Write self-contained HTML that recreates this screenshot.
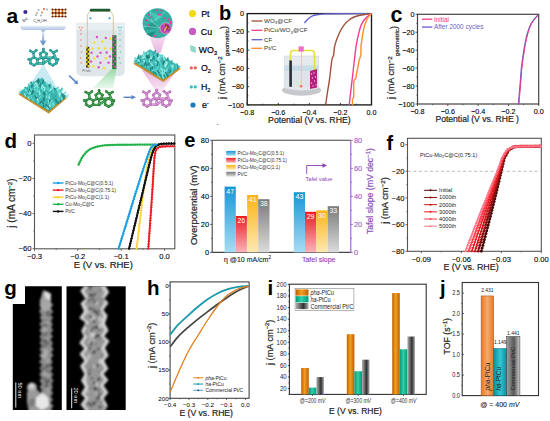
<!DOCTYPE html>
<html><head><meta charset="utf-8"><style>
html,body{margin:0;padding:0;background:#fff;}
body{width:550px;height:421px;overflow:hidden;}
svg{display:block;font-family:"Liberation Sans",sans-serif;}
</style></head><body>
<svg width="550" height="421" viewBox="0 0 550 421">
<defs>
<linearGradient id="gBlue" x1="0" y1="0" x2="0" y2="1"><stop offset="0" stop-color="#1896d6"/><stop offset="1" stop-color="#a8dcf4"/></linearGradient>
<linearGradient id="gRed" x1="0" y1="0" x2="0" y2="1"><stop offset="0" stop-color="#ec1c24"/><stop offset="1" stop-color="#f9b4bb"/></linearGradient>
<linearGradient id="gYel" x1="0" y1="0" x2="0" y2="1"><stop offset="0" stop-color="#fbb414"/><stop offset="1" stop-color="#fde9b4"/></linearGradient>
<linearGradient id="gGray" x1="0" y1="0" x2="0" y2="1"><stop offset="0" stop-color="#7a7a7a"/><stop offset="1" stop-color="#dcdcdc"/></linearGradient>
<linearGradient id="cOr" x1="0" y1="0" x2="1" y2="0"><stop offset="0" stop-color="#c06000"/><stop offset="0.45" stop-color="#f0a020"/><stop offset="1" stop-color="#c06000"/></linearGradient>
<linearGradient id="cTe" x1="0" y1="0" x2="1" y2="0"><stop offset="0" stop-color="#009a7a"/><stop offset="0.45" stop-color="#30d0a8"/><stop offset="1" stop-color="#009a7a"/></linearGradient>
<linearGradient id="cGr" x1="0" y1="0" x2="1" y2="0"><stop offset="0" stop-color="#b0b0b0"/><stop offset="0.6" stop-color="#303030"/><stop offset="1" stop-color="#b4b4b4"/></linearGradient>
<linearGradient id="jOr" x1="0" y1="0" x2="1" y2="0"><stop offset="0" stop-color="#e87828"/><stop offset="0.5" stop-color="#f8a868"/><stop offset="1" stop-color="#e87828"/></linearGradient>
<linearGradient id="jTe" x1="0" y1="0" x2="1" y2="0"><stop offset="0" stop-color="#108c98"/><stop offset="0.5" stop-color="#30c8d4"/><stop offset="1" stop-color="#108c98"/></linearGradient>
<linearGradient id="jGr" x1="0" y1="0" x2="1" y2="0"><stop offset="0" stop-color="#a0a0a0"/><stop offset="0.55" stop-color="#585858"/><stop offset="1" stop-color="#d0d0d0"/></linearGradient>
<filter id="blur1" x="-20%" y="-20%" width="140%" height="140%"><feGaussianBlur stdDeviation="0.6"/></filter>
<filter id="blurT" x="-20%" y="-5%" width="140%" height="110%"><feGaussianBlur stdDeviation="0.85"/></filter>
<filter id="blur2" x="-20%" y="-20%" width="140%" height="140%"><feGaussianBlur stdDeviation="1.0"/></filter>
<clipPath id="clipG1"><path d="M25,286.3 L61.8,286.3 L61.8,410 L12.8,410 L12.8,304.1 L25,304.1 Z"/></clipPath>
<clipPath id="clipG2"><rect x="66.5" y="286.3" width="59.2" height="123.7"/></clipPath>
<linearGradient id="wireL" x1="0" y1="0" x2="1" y2="0"><stop offset="0" stop-color="#707070"/><stop offset="0.5" stop-color="#9a9a9a"/><stop offset="1" stop-color="#6a6a6a"/></linearGradient>
<linearGradient id="wireR" x1="0" y1="0" x2="1" y2="0"><stop offset="0" stop-color="#a8a8a8"/><stop offset="0.5" stop-color="#c8c8c8"/><stop offset="1" stop-color="#a0a0a0"/></linearGradient>
</defs>
<text x="219.00" y="20.00" font-size="20" font-weight="bold" fill="#000">b</text>
<g>
<ellipse cx="301.6" cy="90.2" rx="19.6" ry="5.5" fill="#c6c8cb"/>
<path d="M284.3,56 L318.5,56 L318.5,88 Q301.4,93 284.3,88 Z" fill="#e6eaee" stroke="#cfd4d8" stroke-width="0.6"/>
<rect x="284.30" y="65.50" width="34.20" height="5.80" fill="#c8dce8"/>
<rect x="284.30" y="71.30" width="34.20" height="16.00" fill="#dde5ec"/>
<path d="M290.5,62 L290.5,54 Q290.5,50.5 294,50.5 L311,50.5 Q314.5,50.5 314.5,54 L314.5,71" fill="none" stroke="#e3df3c" stroke-width="1.6"/>
<rect x="289.30" y="60.50" width="2.60" height="26.30" fill="#2a2e34"/>
<line x1="301.50" y1="51.00" x2="301.20" y2="86.00" stroke="#e8d070" stroke-width="0.9"/>
<circle cx="301.1" cy="86.3" r="1.4" fill="#f08060"/>
<rect x="298.60" y="46.40" width="5.20" height="5.20" fill="#f070c0"/>
<path d="M310,71 L317,69 L317,87.5 L310,89 Z" fill="#b0207e"/>
<circle cx="311.5" cy="74" r="0.7" fill="#f0c0e0"/>
<circle cx="314" cy="73" r="0.7" fill="#f0c0e0"/>
<circle cx="312.5" cy="78" r="0.7" fill="#f0c0e0"/>
<circle cx="315.5" cy="77" r="0.7" fill="#f0c0e0"/>
<circle cx="311.5" cy="83" r="0.7" fill="#f0c0e0"/>
<circle cx="314.5" cy="81" r="0.7" fill="#f0c0e0"/>
<circle cx="313" cy="86" r="0.7" fill="#f0c0e0"/>
<circle cx="316" cy="85" r="0.7" fill="#f0c0e0"/>
</g>
<rect x="247.20" y="13.60" width="124.30" height="91.30" fill="none" stroke="#1a1a1a" stroke-width="1.35"/>
<line x1="247.20" y1="13.60" x2="249.20" y2="13.60" stroke="#222" stroke-width="0.9"/>
<text x="244.00" y="16.20" font-size="7.2" text-anchor="end" fill="#000" stroke="#000" stroke-width="0.1">0</text>
<line x1="247.20" y1="22.73" x2="248.40" y2="22.73" stroke="#222" stroke-width="0.8"/>
<line x1="247.20" y1="31.86" x2="249.20" y2="31.86" stroke="#222" stroke-width="0.9"/>
<text x="244.00" y="34.46" font-size="7.2" text-anchor="end" fill="#000" stroke="#000" stroke-width="0.1">&#8722;20</text>
<line x1="247.20" y1="40.99" x2="248.40" y2="40.99" stroke="#222" stroke-width="0.8"/>
<line x1="247.20" y1="50.12" x2="249.20" y2="50.12" stroke="#222" stroke-width="0.9"/>
<text x="244.00" y="52.72" font-size="7.2" text-anchor="end" fill="#000" stroke="#000" stroke-width="0.1">&#8722;40</text>
<line x1="247.20" y1="59.25" x2="248.40" y2="59.25" stroke="#222" stroke-width="0.8"/>
<line x1="247.20" y1="68.38" x2="249.20" y2="68.38" stroke="#222" stroke-width="0.9"/>
<text x="244.00" y="70.98" font-size="7.2" text-anchor="end" fill="#000" stroke="#000" stroke-width="0.1">&#8722;60</text>
<line x1="247.20" y1="77.51" x2="248.40" y2="77.51" stroke="#222" stroke-width="0.8"/>
<line x1="247.20" y1="86.64" x2="249.20" y2="86.64" stroke="#222" stroke-width="0.9"/>
<text x="244.00" y="89.24" font-size="7.2" text-anchor="end" fill="#000" stroke="#000" stroke-width="0.1">&#8722;80</text>
<line x1="247.20" y1="95.77" x2="248.40" y2="95.77" stroke="#222" stroke-width="0.8"/>
<line x1="247.20" y1="104.90" x2="249.20" y2="104.90" stroke="#222" stroke-width="0.9"/>
<text x="244.00" y="107.50" font-size="7.2" text-anchor="end" fill="#000" stroke="#000" stroke-width="0.1">&#8722;100</text>
<line x1="247.20" y1="104.90" x2="247.20" y2="102.90" stroke="#222" stroke-width="0.9"/>
<text x="247.20" y="114.50" font-size="7.2" text-anchor="middle" fill="#000" stroke="#000" stroke-width="0.1">&#8722;0.8</text>
<line x1="262.74" y1="104.90" x2="262.74" y2="103.70" stroke="#222" stroke-width="0.8"/>
<line x1="278.27" y1="104.90" x2="278.27" y2="102.90" stroke="#222" stroke-width="0.9"/>
<text x="278.27" y="114.50" font-size="7.2" text-anchor="middle" fill="#000" stroke="#000" stroke-width="0.1">&#8722;0.6</text>
<line x1="293.81" y1="104.90" x2="293.81" y2="103.70" stroke="#222" stroke-width="0.8"/>
<line x1="309.35" y1="104.90" x2="309.35" y2="102.90" stroke="#222" stroke-width="0.9"/>
<text x="309.35" y="114.50" font-size="7.2" text-anchor="middle" fill="#000" stroke="#000" stroke-width="0.1">&#8722;0.4</text>
<line x1="324.89" y1="104.90" x2="324.89" y2="103.70" stroke="#222" stroke-width="0.8"/>
<line x1="340.43" y1="104.90" x2="340.43" y2="102.90" stroke="#222" stroke-width="0.9"/>
<text x="340.43" y="114.50" font-size="7.2" text-anchor="middle" fill="#000" stroke="#000" stroke-width="0.1">&#8722;0.2</text>
<line x1="355.96" y1="104.90" x2="355.96" y2="103.70" stroke="#222" stroke-width="0.8"/>
<line x1="371.50" y1="104.90" x2="371.50" y2="102.90" stroke="#222" stroke-width="0.9"/>
<text x="371.50" y="114.50" font-size="7.2" text-anchor="middle" fill="#000" stroke="#000" stroke-width="0.1">0.0</text>
<text x="309.40" y="123.30" font-size="8.75" text-anchor="middle" fill="#222" stroke="#222" stroke-width="0.2">Potential (V vs. RHE)</text>
<text transform="translate(224.6,62.5) rotate(-90)" font-size="9.2" text-anchor="middle" fill="#222" stroke="#222" stroke-width="0.2">j (mA cm<tspan font-size="6.2" dy="-2.4">&#8722;2</tspan><tspan font-size="6.2" dy="7.0">geometric</tspan><tspan dy="-2.2">)</tspan></text>
<path d="M304.80,22.50 C305.43,21.83 307.20,19.63 308.60,18.50 C310.00,17.37 311.53,16.37 313.20,15.70 C314.87,15.03 316.33,14.80 318.60,14.50 C320.87,14.20 323.23,14.03 326.80,13.90 C330.37,13.77 332.63,13.75 340.00,13.70 C347.37,13.65 365.83,13.62 371.00,13.60" stroke="#6060c8" stroke-width="1.4" fill="none" stroke-linejoin="round" stroke-linecap="round"/>
<path d="M325.70,105.00 C326.00,102.83 326.88,96.13 327.50,92.00 C328.12,87.87 328.67,85.53 329.40,80.20 C330.13,74.87 331.20,64.20 331.90,60.00 C332.60,55.80 333.12,57.40 333.60,55.00 C334.08,52.60 333.90,49.13 334.80,45.60 C335.70,42.07 337.50,37.17 339.00,33.80 C340.50,30.43 342.02,27.78 343.80,25.40 C345.58,23.02 347.73,20.98 349.70,19.50 C351.67,18.02 353.05,17.33 355.60,16.50 C358.15,15.67 362.38,14.95 365.00,14.50 C367.62,14.05 370.25,13.92 371.30,13.80" stroke="#a0503a" stroke-width="1.4" fill="none" stroke-linejoin="round" stroke-linecap="round"/>
<path d="M349.20,105.00 C349.45,102.83 350.22,96.13 350.70,92.00 C351.18,87.87 351.48,85.53 352.10,80.20 C352.72,74.87 353.92,64.20 354.40,60.00 C354.88,55.80 354.70,57.40 355.00,55.00 C355.30,52.60 355.60,49.13 356.20,45.60 C356.80,42.07 357.80,37.17 358.60,33.80 C359.40,30.43 360.02,27.78 361.00,25.40 C361.98,23.02 363.42,20.98 364.50,19.50 C365.58,18.02 366.37,17.45 367.50,16.50 C368.63,15.55 370.67,14.25 371.30,13.80" stroke="#f03c96" stroke-width="1.4" fill="none" stroke-linejoin="round" stroke-linecap="round"/>
<path d="M352.50,104.50 L352.50,99.00 L353.70,97.00 L353.70,82.00 L354.20,80.20 L355.90,78.30 L356.50,73.90 L357.80,67.60 L359.20,60.00 L360.90,55.00 L361.00,45.60 L362.80,33.80 L364.50,25.40 L366.90,19.50 L369.00,16.00 L371.30,13.80" stroke="#ff8c28" stroke-width="1.4" fill="none" stroke-linejoin="round" stroke-linecap="round"/>
<line x1="251.50" y1="21.00" x2="262.40" y2="21.00" stroke="#a0503a" stroke-width="1.3"/>
<text x="264.10" y="22.90" font-size="6.25" fill="#333">WO<tspan font-size="4.4" dy="1.5">3</tspan><tspan dy="-1.5">@CF</tspan></text>
<line x1="251.50" y1="30.30" x2="262.40" y2="30.30" stroke="#f03c96" stroke-width="1.3"/>
<text x="264.10" y="32.20" font-size="6.25" fill="#333">PtCu/WO<tspan font-size="4.4" dy="1.5">3</tspan><tspan dy="-1.5">@CF</tspan></text>
<line x1="251.50" y1="39.70" x2="262.40" y2="39.70" stroke="#6060c8" stroke-width="1.3"/>
<text x="264.10" y="41.60" font-size="6.25" fill="#333">CF</text>
<line x1="251.50" y1="48.30" x2="262.40" y2="48.30" stroke="#ff8c28" stroke-width="1.3"/>
<text x="264.10" y="50.20" font-size="6.25" fill="#333">Pt/C</text>
<text x="390.60" y="21.60" font-size="21.5" font-weight="bold" fill="#000">c</text>
<rect x="417.50" y="14.30" width="121.20" height="89.70" fill="none" stroke="#444" stroke-width="1.2"/>
<line x1="417.50" y1="14.30" x2="415.50" y2="14.30" stroke="#444" stroke-width="0.9"/>
<text x="414.50" y="16.89" font-size="7.2" text-anchor="end" fill="#000" stroke="#000" stroke-width="0.1">0</text>
<line x1="417.50" y1="23.27" x2="416.30" y2="23.27" stroke="#444" stroke-width="0.8"/>
<line x1="417.50" y1="32.24" x2="415.50" y2="32.24" stroke="#444" stroke-width="0.9"/>
<text x="414.50" y="34.83" font-size="7.2" text-anchor="end" fill="#000" stroke="#000" stroke-width="0.1">&#8722;20</text>
<line x1="417.50" y1="41.21" x2="416.30" y2="41.21" stroke="#444" stroke-width="0.8"/>
<line x1="417.50" y1="50.18" x2="415.50" y2="50.18" stroke="#444" stroke-width="0.9"/>
<text x="414.50" y="52.77" font-size="7.2" text-anchor="end" fill="#000" stroke="#000" stroke-width="0.1">&#8722;40</text>
<line x1="417.50" y1="59.15" x2="416.30" y2="59.15" stroke="#444" stroke-width="0.8"/>
<line x1="417.50" y1="68.12" x2="415.50" y2="68.12" stroke="#444" stroke-width="0.9"/>
<text x="414.50" y="70.71" font-size="7.2" text-anchor="end" fill="#000" stroke="#000" stroke-width="0.1">&#8722;60</text>
<line x1="417.50" y1="77.09" x2="416.30" y2="77.09" stroke="#444" stroke-width="0.8"/>
<line x1="417.50" y1="86.06" x2="415.50" y2="86.06" stroke="#444" stroke-width="0.9"/>
<text x="414.50" y="88.65" font-size="7.2" text-anchor="end" fill="#000" stroke="#000" stroke-width="0.1">&#8722;80</text>
<line x1="417.50" y1="95.03" x2="416.30" y2="95.03" stroke="#444" stroke-width="0.8"/>
<line x1="417.50" y1="104.00" x2="415.50" y2="104.00" stroke="#444" stroke-width="0.9"/>
<text x="414.50" y="106.59" font-size="7.2" text-anchor="end" fill="#000" stroke="#000" stroke-width="0.1">&#8722;100</text>
<line x1="417.50" y1="104.00" x2="417.50" y2="106.00" stroke="#444" stroke-width="0.9"/>
<text x="417.50" y="113.60" font-size="7.2" text-anchor="middle" fill="#000" stroke="#000" stroke-width="0.1">&#8722;0.8</text>
<line x1="432.65" y1="104.00" x2="432.65" y2="105.20" stroke="#444" stroke-width="0.8"/>
<line x1="447.80" y1="104.00" x2="447.80" y2="106.00" stroke="#444" stroke-width="0.9"/>
<text x="447.80" y="113.60" font-size="7.2" text-anchor="middle" fill="#000" stroke="#000" stroke-width="0.1">&#8722;0.6</text>
<line x1="462.95" y1="104.00" x2="462.95" y2="105.20" stroke="#444" stroke-width="0.8"/>
<line x1="478.10" y1="104.00" x2="478.10" y2="106.00" stroke="#444" stroke-width="0.9"/>
<text x="478.10" y="113.60" font-size="7.2" text-anchor="middle" fill="#000" stroke="#000" stroke-width="0.1">&#8722;0.4</text>
<line x1="493.25" y1="104.00" x2="493.25" y2="105.20" stroke="#444" stroke-width="0.8"/>
<line x1="508.40" y1="104.00" x2="508.40" y2="106.00" stroke="#444" stroke-width="0.9"/>
<text x="508.40" y="113.60" font-size="7.2" text-anchor="middle" fill="#000" stroke="#000" stroke-width="0.1">&#8722;0.2</text>
<line x1="523.55" y1="104.00" x2="523.55" y2="105.20" stroke="#444" stroke-width="0.8"/>
<line x1="538.70" y1="104.00" x2="538.70" y2="106.00" stroke="#444" stroke-width="0.9"/>
<text x="538.70" y="113.60" font-size="7.2" text-anchor="middle" fill="#000" stroke="#000" stroke-width="0.1">0.0</text>
<text x="477.20" y="122.40" font-size="8.6" text-anchor="middle" fill="#222" stroke="#222" stroke-width="0.2">Potential (V vs. RHE )</text>
<text transform="translate(394.4,62.5) rotate(-90)" font-size="9.2" text-anchor="middle" fill="#222" stroke="#222" stroke-width="0.2">j (mA cm<tspan font-size="6.2" dy="-2.4">&#8722;2</tspan><tspan font-size="6.2" dy="7.0">geometric</tspan><tspan dy="-2.2">)</tspan></text>
<path d="M518.50,104.00 C518.65,102.18 519.08,96.88 519.40,93.10 C519.72,89.32 520.08,85.25 520.40,81.30 C520.72,77.35 520.90,73.37 521.30,69.40 C521.70,65.43 522.23,61.47 522.80,57.50 C523.37,53.53 523.95,49.55 524.70,45.60 C525.45,41.65 526.28,37.35 527.30,33.80 C528.32,30.25 529.62,26.77 530.80,24.30 C531.98,21.83 533.28,20.47 534.40,19.00 C535.52,17.53 536.98,16.08 537.50,15.50" stroke="#6a5ad0" stroke-width="1.3" fill="none" stroke-linejoin="round" stroke-linecap="round"/>
<path d="M518.95,104.00 C519.10,102.18 519.53,96.88 519.85,93.10 C520.17,89.32 520.53,85.25 520.85,81.30 C521.17,77.35 521.35,73.37 521.75,69.40 C522.15,65.43 522.68,61.47 523.25,57.50 C523.82,53.53 524.40,49.55 525.15,45.60 C525.90,41.65 526.73,37.35 527.75,33.80 C528.77,30.25 530.07,26.77 531.25,24.30 C532.43,21.83 533.73,20.47 534.85,19.00 C535.97,17.53 537.43,16.08 537.95,15.50" stroke="#f03c8c" stroke-width="1.0" fill="none" stroke-linejoin="round" stroke-linecap="round"/>
<line x1="422.00" y1="19.20" x2="432.40" y2="19.20" stroke="#f03c8c" stroke-width="1.3"/>
<text x="434.00" y="21.50" font-size="6.45" fill="#f8307c">Initial</text>
<line x1="422.00" y1="27.10" x2="432.40" y2="27.10" stroke="#6a5ad0" stroke-width="1.3"/>
<text x="434.00" y="29.40" font-size="6.45" fill="#6a60c4">After 2000 cycles</text>
<text x="4.60" y="147.50" font-size="20.5" font-weight="bold" fill="#000">d</text>
<rect x="34.50" y="135.00" width="140.30" height="113.80" fill="none" stroke="#555" stroke-width="1.1"/>
<line x1="34.50" y1="143.30" x2="32.50" y2="143.30" stroke="#555" stroke-width="0.9"/>
<text x="31.50" y="146.04" font-size="7.6" text-anchor="end" fill="#000" stroke="#000" stroke-width="0.1">0</text>
<line x1="34.50" y1="178.43" x2="32.50" y2="178.43" stroke="#555" stroke-width="0.9"/>
<text x="31.50" y="181.17" font-size="7.6" text-anchor="end" fill="#000" stroke="#000" stroke-width="0.1">&#8722;20</text>
<line x1="34.50" y1="213.56" x2="32.50" y2="213.56" stroke="#555" stroke-width="0.9"/>
<text x="31.50" y="216.30" font-size="7.6" text-anchor="end" fill="#000" stroke="#000" stroke-width="0.1">&#8722;40</text>
<line x1="34.50" y1="248.69" x2="32.50" y2="248.69" stroke="#555" stroke-width="0.9"/>
<text x="31.50" y="251.43" font-size="7.6" text-anchor="end" fill="#000" stroke="#000" stroke-width="0.1">&#8722;60</text>
<line x1="34.50" y1="160.87" x2="33.30" y2="160.87" stroke="#555" stroke-width="0.8"/>
<line x1="34.50" y1="196.00" x2="33.30" y2="196.00" stroke="#555" stroke-width="0.8"/>
<line x1="34.50" y1="231.12" x2="33.30" y2="231.12" stroke="#555" stroke-width="0.8"/>
<line x1="34.50" y1="248.80" x2="34.50" y2="250.80" stroke="#555" stroke-width="0.9"/>
<text x="34.50" y="259.00" font-size="7.6" text-anchor="middle" fill="#000" stroke="#000" stroke-width="0.1">&#8722;0.3</text>
<line x1="56.17" y1="248.80" x2="56.17" y2="250.00" stroke="#555" stroke-width="0.8"/>
<line x1="77.85" y1="248.80" x2="77.85" y2="250.80" stroke="#555" stroke-width="0.9"/>
<text x="77.85" y="259.00" font-size="7.6" text-anchor="middle" fill="#000" stroke="#000" stroke-width="0.1">&#8722;0.2</text>
<line x1="99.53" y1="248.80" x2="99.53" y2="250.00" stroke="#555" stroke-width="0.8"/>
<line x1="121.20" y1="248.80" x2="121.20" y2="250.80" stroke="#555" stroke-width="0.9"/>
<text x="121.20" y="259.00" font-size="7.6" text-anchor="middle" fill="#000" stroke="#000" stroke-width="0.1">&#8722;0.1</text>
<line x1="142.88" y1="248.80" x2="142.88" y2="250.00" stroke="#555" stroke-width="0.8"/>
<line x1="164.55" y1="248.80" x2="164.55" y2="250.80" stroke="#555" stroke-width="0.9"/>
<text x="164.55" y="259.00" font-size="7.6" text-anchor="middle" fill="#000" stroke="#000" stroke-width="0.1">0.0</text>
<text x="103.30" y="268.00" font-size="9.5" text-anchor="middle" fill="#222" stroke="#222" stroke-width="0.2">E (V vs. RHE)</text>
<text transform="translate(15.2,203) rotate(-90)" font-size="10.0" text-anchor="middle" fill="#222" stroke="#222" stroke-width="0.2">j (mA cm<tspan font-size="6.2" dy="-3.6">&#8722;2</tspan><tspan dy="3.6">)</tspan></text>
<path d="M78.60,164.60 C79.17,163.42 80.65,159.67 82.00,157.50 C83.35,155.33 85.20,153.08 86.70,151.60 C88.20,150.12 89.33,149.42 91.00,148.60 C92.67,147.78 94.70,147.22 96.70,146.70 C98.70,146.18 100.78,145.78 103.00,145.50 C105.22,145.22 107.17,145.13 110.00,145.00 C112.83,144.87 115.00,144.77 120.00,144.70 C125.00,144.63 134.17,144.62 140.00,144.60 C145.83,144.58 152.50,144.60 155.00,144.60" stroke="#22b24c" stroke-width="1.5" fill="none" stroke-linejoin="round" stroke-linecap="round"/>
<circle cx="78.60" cy="164.60" r="1.2" fill="#22b24c"/>
<circle cx="79.68" cy="162.35" r="1.2" fill="#22b24c"/>
<circle cx="80.76" cy="160.09" r="1.2" fill="#22b24c"/>
<circle cx="81.84" cy="157.84" r="1.2" fill="#22b24c"/>
<circle cx="83.33" cy="155.84" r="1.2" fill="#22b24c"/>
<circle cx="84.88" cy="153.88" r="1.2" fill="#22b24c"/>
<circle cx="86.44" cy="151.92" r="1.2" fill="#22b24c"/>
<circle cx="88.41" cy="150.41" r="1.2" fill="#22b24c"/>
<circle cx="90.46" cy="148.98" r="1.2" fill="#22b24c"/>
<circle cx="92.75" cy="148.02" r="1.2" fill="#22b24c"/>
<circle cx="95.12" cy="147.23" r="1.2" fill="#22b24c"/>
<circle cx="97.52" cy="146.54" r="1.2" fill="#22b24c"/>
<circle cx="99.97" cy="146.08" r="1.2" fill="#22b24c"/>
<circle cx="102.43" cy="145.61" r="1.2" fill="#22b24c"/>
<circle cx="104.92" cy="145.36" r="1.2" fill="#22b24c"/>
<circle cx="107.41" cy="145.19" r="1.2" fill="#22b24c"/>
<circle cx="109.90" cy="145.01" r="1.2" fill="#22b24c"/>
<circle cx="112.40" cy="144.93" r="1.2" fill="#22b24c"/>
<circle cx="114.90" cy="144.85" r="1.2" fill="#22b24c"/>
<circle cx="117.40" cy="144.78" r="1.2" fill="#22b24c"/>
<circle cx="119.90" cy="144.70" r="1.2" fill="#22b24c"/>
<circle cx="122.40" cy="144.69" r="1.2" fill="#22b24c"/>
<circle cx="124.90" cy="144.68" r="1.2" fill="#22b24c"/>
<circle cx="127.40" cy="144.66" r="1.2" fill="#22b24c"/>
<circle cx="129.90" cy="144.65" r="1.2" fill="#22b24c"/>
<circle cx="132.40" cy="144.64" r="1.2" fill="#22b24c"/>
<circle cx="134.90" cy="144.63" r="1.2" fill="#22b24c"/>
<circle cx="137.40" cy="144.61" r="1.2" fill="#22b24c"/>
<circle cx="139.90" cy="144.60" r="1.2" fill="#22b24c"/>
<circle cx="142.40" cy="144.60" r="1.2" fill="#22b24c"/>
<circle cx="144.90" cy="144.60" r="1.2" fill="#22b24c"/>
<circle cx="147.40" cy="144.60" r="1.2" fill="#22b24c"/>
<circle cx="149.90" cy="144.60" r="1.2" fill="#22b24c"/>
<circle cx="152.40" cy="144.60" r="1.2" fill="#22b24c"/>
<circle cx="154.90" cy="144.60" r="1.2" fill="#22b24c"/>
<path d="M148.30,248.50 C148.62,244.08 149.57,230.92 150.20,222.00 C150.83,213.08 151.53,203.67 152.10,195.00 C152.67,186.33 153.18,176.50 153.60,170.00 C154.02,163.50 154.20,159.33 154.60,156.00 C155.00,152.67 155.35,151.43 156.00,150.00 C156.65,148.57 157.50,148.00 158.50,147.40 C159.50,146.80 160.42,146.60 162.00,146.40 C163.58,146.20 165.92,146.23 168.00,146.20 C170.08,146.17 173.42,146.20 174.50,146.20" stroke="#ee1c25" stroke-width="1.6" fill="none" stroke-linejoin="round" stroke-linecap="round"/>
<path d="M148.30,246.88 L149.79,249.58 L146.81,249.58Z" fill="#ee1c25"/>
<path d="M148.49,244.29 L149.97,246.99 L147.00,246.99Z" fill="#ee1c25"/>
<path d="M148.67,241.69 L150.16,244.39 L147.19,244.39Z" fill="#ee1c25"/>
<path d="M148.86,239.10 L150.34,241.80 L147.37,241.80Z" fill="#ee1c25"/>
<path d="M149.04,236.51 L150.53,239.21 L147.56,239.21Z" fill="#ee1c25"/>
<path d="M149.23,233.91 L150.71,236.61 L147.74,236.61Z" fill="#ee1c25"/>
<path d="M149.42,231.32 L150.90,234.02 L147.93,234.02Z" fill="#ee1c25"/>
<path d="M149.60,228.73 L151.09,231.43 L148.12,231.43Z" fill="#ee1c25"/>
<path d="M149.79,226.13 L151.27,228.83 L148.30,228.83Z" fill="#ee1c25"/>
<path d="M149.97,223.54 L151.46,226.24 L148.49,226.24Z" fill="#ee1c25"/>
<path d="M150.16,220.95 L151.64,223.65 L148.67,223.65Z" fill="#ee1c25"/>
<path d="M150.34,218.35 L151.83,221.05 L148.86,221.05Z" fill="#ee1c25"/>
<path d="M150.53,215.76 L152.01,218.46 L149.04,218.46Z" fill="#ee1c25"/>
<path d="M150.71,213.17 L152.19,215.87 L149.22,215.87Z" fill="#ee1c25"/>
<path d="M150.89,210.57 L152.38,213.27 L149.41,213.27Z" fill="#ee1c25"/>
<path d="M151.07,207.98 L152.56,210.68 L149.59,210.68Z" fill="#ee1c25"/>
<path d="M151.26,205.39 L152.74,208.09 L149.77,208.09Z" fill="#ee1c25"/>
<path d="M151.44,202.79 L152.92,205.49 L149.95,205.49Z" fill="#ee1c25"/>
<path d="M151.62,200.20 L153.11,202.90 L150.14,202.90Z" fill="#ee1c25"/>
<path d="M151.80,197.60 L153.29,200.30 L150.32,200.30Z" fill="#ee1c25"/>
<path d="M151.99,195.01 L153.47,197.71 L150.50,197.71Z" fill="#ee1c25"/>
<path d="M152.16,192.42 L153.64,195.12 L150.67,195.12Z" fill="#ee1c25"/>
<path d="M152.31,189.82 L153.80,192.52 L150.83,192.52Z" fill="#ee1c25"/>
<path d="M152.47,187.23 L153.95,189.93 L150.98,189.93Z" fill="#ee1c25"/>
<path d="M152.62,184.63 L154.11,187.33 L151.14,187.33Z" fill="#ee1c25"/>
<path d="M152.78,182.04 L154.27,184.74 L151.30,184.74Z" fill="#ee1c25"/>
<path d="M152.94,179.44 L154.42,182.14 L151.45,182.14Z" fill="#ee1c25"/>
<path d="M153.09,176.84 L154.58,179.54 L151.61,179.54Z" fill="#ee1c25"/>
<path d="M153.25,174.25 L154.73,176.95 L151.76,176.95Z" fill="#ee1c25"/>
<path d="M153.40,171.65 L154.89,174.35 L151.92,174.35Z" fill="#ee1c25"/>
<path d="M153.56,169.06 L155.04,171.76 L152.07,171.76Z" fill="#ee1c25"/>
<path d="M153.74,166.46 L155.22,169.16 L152.25,169.16Z" fill="#ee1c25"/>
<path d="M153.92,163.87 L155.41,166.57 L152.44,166.57Z" fill="#ee1c25"/>
<path d="M154.11,161.28 L155.59,163.98 L152.62,163.98Z" fill="#ee1c25"/>
<path d="M154.29,158.68 L155.78,161.38 L152.81,161.38Z" fill="#ee1c25"/>
<path d="M154.48,156.09 L155.96,158.79 L152.99,158.79Z" fill="#ee1c25"/>
<path d="M154.80,153.52 L156.29,156.22 L153.32,156.22Z" fill="#ee1c25"/>
<path d="M155.39,150.99 L156.88,153.69 L153.91,153.69Z" fill="#ee1c25"/>
<path d="M155.98,148.45 L157.47,151.15 L154.50,151.15Z" fill="#ee1c25"/>
<path d="M157.75,146.56 L159.23,149.26 L156.26,149.26Z" fill="#ee1c25"/>
<path d="M159.96,145.36 L161.44,148.06 L158.47,148.06Z" fill="#ee1c25"/>
<path d="M162.48,144.76 L163.96,147.46 L160.99,147.46Z" fill="#ee1c25"/>
<path d="M165.07,144.68 L166.56,147.38 L163.59,147.38Z" fill="#ee1c25"/>
<path d="M167.67,144.59 L169.16,147.29 L166.19,147.29Z" fill="#ee1c25"/>
<path d="M170.27,144.58 L171.76,147.28 L168.79,147.28Z" fill="#ee1c25"/>
<path d="M172.87,144.58 L174.36,147.28 L171.39,147.28Z" fill="#ee1c25"/>
<path d="M136.60,248.50 C137.13,244.08 138.73,230.92 139.80,222.00 C140.87,213.08 141.88,203.67 143.00,195.00 C144.12,186.33 145.33,176.67 146.50,170.00 C147.67,163.33 149.00,158.58 150.00,155.00 C151.00,151.42 151.58,150.07 152.50,148.50 C153.42,146.93 154.25,146.25 155.50,145.60 C156.75,144.95 159.25,144.77 160.00,144.60" stroke="#ffd232" stroke-width="1.5" fill="none" stroke-linejoin="round" stroke-linecap="round"/>
<path d="M136.60,247.06 L137.92,249.46 L135.28,249.46Z" fill="#ffd232"/>
<path d="M136.91,244.48 L138.23,246.88 L135.59,246.88Z" fill="#ffd232"/>
<path d="M137.22,241.90 L138.54,244.30 L135.90,244.30Z" fill="#ffd232"/>
<path d="M137.54,239.32 L138.86,241.72 L136.22,241.72Z" fill="#ffd232"/>
<path d="M137.85,236.74 L139.17,239.14 L136.53,239.14Z" fill="#ffd232"/>
<path d="M138.16,234.15 L139.48,236.55 L136.84,236.55Z" fill="#ffd232"/>
<path d="M138.47,231.57 L139.79,233.97 L137.15,233.97Z" fill="#ffd232"/>
<path d="M138.78,228.99 L140.10,231.39 L137.46,231.39Z" fill="#ffd232"/>
<path d="M139.09,226.41 L140.41,228.81 L137.77,228.81Z" fill="#ffd232"/>
<path d="M139.41,223.83 L140.73,226.23 L138.09,226.23Z" fill="#ffd232"/>
<path d="M139.72,221.25 L141.04,223.65 L138.40,223.65Z" fill="#ffd232"/>
<path d="M140.02,218.67 L141.34,221.07 L138.70,221.07Z" fill="#ffd232"/>
<path d="M140.33,216.08 L141.65,218.48 L139.01,218.48Z" fill="#ffd232"/>
<path d="M140.64,213.50 L141.96,215.90 L139.32,215.90Z" fill="#ffd232"/>
<path d="M140.94,210.92 L142.26,213.32 L139.62,213.32Z" fill="#ffd232"/>
<path d="M141.25,208.34 L142.57,210.74 L139.93,210.74Z" fill="#ffd232"/>
<path d="M141.55,205.76 L142.87,208.16 L140.23,208.16Z" fill="#ffd232"/>
<path d="M141.86,203.17 L143.18,205.57 L140.54,205.57Z" fill="#ffd232"/>
<path d="M142.17,200.59 L143.49,202.99 L140.85,202.99Z" fill="#ffd232"/>
<path d="M142.47,198.01 L143.79,200.41 L141.15,200.41Z" fill="#ffd232"/>
<path d="M142.78,195.43 L144.10,197.83 L141.46,197.83Z" fill="#ffd232"/>
<path d="M143.10,192.85 L144.42,195.25 L141.78,195.25Z" fill="#ffd232"/>
<path d="M143.46,190.27 L144.78,192.67 L142.14,192.67Z" fill="#ffd232"/>
<path d="M143.82,187.70 L145.14,190.10 L142.50,190.10Z" fill="#ffd232"/>
<path d="M144.18,185.12 L145.50,187.52 L142.86,187.52Z" fill="#ffd232"/>
<path d="M144.54,182.55 L145.86,184.95 L143.22,184.95Z" fill="#ffd232"/>
<path d="M144.90,179.97 L146.22,182.37 L143.58,182.37Z" fill="#ffd232"/>
<path d="M145.26,177.40 L146.58,179.80 L143.94,179.80Z" fill="#ffd232"/>
<path d="M145.62,174.82 L146.94,177.22 L144.30,177.22Z" fill="#ffd232"/>
<path d="M145.98,172.25 L147.30,174.65 L144.66,174.65Z" fill="#ffd232"/>
<path d="M146.34,169.67 L147.66,172.07 L145.02,172.07Z" fill="#ffd232"/>
<path d="M146.84,167.12 L148.16,169.52 L145.52,169.52Z" fill="#ffd232"/>
<path d="M147.43,164.59 L148.75,166.99 L146.11,166.99Z" fill="#ffd232"/>
<path d="M148.02,162.06 L149.34,164.46 L146.70,164.46Z" fill="#ffd232"/>
<path d="M148.61,159.53 L149.93,161.93 L147.29,161.93Z" fill="#ffd232"/>
<path d="M149.20,157.00 L150.52,159.40 L147.88,159.40Z" fill="#ffd232"/>
<path d="M149.79,154.46 L151.11,156.86 L148.47,156.86Z" fill="#ffd232"/>
<path d="M150.60,152.00 L151.92,154.40 L149.28,154.40Z" fill="#ffd232"/>
<path d="M151.53,149.57 L152.85,151.97 L150.21,151.97Z" fill="#ffd232"/>
<path d="M152.47,147.15 L153.79,149.55 L151.15,149.55Z" fill="#ffd232"/>
<path d="M154.30,145.32 L155.62,147.72 L152.98,147.72Z" fill="#ffd232"/>
<path d="M156.41,143.96 L157.73,146.36 L155.09,146.36Z" fill="#ffd232"/>
<path d="M158.95,143.39 L160.27,145.79 L157.63,145.79Z" fill="#ffd232"/>
<path d="M129.10,248.50 C130.17,244.08 133.35,230.92 135.50,222.00 C137.65,213.08 140.00,203.33 142.00,195.00 C144.00,186.67 145.92,178.50 147.50,172.00 C149.08,165.50 150.42,159.83 151.50,156.00 C152.58,152.17 153.08,150.80 154.00,149.00 C154.92,147.20 155.83,146.05 157.00,145.20 C158.17,144.35 159.17,144.17 161.00,143.90 C162.83,143.63 165.75,143.65 168.00,143.60 C170.25,143.55 173.42,143.60 174.50,143.60" stroke="#111" stroke-width="1.7" fill="none" stroke-linejoin="round" stroke-linecap="round"/>
<path d="M129.10,246.75 L130.45,248.50 L129.10,250.25 L127.75,248.50Z" fill="#111"/>
<path d="M129.71,244.22 L131.06,245.97 L129.71,247.73 L128.36,245.97Z" fill="#111"/>
<path d="M130.32,241.69 L131.67,243.45 L130.32,245.20 L128.97,243.45Z" fill="#111"/>
<path d="M130.93,239.16 L132.28,240.92 L130.93,242.67 L129.58,240.92Z" fill="#111"/>
<path d="M131.54,236.64 L132.89,238.39 L131.54,240.15 L130.19,238.39Z" fill="#111"/>
<path d="M132.15,234.11 L133.50,235.86 L132.15,237.62 L130.80,235.86Z" fill="#111"/>
<path d="M132.76,231.58 L134.11,233.34 L132.76,235.09 L131.41,233.34Z" fill="#111"/>
<path d="M133.37,229.05 L134.72,230.81 L133.37,232.56 L132.02,230.81Z" fill="#111"/>
<path d="M133.98,226.53 L135.33,228.28 L133.98,230.04 L132.63,228.28Z" fill="#111"/>
<path d="M134.59,224.00 L135.94,225.75 L134.59,227.51 L133.24,225.75Z" fill="#111"/>
<path d="M135.20,221.47 L136.55,223.23 L135.20,224.98 L133.85,223.23Z" fill="#111"/>
<path d="M135.81,218.94 L137.16,220.70 L135.81,222.45 L134.46,220.70Z" fill="#111"/>
<path d="M136.42,216.42 L137.77,218.17 L136.42,219.93 L135.07,218.17Z" fill="#111"/>
<path d="M137.03,213.89 L138.38,215.64 L137.03,217.40 L135.68,215.64Z" fill="#111"/>
<path d="M137.64,211.36 L138.99,213.12 L137.64,214.87 L136.29,213.12Z" fill="#111"/>
<path d="M138.25,208.83 L139.60,210.59 L138.25,212.34 L136.90,210.59Z" fill="#111"/>
<path d="M138.86,206.31 L140.21,208.06 L138.86,209.82 L137.51,208.06Z" fill="#111"/>
<path d="M139.46,203.78 L140.81,205.53 L139.46,207.29 L138.11,205.53Z" fill="#111"/>
<path d="M140.07,201.25 L141.42,203.00 L140.07,204.76 L138.72,203.00Z" fill="#111"/>
<path d="M140.68,198.72 L142.03,200.48 L140.68,202.23 L139.33,200.48Z" fill="#111"/>
<path d="M141.29,196.19 L142.64,197.95 L141.29,199.70 L139.94,197.95Z" fill="#111"/>
<path d="M141.90,193.67 L143.25,195.42 L141.90,197.18 L140.55,195.42Z" fill="#111"/>
<path d="M142.50,191.14 L143.85,192.89 L142.50,194.65 L141.15,192.89Z" fill="#111"/>
<path d="M143.11,188.61 L144.46,190.36 L143.11,192.12 L141.76,190.36Z" fill="#111"/>
<path d="M143.71,186.08 L145.06,187.84 L143.71,189.59 L142.36,187.84Z" fill="#111"/>
<path d="M144.32,183.55 L145.67,185.31 L144.32,187.06 L142.97,185.31Z" fill="#111"/>
<path d="M144.92,181.02 L146.27,182.78 L144.92,184.53 L143.57,182.78Z" fill="#111"/>
<path d="M145.53,178.49 L146.88,180.25 L145.53,182.00 L144.18,180.25Z" fill="#111"/>
<path d="M146.13,175.97 L147.48,177.72 L146.13,179.48 L144.78,177.72Z" fill="#111"/>
<path d="M146.74,173.44 L148.09,175.19 L146.74,176.95 L145.39,175.19Z" fill="#111"/>
<path d="M147.34,170.91 L148.69,172.66 L147.34,174.42 L145.99,172.66Z" fill="#111"/>
<path d="M147.97,168.38 L149.32,170.14 L147.97,171.89 L146.62,170.14Z" fill="#111"/>
<path d="M148.60,165.86 L149.95,167.62 L148.60,169.37 L147.25,167.62Z" fill="#111"/>
<path d="M149.23,163.34 L150.58,165.09 L149.23,166.85 L147.88,165.09Z" fill="#111"/>
<path d="M149.86,160.82 L151.21,162.57 L149.86,164.33 L148.51,162.57Z" fill="#111"/>
<path d="M150.49,158.29 L151.84,160.05 L150.49,161.80 L149.14,160.05Z" fill="#111"/>
<path d="M151.12,155.77 L152.47,157.53 L151.12,159.28 L149.77,157.53Z" fill="#111"/>
<path d="M151.85,153.28 L153.20,155.03 L151.85,156.79 L150.50,155.03Z" fill="#111"/>
<path d="M152.72,150.83 L154.07,152.59 L152.72,154.34 L151.37,152.59Z" fill="#111"/>
<path d="M153.59,148.38 L154.94,150.14 L153.59,151.89 L152.24,150.14Z" fill="#111"/>
<path d="M154.86,146.15 L156.21,147.91 L154.86,149.66 L153.51,147.91Z" fill="#111"/>
<path d="M156.47,144.11 L157.82,145.87 L156.47,147.62 L155.12,145.87Z" fill="#111"/>
<path d="M158.67,142.90 L160.02,144.66 L158.67,146.41 L157.32,144.66Z" fill="#111"/>
<path d="M161.15,142.14 L162.50,143.89 L161.15,145.65 L159.80,143.89Z" fill="#111"/>
<path d="M163.74,142.03 L165.09,143.78 L163.74,145.54 L162.39,143.78Z" fill="#111"/>
<path d="M166.34,141.92 L167.69,143.67 L166.34,145.43 L164.99,143.67Z" fill="#111"/>
<path d="M168.94,141.84 L170.29,143.60 L168.94,145.35 L167.59,143.60Z" fill="#111"/>
<path d="M171.54,141.84 L172.89,143.60 L171.54,145.35 L170.19,143.60Z" fill="#111"/>
<path d="M174.14,141.84 L175.49,143.60 L174.14,145.35 L172.79,143.60Z" fill="#111"/>
<path d="M118.60,248.50 C119.97,244.08 124.07,230.92 126.80,222.00 C129.53,213.08 132.42,203.33 135.00,195.00 C137.58,186.67 140.13,178.67 142.30,172.00 C144.47,165.33 146.63,158.95 148.00,155.00 C149.37,151.05 149.58,149.93 150.50,148.30 C151.42,146.67 152.42,145.83 153.50,145.20 C154.58,144.57 156.42,144.62 157.00,144.50" stroke="#1a9ee0" stroke-width="1.5" fill="none" stroke-linejoin="round" stroke-linecap="round"/>
<circle cx="118.60" cy="248.50" r="1.2" fill="#1a9ee0"/>
<circle cx="119.37" cy="246.02" r="1.2" fill="#1a9ee0"/>
<circle cx="120.14" cy="243.53" r="1.2" fill="#1a9ee0"/>
<circle cx="120.91" cy="241.05" r="1.2" fill="#1a9ee0"/>
<circle cx="121.67" cy="238.56" r="1.2" fill="#1a9ee0"/>
<circle cx="122.44" cy="236.08" r="1.2" fill="#1a9ee0"/>
<circle cx="123.21" cy="233.60" r="1.2" fill="#1a9ee0"/>
<circle cx="123.98" cy="231.11" r="1.2" fill="#1a9ee0"/>
<circle cx="124.75" cy="228.63" r="1.2" fill="#1a9ee0"/>
<circle cx="125.52" cy="226.15" r="1.2" fill="#1a9ee0"/>
<circle cx="126.29" cy="223.66" r="1.2" fill="#1a9ee0"/>
<circle cx="127.05" cy="221.18" r="1.2" fill="#1a9ee0"/>
<circle cx="127.81" cy="218.69" r="1.2" fill="#1a9ee0"/>
<circle cx="128.56" cy="216.20" r="1.2" fill="#1a9ee0"/>
<circle cx="129.32" cy="213.71" r="1.2" fill="#1a9ee0"/>
<circle cx="130.07" cy="211.23" r="1.2" fill="#1a9ee0"/>
<circle cx="130.83" cy="208.74" r="1.2" fill="#1a9ee0"/>
<circle cx="131.58" cy="206.25" r="1.2" fill="#1a9ee0"/>
<circle cx="132.34" cy="203.76" r="1.2" fill="#1a9ee0"/>
<circle cx="133.09" cy="201.27" r="1.2" fill="#1a9ee0"/>
<circle cx="133.85" cy="198.79" r="1.2" fill="#1a9ee0"/>
<circle cx="134.61" cy="196.30" r="1.2" fill="#1a9ee0"/>
<circle cx="135.38" cy="193.82" r="1.2" fill="#1a9ee0"/>
<circle cx="136.16" cy="191.34" r="1.2" fill="#1a9ee0"/>
<circle cx="136.95" cy="188.86" r="1.2" fill="#1a9ee0"/>
<circle cx="137.74" cy="186.38" r="1.2" fill="#1a9ee0"/>
<circle cx="138.52" cy="183.90" r="1.2" fill="#1a9ee0"/>
<circle cx="139.31" cy="181.42" r="1.2" fill="#1a9ee0"/>
<circle cx="140.10" cy="178.95" r="1.2" fill="#1a9ee0"/>
<circle cx="140.88" cy="176.47" r="1.2" fill="#1a9ee0"/>
<circle cx="141.67" cy="173.99" r="1.2" fill="#1a9ee0"/>
<circle cx="142.46" cy="171.51" r="1.2" fill="#1a9ee0"/>
<circle cx="143.29" cy="169.05" r="1.2" fill="#1a9ee0"/>
<circle cx="144.12" cy="166.58" r="1.2" fill="#1a9ee0"/>
<circle cx="144.94" cy="164.12" r="1.2" fill="#1a9ee0"/>
<circle cx="145.77" cy="161.65" r="1.2" fill="#1a9ee0"/>
<circle cx="146.60" cy="159.19" r="1.2" fill="#1a9ee0"/>
<circle cx="147.42" cy="156.72" r="1.2" fill="#1a9ee0"/>
<circle cx="148.27" cy="154.27" r="1.2" fill="#1a9ee0"/>
<circle cx="149.18" cy="151.83" r="1.2" fill="#1a9ee0"/>
<circle cx="150.09" cy="149.40" r="1.2" fill="#1a9ee0"/>
<circle cx="151.49" cy="147.27" r="1.2" fill="#1a9ee0"/>
<circle cx="153.30" cy="145.40" r="1.2" fill="#1a9ee0"/>
<circle cx="155.77" cy="144.75" r="1.2" fill="#1a9ee0"/>
<line x1="52.80" y1="183.00" x2="63.50" y2="183.00" stroke="#1a9ee0" stroke-width="1.4"/>
<circle cx="58.1" cy="183.0" r="1.2" fill="#1a9ee0"/>
<text x="65.30" y="184.80" font-size="4.95" fill="#333">PtCu-Mo<tspan font-size="3.6" dy="1">2</tspan><tspan dy="-1">C@C(0.5:1)</tspan></text>
<line x1="52.80" y1="190.10" x2="63.50" y2="190.10" stroke="#ee1c25" stroke-width="1.4"/>
<circle cx="58.1" cy="190.1" r="1.2" fill="#ee1c25"/>
<text x="65.30" y="191.90" font-size="4.95" fill="#333">PtCu-Mo<tspan font-size="3.6" dy="1">2</tspan><tspan dy="-1">C@C(0.75:1)</tspan></text>
<line x1="52.80" y1="197.20" x2="63.50" y2="197.20" stroke="#ffd02a" stroke-width="1.4"/>
<circle cx="58.1" cy="197.2" r="1.2" fill="#ffd02a"/>
<text x="65.30" y="199.00" font-size="4.95" fill="#333">PtCu-Mo<tspan font-size="3.6" dy="1">2</tspan><tspan dy="-1">C@C(1:1)</tspan></text>
<line x1="52.80" y1="204.30" x2="63.50" y2="204.30" stroke="#22b24c" stroke-width="1.4"/>
<circle cx="58.1" cy="204.3" r="1.2" fill="#22b24c"/>
<text x="65.30" y="206.10" font-size="4.95" fill="#333">Cu-Mo<tspan font-size="3.6" dy="1">2</tspan><tspan dy="-1">C@C</tspan></text>
<line x1="52.80" y1="211.40" x2="63.50" y2="211.40" stroke="#111" stroke-width="1.4"/>
<circle cx="58.1" cy="211.4" r="1.2" fill="#111"/>
<text x="65.30" y="213.20" font-size="4.95" fill="#333">Pt/C</text>
<text x="184.20" y="146.60" font-size="20" font-weight="bold" fill="#000">e</text>
<line x1="212.2" y1="140.3" x2="350.8" y2="140.3" stroke="#444" stroke-width="1.1"/>
<line x1="212.2" y1="140.3" x2="212.2" y2="252.4" stroke="#444" stroke-width="1.1"/>
<line x1="212.2" y1="252.4" x2="350.8" y2="252.4" stroke="#444" stroke-width="1.1"/>
<line x1="350.8" y1="140.3" x2="350.8" y2="252.4" stroke="#9a5cc0" stroke-width="1.1"/>
<line x1="212.20" y1="252.40" x2="210.20" y2="252.40" stroke="#444" stroke-width="0.9"/>
<text x="209.00" y="255.06" font-size="7.4" text-anchor="end" fill="#000" stroke="#000" stroke-width="0.1">0</text>
<line x1="212.20" y1="238.39" x2="211.00" y2="238.39" stroke="#444" stroke-width="0.8"/>
<line x1="212.20" y1="224.38" x2="210.20" y2="224.38" stroke="#444" stroke-width="0.9"/>
<text x="209.00" y="227.04" font-size="7.4" text-anchor="end" fill="#000" stroke="#000" stroke-width="0.1">20</text>
<line x1="212.20" y1="210.37" x2="211.00" y2="210.37" stroke="#444" stroke-width="0.8"/>
<line x1="212.20" y1="196.36" x2="210.20" y2="196.36" stroke="#444" stroke-width="0.9"/>
<text x="209.00" y="199.02" font-size="7.4" text-anchor="end" fill="#000" stroke="#000" stroke-width="0.1">40</text>
<line x1="212.20" y1="182.35" x2="211.00" y2="182.35" stroke="#444" stroke-width="0.8"/>
<line x1="212.20" y1="168.34" x2="210.20" y2="168.34" stroke="#444" stroke-width="0.9"/>
<text x="209.00" y="171.00" font-size="7.4" text-anchor="end" fill="#000" stroke="#000" stroke-width="0.1">60</text>
<line x1="212.20" y1="154.33" x2="211.00" y2="154.33" stroke="#444" stroke-width="0.8"/>
<line x1="212.20" y1="140.32" x2="210.20" y2="140.32" stroke="#444" stroke-width="0.9"/>
<text x="209.00" y="142.98" font-size="7.4" text-anchor="end" fill="#000" stroke="#000" stroke-width="0.1">80</text>
<line x1="350.80" y1="252.40" x2="352.80" y2="252.40" stroke="#9a5cc0" stroke-width="0.9"/>
<text x="354.00" y="255.06" font-size="7.4" fill="#9a5cc0" stroke="#9a5cc0" stroke-width="0.1">0</text>
<line x1="350.80" y1="238.39" x2="352.00" y2="238.39" stroke="#9a5cc0" stroke-width="0.8"/>
<line x1="350.80" y1="224.38" x2="352.80" y2="224.38" stroke="#9a5cc0" stroke-width="0.9"/>
<text x="354.00" y="227.04" font-size="7.4" fill="#9a5cc0" stroke="#9a5cc0" stroke-width="0.1">20</text>
<line x1="350.80" y1="210.37" x2="352.00" y2="210.37" stroke="#9a5cc0" stroke-width="0.8"/>
<line x1="350.80" y1="196.36" x2="352.80" y2="196.36" stroke="#9a5cc0" stroke-width="0.9"/>
<text x="354.00" y="199.02" font-size="7.4" fill="#9a5cc0" stroke="#9a5cc0" stroke-width="0.1">40</text>
<line x1="350.80" y1="182.35" x2="352.00" y2="182.35" stroke="#9a5cc0" stroke-width="0.8"/>
<line x1="350.80" y1="168.34" x2="352.80" y2="168.34" stroke="#9a5cc0" stroke-width="0.9"/>
<text x="354.00" y="171.00" font-size="7.4" fill="#9a5cc0" stroke="#9a5cc0" stroke-width="0.1">60</text>
<line x1="350.80" y1="154.33" x2="352.00" y2="154.33" stroke="#9a5cc0" stroke-width="0.8"/>
<line x1="350.80" y1="140.32" x2="352.80" y2="140.32" stroke="#9a5cc0" stroke-width="0.9"/>
<text x="354.00" y="142.98" font-size="7.4" fill="#9a5cc0" stroke="#9a5cc0" stroke-width="0.1">80</text>
<rect x="224.60" y="186.60" width="11.20" height="65.80" fill="url(#gBlue)"/>
<text x="230.20" y="193.80" font-size="7.0" text-anchor="middle" fill="#fff">47</text>
<rect x="235.80" y="216.00" width="11.10" height="36.40" fill="url(#gRed)"/>
<text x="241.35" y="223.20" font-size="7.0" text-anchor="middle" fill="#fff">26</text>
<rect x="247.10" y="195.00" width="11.10" height="57.40" fill="url(#gYel)"/>
<text x="252.65" y="202.20" font-size="7.0" text-anchor="middle" fill="#fff">41</text>
<rect x="258.20" y="199.20" width="11.30" height="53.20" fill="url(#gGray)"/>
<text x="263.85" y="206.40" font-size="7.0" text-anchor="middle" fill="#fff">38</text>
<rect x="293.80" y="192.20" width="11.20" height="60.20" fill="url(#gBlue)"/>
<text x="299.40" y="199.40" font-size="7.0" text-anchor="middle" fill="#fff">43</text>
<rect x="305.00" y="211.80" width="11.10" height="40.60" fill="url(#gRed)"/>
<text x="310.55" y="219.00" font-size="7.0" text-anchor="middle" fill="#fff">29</text>
<rect x="316.10" y="210.40" width="11.60" height="42.00" fill="url(#gYel)"/>
<text x="321.90" y="217.60" font-size="7.0" text-anchor="middle" fill="#fff">30</text>
<rect x="327.70" y="206.20" width="11.30" height="46.20" fill="url(#gGray)"/>
<text x="333.35" y="213.40" font-size="7.0" text-anchor="middle" fill="#fff">33</text>
<rect x="226.20" y="150.90" width="9.50" height="4.80" fill="url(#gBlue)"/>
<text x="237.60" y="155.00" font-size="4.8" fill="#333">PtCu-Mo<tspan font-size="3.4" dy="1">2</tspan><tspan dy="-1">C@C(0.5:1)</tspan></text>
<rect x="226.20" y="157.90" width="9.50" height="4.80" fill="url(#gRed)"/>
<text x="237.60" y="162.00" font-size="4.8" fill="#333">PtCu-Mo<tspan font-size="3.4" dy="1">2</tspan><tspan dy="-1">C@C(0.75:1)</tspan></text>
<rect x="226.20" y="164.90" width="9.50" height="4.80" fill="url(#gYel)"/>
<text x="237.60" y="169.00" font-size="4.8" fill="#333">PtCu-Mo<tspan font-size="3.4" dy="1">2</tspan><tspan dy="-1">C@C(1:1)</tspan></text>
<rect x="226.20" y="171.80" width="9.50" height="4.80" fill="url(#gGray)"/>
<text x="237.60" y="175.90" font-size="5.0" fill="#333">Pt/C</text>
<path d="M306.70,173.50 L306.70,165.50 L324.00,165.50" stroke="#8a3cb0" stroke-width="0.9" fill="none" stroke-linejoin="round" stroke-linecap="round"/>
<path d="M327,165.5 L322.5,163.3 L322.5,167.7 Z" fill="#8a3cb0"/>
<text x="305.50" y="180.60" font-size="5.6" fill="#8a3cb0">Tafel value</text>
<text x="247.30" y="261.80" font-size="7.0" text-anchor="middle" fill="#222" stroke="#222" stroke-width="0.1"><tspan font-family="Liberation Serif" font-size="8">&#951;</tspan> @10 mA/cm<tspan font-size="4.5" dy="-3">2</tspan></text>
<text x="318.70" y="261.80" font-size="7.0" text-anchor="middle" fill="#8a3cb0" stroke="#8a3cb0" stroke-width="0.1">Tafel slope</text>
<text transform="translate(196.7,205.2) rotate(-90)" font-size="9.5" text-anchor="middle" fill="#222" stroke="#222" stroke-width="0.2">Overpotential (mV)</text>
<text transform="translate(373.2,191.1) rotate(-90)" font-size="8.7" text-anchor="middle" fill="#8a50b8" stroke="#8a50b8" stroke-width="0.2">Tafel slope (mV dec<tspan font-size="6" dy="-3.5">&#8722;1</tspan><tspan dy="3.5">)</tspan></text>
<text x="386.40" y="150.00" font-size="19.8" font-weight="bold" fill="#000">f</text>
<rect x="407.50" y="138.30" width="133.80" height="113.00" fill="none" stroke="#555" stroke-width="1.1"/>
<line x1="407.50" y1="144.60" x2="405.50" y2="144.60" stroke="#555" stroke-width="0.9"/>
<text x="404.50" y="147.34" font-size="7.6" text-anchor="end" fill="#000" stroke="#000" stroke-width="0.1">0</text>
<line x1="407.50" y1="157.94" x2="406.30" y2="157.94" stroke="#555" stroke-width="0.8"/>
<line x1="407.50" y1="171.28" x2="405.50" y2="171.28" stroke="#555" stroke-width="0.9"/>
<text x="404.50" y="174.02" font-size="7.6" text-anchor="end" fill="#000" stroke="#000" stroke-width="0.1">&#8722;20</text>
<line x1="407.50" y1="184.62" x2="406.30" y2="184.62" stroke="#555" stroke-width="0.8"/>
<line x1="407.50" y1="197.96" x2="405.50" y2="197.96" stroke="#555" stroke-width="0.9"/>
<text x="404.50" y="200.70" font-size="7.6" text-anchor="end" fill="#000" stroke="#000" stroke-width="0.1">&#8722;40</text>
<line x1="407.50" y1="211.30" x2="406.30" y2="211.30" stroke="#555" stroke-width="0.8"/>
<line x1="407.50" y1="224.64" x2="405.50" y2="224.64" stroke="#555" stroke-width="0.9"/>
<text x="404.50" y="227.38" font-size="7.6" text-anchor="end" fill="#000" stroke="#000" stroke-width="0.1">&#8722;60</text>
<line x1="407.50" y1="237.98" x2="406.30" y2="237.98" stroke="#555" stroke-width="0.8"/>
<line x1="407.50" y1="251.32" x2="405.50" y2="251.32" stroke="#555" stroke-width="0.9"/>
<text x="404.50" y="254.06" font-size="7.6" text-anchor="end" fill="#000" stroke="#000" stroke-width="0.1">&#8722;80</text>
<line x1="421.30" y1="251.30" x2="421.30" y2="253.30" stroke="#555" stroke-width="0.9"/>
<text x="421.30" y="261.50" font-size="7.6" text-anchor="middle" fill="#000" stroke="#000" stroke-width="0.1">&#8722;0.09</text>
<line x1="441.30" y1="251.30" x2="441.30" y2="252.50" stroke="#555" stroke-width="0.8"/>
<line x1="461.30" y1="251.30" x2="461.30" y2="253.30" stroke="#555" stroke-width="0.9"/>
<text x="461.30" y="261.50" font-size="7.6" text-anchor="middle" fill="#000" stroke="#000" stroke-width="0.1">&#8722;0.06</text>
<line x1="481.30" y1="251.30" x2="481.30" y2="252.50" stroke="#555" stroke-width="0.8"/>
<line x1="501.30" y1="251.30" x2="501.30" y2="253.30" stroke="#555" stroke-width="0.9"/>
<text x="501.30" y="261.50" font-size="7.6" text-anchor="middle" fill="#000" stroke="#000" stroke-width="0.1">&#8722;0.03</text>
<line x1="521.30" y1="251.30" x2="521.30" y2="252.50" stroke="#555" stroke-width="0.8"/>
<line x1="541.30" y1="251.30" x2="541.30" y2="253.30" stroke="#555" stroke-width="0.9"/>
<text x="541.30" y="261.50" font-size="7.6" text-anchor="middle" fill="#000" stroke="#000" stroke-width="0.1">0.00</text>
<line x1="408.00" y1="171.30" x2="541.00" y2="171.30" stroke="#aaa" stroke-width="0.8" stroke-dasharray="3,2.5"/>
<text x="471.00" y="269.60" font-size="8.9" text-anchor="middle" fill="#222" stroke="#222" stroke-width="0.2">E (V vs. RHE)</text>
<text transform="translate(388.4,200.5) rotate(-90)" font-size="9.4" text-anchor="middle" fill="#222" stroke="#222" stroke-width="0.2">j (mA cm<tspan font-size="6.2" dy="-3.6">&#8722;2</tspan><tspan dy="3.6">)</tspan></text>
<text x="420.00" y="156.60" font-size="5.6" fill="#222">PtCu-Mo<tspan font-size="3.8" dy="1">2</tspan><tspan dy="-1">C@C(0.75:1)</tspan></text>
<path d="M481.40,251.00 C482.75,245.83 486.90,230.17 489.50,220.00 C492.10,209.83 495.03,198.17 497.00,190.00 C498.97,181.83 500.05,176.33 501.30,171.00 C502.55,165.67 503.30,161.43 504.50,158.00 C505.70,154.57 506.98,152.23 508.50,150.40 C510.02,148.57 511.68,147.68 513.60,147.00 C515.52,146.32 515.43,146.45 520.00,146.30 C524.57,146.15 537.50,146.13 541.00,146.10" stroke="#4a0a0a" stroke-width="1.1" fill="none" stroke-linejoin="round" stroke-linecap="round"/>
<circle cx="481.40" cy="251.00" r="1.5" fill="#4a0a0a"/>
<circle cx="482.16" cy="248.10" r="1.5" fill="#4a0a0a"/>
<circle cx="482.92" cy="245.19" r="1.5" fill="#4a0a0a"/>
<circle cx="483.68" cy="242.29" r="1.5" fill="#4a0a0a"/>
<circle cx="484.43" cy="239.39" r="1.5" fill="#4a0a0a"/>
<circle cx="485.19" cy="236.49" r="1.5" fill="#4a0a0a"/>
<circle cx="485.95" cy="233.58" r="1.5" fill="#4a0a0a"/>
<circle cx="486.71" cy="230.68" r="1.5" fill="#4a0a0a"/>
<circle cx="487.47" cy="227.78" r="1.5" fill="#4a0a0a"/>
<circle cx="488.23" cy="224.88" r="1.5" fill="#4a0a0a"/>
<circle cx="488.98" cy="221.97" r="1.5" fill="#4a0a0a"/>
<circle cx="489.73" cy="219.07" r="1.5" fill="#4a0a0a"/>
<circle cx="490.46" cy="216.16" r="1.5" fill="#4a0a0a"/>
<circle cx="491.19" cy="213.25" r="1.5" fill="#4a0a0a"/>
<circle cx="491.92" cy="210.34" r="1.5" fill="#4a0a0a"/>
<circle cx="492.64" cy="207.43" r="1.5" fill="#4a0a0a"/>
<circle cx="493.37" cy="204.52" r="1.5" fill="#4a0a0a"/>
<circle cx="494.10" cy="201.61" r="1.5" fill="#4a0a0a"/>
<circle cx="494.83" cy="198.70" r="1.5" fill="#4a0a0a"/>
<circle cx="495.55" cy="195.79" r="1.5" fill="#4a0a0a"/>
<circle cx="496.28" cy="192.88" r="1.5" fill="#4a0a0a"/>
<circle cx="497.01" cy="189.96" r="1.5" fill="#4a0a0a"/>
<circle cx="497.67" cy="187.04" r="1.5" fill="#4a0a0a"/>
<circle cx="498.33" cy="184.11" r="1.5" fill="#4a0a0a"/>
<circle cx="498.99" cy="181.19" r="1.5" fill="#4a0a0a"/>
<circle cx="499.66" cy="178.26" r="1.5" fill="#4a0a0a"/>
<circle cx="500.32" cy="175.33" r="1.5" fill="#4a0a0a"/>
<circle cx="500.98" cy="172.41" r="1.5" fill="#4a0a0a"/>
<circle cx="501.67" cy="169.49" r="1.5" fill="#4a0a0a"/>
<circle cx="502.39" cy="166.58" r="1.5" fill="#4a0a0a"/>
<circle cx="503.11" cy="163.66" r="1.5" fill="#4a0a0a"/>
<circle cx="503.82" cy="160.75" r="1.5" fill="#4a0a0a"/>
<circle cx="504.58" cy="157.85" r="1.5" fill="#4a0a0a"/>
<circle cx="505.98" cy="155.20" r="1.5" fill="#4a0a0a"/>
<circle cx="507.37" cy="152.54" r="1.5" fill="#4a0a0a"/>
<circle cx="508.98" cy="150.08" r="1.5" fill="#4a0a0a"/>
<circle cx="511.48" cy="148.41" r="1.5" fill="#4a0a0a"/>
<circle cx="514.05" cy="146.95" r="1.5" fill="#4a0a0a"/>
<circle cx="517.03" cy="146.62" r="1.5" fill="#4a0a0a"/>
<circle cx="520.01" cy="146.30" r="1.5" fill="#4a0a0a"/>
<circle cx="523.01" cy="146.27" r="1.5" fill="#4a0a0a"/>
<circle cx="526.01" cy="146.24" r="1.5" fill="#4a0a0a"/>
<circle cx="529.01" cy="146.21" r="1.5" fill="#4a0a0a"/>
<circle cx="532.01" cy="146.19" r="1.5" fill="#4a0a0a"/>
<circle cx="535.01" cy="146.16" r="1.5" fill="#4a0a0a"/>
<circle cx="538.01" cy="146.13" r="1.5" fill="#4a0a0a"/>
<path d="M478.22,251.00 C479.70,245.83 484.22,230.17 487.10,220.00 C489.98,209.83 493.27,198.17 495.50,190.00 C497.73,181.83 499.08,176.33 500.50,171.00 C501.92,165.67 502.73,161.43 504.00,158.00 C505.27,154.57 506.54,152.23 508.10,150.40 C509.66,148.57 511.40,147.68 513.38,147.00 C515.36,146.32 515.40,146.45 520.00,146.30 C524.60,146.15 537.50,146.13 541.00,146.10" stroke="#8a0f12" stroke-width="1.1" fill="none" stroke-linejoin="round" stroke-linecap="round"/>
<circle cx="478.22" cy="251.00" r="1.5" fill="#8a0f12"/>
<circle cx="479.05" cy="248.12" r="1.5" fill="#8a0f12"/>
<circle cx="479.87" cy="245.23" r="1.5" fill="#8a0f12"/>
<circle cx="480.70" cy="242.35" r="1.5" fill="#8a0f12"/>
<circle cx="481.52" cy="239.46" r="1.5" fill="#8a0f12"/>
<circle cx="482.35" cy="236.58" r="1.5" fill="#8a0f12"/>
<circle cx="483.18" cy="233.70" r="1.5" fill="#8a0f12"/>
<circle cx="484.00" cy="230.81" r="1.5" fill="#8a0f12"/>
<circle cx="484.83" cy="227.93" r="1.5" fill="#8a0f12"/>
<circle cx="485.66" cy="225.04" r="1.5" fill="#8a0f12"/>
<circle cx="486.48" cy="222.16" r="1.5" fill="#8a0f12"/>
<circle cx="487.30" cy="219.27" r="1.5" fill="#8a0f12"/>
<circle cx="488.11" cy="216.39" r="1.5" fill="#8a0f12"/>
<circle cx="488.92" cy="213.50" r="1.5" fill="#8a0f12"/>
<circle cx="489.73" cy="210.61" r="1.5" fill="#8a0f12"/>
<circle cx="490.54" cy="207.72" r="1.5" fill="#8a0f12"/>
<circle cx="491.35" cy="204.83" r="1.5" fill="#8a0f12"/>
<circle cx="492.16" cy="201.94" r="1.5" fill="#8a0f12"/>
<circle cx="492.97" cy="199.05" r="1.5" fill="#8a0f12"/>
<circle cx="493.77" cy="196.16" r="1.5" fill="#8a0f12"/>
<circle cx="494.58" cy="193.27" r="1.5" fill="#8a0f12"/>
<circle cx="495.39" cy="190.39" r="1.5" fill="#8a0f12"/>
<circle cx="496.16" cy="187.49" r="1.5" fill="#8a0f12"/>
<circle cx="496.93" cy="184.58" r="1.5" fill="#8a0f12"/>
<circle cx="497.69" cy="181.68" r="1.5" fill="#8a0f12"/>
<circle cx="498.45" cy="178.78" r="1.5" fill="#8a0f12"/>
<circle cx="499.22" cy="175.88" r="1.5" fill="#8a0f12"/>
<circle cx="499.98" cy="172.98" r="1.5" fill="#8a0f12"/>
<circle cx="500.75" cy="170.08" r="1.5" fill="#8a0f12"/>
<circle cx="501.53" cy="167.18" r="1.5" fill="#8a0f12"/>
<circle cx="502.31" cy="164.29" r="1.5" fill="#8a0f12"/>
<circle cx="503.09" cy="161.39" r="1.5" fill="#8a0f12"/>
<circle cx="503.87" cy="158.49" r="1.5" fill="#8a0f12"/>
<circle cx="505.18" cy="155.81" r="1.5" fill="#8a0f12"/>
<circle cx="506.61" cy="153.17" r="1.5" fill="#8a0f12"/>
<circle cx="508.03" cy="150.53" r="1.5" fill="#8a0f12"/>
<circle cx="510.50" cy="148.85" r="1.5" fill="#8a0f12"/>
<circle cx="513.02" cy="147.23" r="1.5" fill="#8a0f12"/>
<circle cx="515.94" cy="146.73" r="1.5" fill="#8a0f12"/>
<circle cx="518.92" cy="146.41" r="1.5" fill="#8a0f12"/>
<circle cx="521.92" cy="146.28" r="1.5" fill="#8a0f12"/>
<circle cx="524.92" cy="146.25" r="1.5" fill="#8a0f12"/>
<circle cx="527.92" cy="146.22" r="1.5" fill="#8a0f12"/>
<circle cx="530.92" cy="146.20" r="1.5" fill="#8a0f12"/>
<circle cx="533.92" cy="146.17" r="1.5" fill="#8a0f12"/>
<circle cx="536.92" cy="146.14" r="1.5" fill="#8a0f12"/>
<circle cx="539.92" cy="146.11" r="1.5" fill="#8a0f12"/>
<path d="M475.04,251.00 C476.65,245.83 481.54,230.17 484.70,220.00 C487.86,209.83 491.50,198.17 494.00,190.00 C496.50,181.83 498.12,176.33 499.70,171.00 C501.28,165.67 502.17,161.43 503.50,158.00 C504.83,154.57 506.09,152.23 507.70,150.40 C509.31,148.57 511.11,147.68 513.16,147.00 C515.21,146.32 515.36,146.45 520.00,146.30 C524.64,146.15 537.50,146.13 541.00,146.10" stroke="#cc1418" stroke-width="1.1" fill="none" stroke-linejoin="round" stroke-linecap="round"/>
<path d="M475.04,249.20 L476.69,252.20 L473.39,252.20Z" fill="#cc1418"/>
<path d="M475.93,246.34 L477.58,249.34 L474.28,249.34Z" fill="#cc1418"/>
<path d="M476.83,243.47 L478.48,246.47 L475.18,246.47Z" fill="#cc1418"/>
<path d="M477.72,240.61 L479.37,243.61 L476.07,243.61Z" fill="#cc1418"/>
<path d="M478.61,237.74 L480.26,240.74 L476.96,240.74Z" fill="#cc1418"/>
<path d="M479.50,234.88 L481.15,237.88 L477.85,237.88Z" fill="#cc1418"/>
<path d="M480.40,232.02 L482.05,235.02 L478.75,235.02Z" fill="#cc1418"/>
<path d="M481.29,229.15 L482.94,232.15 L479.64,232.15Z" fill="#cc1418"/>
<path d="M482.18,226.29 L483.83,229.29 L480.53,229.29Z" fill="#cc1418"/>
<path d="M483.07,223.42 L484.72,226.42 L481.42,226.42Z" fill="#cc1418"/>
<path d="M483.97,220.56 L485.62,223.56 L482.32,223.56Z" fill="#cc1418"/>
<path d="M484.86,217.69 L486.51,220.69 L483.21,220.69Z" fill="#cc1418"/>
<path d="M485.75,214.83 L487.40,217.83 L484.10,217.83Z" fill="#cc1418"/>
<path d="M486.63,211.96 L488.28,214.96 L484.98,214.96Z" fill="#cc1418"/>
<path d="M487.52,209.10 L489.17,212.10 L485.87,212.10Z" fill="#cc1418"/>
<path d="M488.41,206.23 L490.06,209.23 L486.76,209.23Z" fill="#cc1418"/>
<path d="M489.30,203.37 L490.95,206.37 L487.65,206.37Z" fill="#cc1418"/>
<path d="M490.19,200.50 L491.84,203.50 L488.54,203.50Z" fill="#cc1418"/>
<path d="M491.07,197.64 L492.72,200.64 L489.42,200.64Z" fill="#cc1418"/>
<path d="M491.96,194.77 L493.61,197.77 L490.31,197.77Z" fill="#cc1418"/>
<path d="M492.85,191.90 L494.50,194.90 L491.20,194.90Z" fill="#cc1418"/>
<path d="M493.74,189.04 L495.39,192.04 L492.09,192.04Z" fill="#cc1418"/>
<path d="M494.61,186.17 L496.26,189.17 L492.96,189.17Z" fill="#cc1418"/>
<path d="M495.47,183.29 L497.12,186.29 L493.82,186.29Z" fill="#cc1418"/>
<path d="M496.33,180.42 L497.98,183.42 L494.68,183.42Z" fill="#cc1418"/>
<path d="M497.20,177.55 L498.85,180.55 L495.55,180.55Z" fill="#cc1418"/>
<path d="M498.06,174.67 L499.71,177.67 L496.41,177.67Z" fill="#cc1418"/>
<path d="M498.92,171.80 L500.57,174.80 L497.27,174.80Z" fill="#cc1418"/>
<path d="M499.78,168.93 L501.43,171.93 L498.13,171.93Z" fill="#cc1418"/>
<path d="M500.62,166.05 L502.27,169.05 L498.97,169.05Z" fill="#cc1418"/>
<path d="M501.46,163.17 L503.11,166.17 L499.81,166.17Z" fill="#cc1418"/>
<path d="M502.30,160.29 L503.95,163.29 L500.65,163.29Z" fill="#cc1418"/>
<path d="M503.15,157.41 L504.80,160.41 L501.50,160.41Z" fill="#cc1418"/>
<path d="M504.34,154.68 L505.99,157.68 L502.69,157.68Z" fill="#cc1418"/>
<path d="M505.79,152.05 L507.44,155.05 L504.14,155.05Z" fill="#cc1418"/>
<path d="M507.24,149.42 L508.89,152.42 L505.59,152.42Z" fill="#cc1418"/>
<path d="M509.45,147.51 L511.10,150.51 L507.80,150.51Z" fill="#cc1418"/>
<path d="M511.99,145.93 L513.64,148.93 L510.34,148.93Z" fill="#cc1418"/>
<path d="M514.78,145.03 L516.43,148.03 L513.13,148.03Z" fill="#cc1418"/>
<path d="M517.76,144.73 L519.41,147.73 L516.11,147.73Z" fill="#cc1418"/>
<path d="M520.75,144.49 L522.40,147.49 L519.10,147.49Z" fill="#cc1418"/>
<path d="M523.75,144.46 L525.40,147.46 L522.10,147.46Z" fill="#cc1418"/>
<path d="M526.75,144.44 L528.40,147.44 L525.10,147.44Z" fill="#cc1418"/>
<path d="M529.75,144.41 L531.40,147.41 L528.10,147.41Z" fill="#cc1418"/>
<path d="M532.75,144.38 L534.40,147.38 L531.10,147.38Z" fill="#cc1418"/>
<path d="M535.75,144.35 L537.40,147.35 L534.10,147.35Z" fill="#cc1418"/>
<path d="M538.75,144.32 L540.40,147.32 L537.10,147.32Z" fill="#cc1418"/>
<path d="M471.86,251.00 C473.60,245.83 478.86,230.17 482.30,220.00 C485.74,209.83 489.73,198.17 492.50,190.00 C495.27,181.83 497.15,176.33 498.90,171.00 C500.65,165.67 501.60,161.43 503.00,158.00 C504.40,154.57 505.64,152.23 507.30,150.40 C508.96,148.57 510.82,147.68 512.94,147.00 C515.06,146.32 515.32,146.45 520.00,146.30 C524.68,146.15 537.50,146.13 541.00,146.10" stroke="#f01820" stroke-width="1.1" fill="none" stroke-linejoin="round" stroke-linecap="round"/>
<path d="M471.86,252.80 L473.51,249.80 L470.21,249.80Z" fill="#f01820"/>
<path d="M472.82,249.96 L474.47,246.96 L471.17,246.96Z" fill="#f01820"/>
<path d="M473.77,247.11 L475.42,244.11 L472.12,244.11Z" fill="#f01820"/>
<path d="M474.73,244.27 L476.38,241.27 L473.08,241.27Z" fill="#f01820"/>
<path d="M475.69,241.43 L477.34,238.43 L474.04,238.43Z" fill="#f01820"/>
<path d="M476.65,238.58 L478.30,235.58 L475.00,235.58Z" fill="#f01820"/>
<path d="M477.60,235.74 L479.25,232.74 L475.95,232.74Z" fill="#f01820"/>
<path d="M478.56,232.90 L480.21,229.90 L476.91,229.90Z" fill="#f01820"/>
<path d="M479.52,230.06 L481.17,227.06 L477.87,227.06Z" fill="#f01820"/>
<path d="M480.48,227.21 L482.13,224.21 L478.83,224.21Z" fill="#f01820"/>
<path d="M481.43,224.37 L483.08,221.37 L479.78,221.37Z" fill="#f01820"/>
<path d="M482.39,221.53 L484.04,218.53 L480.74,218.53Z" fill="#f01820"/>
<path d="M483.36,218.69 L485.01,215.69 L481.71,215.69Z" fill="#f01820"/>
<path d="M484.32,215.85 L485.97,212.85 L482.67,212.85Z" fill="#f01820"/>
<path d="M485.29,213.01 L486.94,210.01 L483.64,210.01Z" fill="#f01820"/>
<path d="M486.26,210.16 L487.91,207.16 L484.61,207.16Z" fill="#f01820"/>
<path d="M487.22,207.32 L488.87,204.32 L485.57,204.32Z" fill="#f01820"/>
<path d="M488.19,204.48 L489.84,201.48 L486.54,201.48Z" fill="#f01820"/>
<path d="M489.15,201.64 L490.80,198.64 L487.50,198.64Z" fill="#f01820"/>
<path d="M490.12,198.80 L491.77,195.80 L488.47,195.80Z" fill="#f01820"/>
<path d="M491.08,195.96 L492.73,192.96 L489.43,192.96Z" fill="#f01820"/>
<path d="M492.05,193.12 L493.70,190.12 L490.40,190.12Z" fill="#f01820"/>
<path d="M493.01,190.28 L494.66,187.28 L491.36,187.28Z" fill="#f01820"/>
<path d="M493.97,187.44 L495.62,184.44 L492.32,184.44Z" fill="#f01820"/>
<path d="M494.93,184.60 L496.58,181.60 L493.28,181.60Z" fill="#f01820"/>
<path d="M495.88,181.75 L497.53,178.75 L494.23,178.75Z" fill="#f01820"/>
<path d="M496.84,178.91 L498.49,175.91 L495.19,175.91Z" fill="#f01820"/>
<path d="M497.80,176.07 L499.45,173.07 L496.15,173.07Z" fill="#f01820"/>
<path d="M498.76,173.22 L500.41,170.22 L497.11,170.22Z" fill="#f01820"/>
<path d="M499.67,170.36 L501.32,167.36 L498.02,167.36Z" fill="#f01820"/>
<path d="M500.57,167.50 L502.22,164.50 L498.92,164.50Z" fill="#f01820"/>
<path d="M501.47,164.64 L503.12,161.64 L499.82,161.64Z" fill="#f01820"/>
<path d="M502.38,161.78 L504.03,158.78 L500.73,158.78Z" fill="#f01820"/>
<path d="M503.45,159.00 L505.10,156.00 L501.80,156.00Z" fill="#f01820"/>
<path d="M504.93,156.39 L506.58,153.39 L503.28,153.39Z" fill="#f01820"/>
<path d="M506.41,153.78 L508.06,150.78 L504.76,150.78Z" fill="#f01820"/>
<path d="M508.32,151.59 L509.97,148.59 L506.67,148.59Z" fill="#f01820"/>
<path d="M510.89,150.04 L512.54,147.04 L509.24,147.04Z" fill="#f01820"/>
<path d="M513.54,148.74 L515.19,145.74 L511.89,145.74Z" fill="#f01820"/>
<path d="M516.53,148.44 L518.18,145.44 L514.88,145.44Z" fill="#f01820"/>
<path d="M519.51,148.15 L521.16,145.15 L517.86,145.15Z" fill="#f01820"/>
<path d="M522.51,148.08 L524.16,145.08 L520.86,145.08Z" fill="#f01820"/>
<path d="M525.51,148.05 L527.16,145.05 L523.86,145.05Z" fill="#f01820"/>
<path d="M528.51,148.02 L530.16,145.02 L526.86,145.02Z" fill="#f01820"/>
<path d="M531.51,147.99 L533.16,144.99 L529.86,144.99Z" fill="#f01820"/>
<path d="M534.51,147.96 L536.16,144.96 L532.86,144.96Z" fill="#f01820"/>
<path d="M537.51,147.93 L539.16,144.93 L535.86,144.93Z" fill="#f01820"/>
<path d="M540.51,147.90 L542.16,144.90 L538.86,144.90Z" fill="#f01820"/>
<path d="M468.68,251.00 C470.55,245.83 476.18,230.17 479.90,220.00 C483.62,209.83 487.97,198.17 491.00,190.00 C494.03,181.83 496.18,176.33 498.10,171.00 C500.02,165.67 501.03,161.43 502.50,158.00 C503.97,154.57 505.20,152.23 506.90,150.40 C508.60,148.57 510.54,147.68 512.72,147.00 C514.90,146.32 515.29,146.45 520.00,146.30 C524.71,146.15 537.50,146.13 541.00,146.10" stroke="#ff3c4c" stroke-width="1.1" fill="none" stroke-linejoin="round" stroke-linecap="round"/>
<path d="M468.68,249.05 L469.28,250.40 L470.63,251.00 L469.28,251.60 L468.68,252.95 L468.08,251.60 L466.73,251.00 L468.08,250.40Z" fill="#ff3c4c"/>
<path d="M469.70,246.23 L470.30,247.58 L471.65,248.18 L470.30,248.78 L469.70,250.13 L469.10,248.78 L467.75,248.18 L469.10,247.58Z" fill="#ff3c4c"/>
<path d="M470.72,243.41 L471.32,244.76 L472.67,245.36 L471.32,245.96 L470.72,247.31 L470.12,245.96 L468.77,245.36 L470.12,244.76Z" fill="#ff3c4c"/>
<path d="M471.74,240.59 L472.34,241.94 L473.69,242.54 L472.34,243.14 L471.74,244.49 L471.14,243.14 L469.79,242.54 L471.14,241.94Z" fill="#ff3c4c"/>
<path d="M472.76,237.77 L473.36,239.12 L474.71,239.72 L473.36,240.32 L472.76,241.67 L472.16,240.32 L470.81,239.72 L472.16,239.12Z" fill="#ff3c4c"/>
<path d="M473.78,234.95 L474.38,236.30 L475.73,236.90 L474.38,237.50 L473.78,238.85 L473.18,237.50 L471.83,236.90 L473.18,236.30Z" fill="#ff3c4c"/>
<path d="M474.81,232.12 L475.41,233.47 L476.76,234.07 L475.41,234.67 L474.81,236.02 L474.21,234.67 L472.86,234.07 L474.21,233.47Z" fill="#ff3c4c"/>
<path d="M475.83,229.30 L476.43,230.65 L477.78,231.25 L476.43,231.85 L475.83,233.20 L475.23,231.85 L473.88,231.25 L475.23,230.65Z" fill="#ff3c4c"/>
<path d="M476.85,226.48 L477.45,227.83 L478.80,228.43 L477.45,229.03 L476.85,230.38 L476.25,229.03 L474.90,228.43 L476.25,227.83Z" fill="#ff3c4c"/>
<path d="M477.87,223.66 L478.47,225.01 L479.82,225.61 L478.47,226.21 L477.87,227.56 L477.27,226.21 L475.92,225.61 L477.27,225.01Z" fill="#ff3c4c"/>
<path d="M478.89,220.84 L479.49,222.19 L480.84,222.79 L479.49,223.39 L478.89,224.74 L478.29,223.39 L476.94,222.79 L478.29,222.19Z" fill="#ff3c4c"/>
<path d="M479.91,218.02 L480.51,219.37 L481.86,219.97 L480.51,220.57 L479.91,221.92 L479.31,220.57 L477.96,219.97 L479.31,219.37Z" fill="#ff3c4c"/>
<path d="M480.95,215.21 L481.55,216.56 L482.90,217.16 L481.55,217.76 L480.95,219.11 L480.35,217.76 L479.00,217.16 L480.35,216.56Z" fill="#ff3c4c"/>
<path d="M481.99,212.39 L482.59,213.74 L483.94,214.34 L482.59,214.94 L481.99,216.29 L481.39,214.94 L480.04,214.34 L481.39,213.74Z" fill="#ff3c4c"/>
<path d="M483.03,209.58 L483.63,210.93 L484.98,211.53 L483.63,212.13 L483.03,213.48 L482.43,212.13 L481.08,211.53 L482.43,210.93Z" fill="#ff3c4c"/>
<path d="M484.08,206.77 L484.68,208.12 L486.03,208.72 L484.68,209.32 L484.08,210.67 L483.48,209.32 L482.13,208.72 L483.48,208.12Z" fill="#ff3c4c"/>
<path d="M485.12,203.95 L485.72,205.30 L487.07,205.90 L485.72,206.50 L485.12,207.85 L484.52,206.50 L483.17,205.90 L484.52,205.30Z" fill="#ff3c4c"/>
<path d="M486.16,201.14 L486.76,202.49 L488.11,203.09 L486.76,203.69 L486.16,205.04 L485.56,203.69 L484.21,203.09 L485.56,202.49Z" fill="#ff3c4c"/>
<path d="M487.20,198.32 L487.80,199.67 L489.15,200.27 L487.80,200.87 L487.20,202.22 L486.60,200.87 L485.25,200.27 L486.60,199.67Z" fill="#ff3c4c"/>
<path d="M488.24,195.51 L488.84,196.86 L490.19,197.46 L488.84,198.06 L488.24,199.41 L487.64,198.06 L486.29,197.46 L487.64,196.86Z" fill="#ff3c4c"/>
<path d="M489.28,192.70 L489.88,194.05 L491.23,194.65 L489.88,195.25 L489.28,196.60 L488.68,195.25 L487.33,194.65 L488.68,194.05Z" fill="#ff3c4c"/>
<path d="M490.32,189.88 L490.92,191.23 L492.27,191.83 L490.92,192.43 L490.32,193.78 L489.72,192.43 L488.37,191.83 L489.72,191.23Z" fill="#ff3c4c"/>
<path d="M491.37,187.07 L491.97,188.42 L493.32,189.02 L491.97,189.62 L491.37,190.97 L490.77,189.62 L489.42,189.02 L490.77,188.42Z" fill="#ff3c4c"/>
<path d="M492.42,184.26 L493.02,185.61 L494.37,186.21 L493.02,186.81 L492.42,188.16 L491.82,186.81 L490.47,186.21 L491.82,185.61Z" fill="#ff3c4c"/>
<path d="M493.47,181.45 L494.07,182.80 L495.42,183.40 L494.07,184.00 L493.47,185.35 L492.87,184.00 L491.52,183.40 L492.87,182.80Z" fill="#ff3c4c"/>
<path d="M494.52,178.64 L495.12,179.99 L496.47,180.59 L495.12,181.19 L494.52,182.54 L493.92,181.19 L492.57,180.59 L493.92,179.99Z" fill="#ff3c4c"/>
<path d="M495.57,175.83 L496.17,177.18 L497.52,177.78 L496.17,178.38 L495.57,179.73 L494.97,178.38 L493.62,177.78 L494.97,177.18Z" fill="#ff3c4c"/>
<path d="M496.62,173.02 L497.22,174.37 L498.57,174.97 L497.22,175.57 L496.62,176.92 L496.02,175.57 L494.67,174.97 L496.02,174.37Z" fill="#ff3c4c"/>
<path d="M497.67,170.21 L498.27,171.56 L499.62,172.16 L498.27,172.76 L497.67,174.11 L497.07,172.76 L495.72,172.16 L497.07,171.56Z" fill="#ff3c4c"/>
<path d="M498.66,167.38 L499.26,168.73 L500.61,169.33 L499.26,169.93 L498.66,171.28 L498.06,169.93 L496.71,169.33 L498.06,168.73Z" fill="#ff3c4c"/>
<path d="M499.63,164.54 L500.23,165.89 L501.58,166.49 L500.23,167.09 L499.63,168.44 L499.03,167.09 L497.68,166.49 L499.03,165.89Z" fill="#ff3c4c"/>
<path d="M500.59,161.70 L501.19,163.05 L502.54,163.65 L501.19,164.25 L500.59,165.60 L499.99,164.25 L498.64,163.65 L499.99,163.05Z" fill="#ff3c4c"/>
<path d="M501.55,158.86 L502.15,160.21 L503.50,160.81 L502.15,161.41 L501.55,162.76 L500.95,161.41 L499.60,160.81 L500.95,160.21Z" fill="#ff3c4c"/>
<path d="M502.52,156.02 L503.12,157.37 L504.47,157.97 L503.12,158.57 L502.52,159.92 L501.92,158.57 L500.57,157.97 L501.92,157.37Z" fill="#ff3c4c"/>
<path d="M504.02,153.42 L504.62,154.77 L505.97,155.37 L504.62,155.97 L504.02,157.32 L503.42,155.97 L502.07,155.37 L503.42,154.77Z" fill="#ff3c4c"/>
<path d="M505.52,150.83 L506.12,152.18 L507.47,152.78 L506.12,153.38 L505.52,154.73 L504.92,153.38 L503.57,152.78 L504.92,152.18Z" fill="#ff3c4c"/>
<path d="M507.12,148.32 L507.72,149.67 L509.07,150.27 L507.72,150.87 L507.12,152.22 L506.52,150.87 L505.17,150.27 L506.52,149.67Z" fill="#ff3c4c"/>
<path d="M509.71,146.81 L510.31,148.16 L511.66,148.76 L510.31,149.36 L509.71,150.71 L509.11,149.36 L507.76,148.76 L509.11,148.16Z" fill="#ff3c4c"/>
<path d="M512.30,145.29 L512.90,146.64 L514.25,147.24 L512.90,147.84 L512.30,149.19 L511.70,147.84 L510.35,147.24 L511.70,146.64Z" fill="#ff3c4c"/>
<path d="M515.22,144.81 L515.82,146.16 L517.17,146.76 L515.82,147.36 L515.22,148.71 L514.62,147.36 L513.27,146.76 L514.62,146.16Z" fill="#ff3c4c"/>
<path d="M518.21,144.52 L518.81,145.87 L520.16,146.47 L518.81,147.07 L518.21,148.42 L517.61,147.07 L516.26,146.47 L517.61,145.87Z" fill="#ff3c4c"/>
<path d="M521.20,144.34 L521.80,145.69 L523.15,146.29 L521.80,146.89 L521.20,148.24 L520.60,146.89 L519.25,146.29 L520.60,145.69Z" fill="#ff3c4c"/>
<path d="M524.20,144.31 L524.80,145.66 L526.15,146.26 L524.80,146.86 L524.20,148.21 L523.60,146.86 L522.25,146.26 L523.60,145.66Z" fill="#ff3c4c"/>
<path d="M527.20,144.28 L527.80,145.63 L529.15,146.23 L527.80,146.83 L527.20,148.18 L526.60,146.83 L525.25,146.23 L526.60,145.63Z" fill="#ff3c4c"/>
<path d="M530.20,144.25 L530.80,145.60 L532.15,146.20 L530.80,146.80 L530.20,148.15 L529.60,146.80 L528.25,146.20 L529.60,145.60Z" fill="#ff3c4c"/>
<path d="M533.20,144.22 L533.80,145.57 L535.15,146.17 L533.80,146.77 L533.20,148.12 L532.60,146.77 L531.25,146.17 L532.60,145.57Z" fill="#ff3c4c"/>
<path d="M536.20,144.20 L536.80,145.55 L538.15,146.15 L536.80,146.75 L536.20,148.10 L535.60,146.75 L534.25,146.15 L535.60,145.55Z" fill="#ff3c4c"/>
<path d="M539.20,144.17 L539.80,145.52 L541.15,146.12 L539.80,146.72 L539.20,148.07 L538.60,146.72 L537.25,146.12 L538.60,145.52Z" fill="#ff3c4c"/>
<path d="M465.50,251.00 C467.50,245.83 473.50,230.17 477.50,220.00 C481.50,209.83 486.20,198.17 489.50,190.00 C492.80,181.83 495.22,176.33 497.30,171.00 C499.38,165.67 500.47,161.43 502.00,158.00 C503.53,154.57 504.75,152.23 506.50,150.40 C508.25,148.57 510.25,147.68 512.50,147.00 C514.75,146.32 515.25,146.45 520.00,146.30 C524.75,146.15 537.50,146.13 541.00,146.10" stroke="#ff7888" stroke-width="1.1" fill="none" stroke-linejoin="round" stroke-linecap="round"/>
<path d="M465.50,249.20 L467.15,252.20 L463.85,252.20Z" fill="#ff7888"/>
<path d="M466.58,246.40 L468.23,249.40 L464.93,249.40Z" fill="#ff7888"/>
<path d="M467.67,243.60 L469.32,246.60 L466.02,246.60Z" fill="#ff7888"/>
<path d="M468.75,240.81 L470.40,243.81 L467.10,243.81Z" fill="#ff7888"/>
<path d="M469.83,238.01 L471.48,241.01 L468.18,241.01Z" fill="#ff7888"/>
<path d="M470.91,235.21 L472.56,238.21 L469.26,238.21Z" fill="#ff7888"/>
<path d="M472.00,232.41 L473.65,235.41 L470.35,235.41Z" fill="#ff7888"/>
<path d="M473.08,229.62 L474.73,232.62 L471.43,232.62Z" fill="#ff7888"/>
<path d="M474.16,226.82 L475.81,229.82 L472.51,229.82Z" fill="#ff7888"/>
<path d="M475.25,224.02 L476.90,227.02 L473.60,227.02Z" fill="#ff7888"/>
<path d="M476.33,221.22 L477.98,224.22 L474.68,224.22Z" fill="#ff7888"/>
<path d="M477.41,218.43 L479.06,221.43 L475.76,221.43Z" fill="#ff7888"/>
<path d="M478.52,215.64 L480.17,218.64 L476.87,218.64Z" fill="#ff7888"/>
<path d="M479.64,212.85 L481.29,215.85 L477.99,215.85Z" fill="#ff7888"/>
<path d="M480.75,210.07 L482.40,213.07 L479.10,213.07Z" fill="#ff7888"/>
<path d="M481.87,207.28 L483.52,210.28 L480.22,210.28Z" fill="#ff7888"/>
<path d="M482.98,204.50 L484.63,207.50 L481.33,207.50Z" fill="#ff7888"/>
<path d="M484.10,201.71 L485.75,204.71 L482.45,204.71Z" fill="#ff7888"/>
<path d="M485.21,198.93 L486.86,201.93 L483.56,201.93Z" fill="#ff7888"/>
<path d="M486.32,196.14 L487.97,199.14 L484.67,199.14Z" fill="#ff7888"/>
<path d="M487.44,193.36 L489.09,196.36 L485.79,196.36Z" fill="#ff7888"/>
<path d="M488.55,190.57 L490.20,193.57 L486.90,193.57Z" fill="#ff7888"/>
<path d="M489.67,187.79 L491.32,190.79 L488.02,190.79Z" fill="#ff7888"/>
<path d="M490.81,185.01 L492.46,188.01 L489.16,188.01Z" fill="#ff7888"/>
<path d="M491.95,182.24 L493.60,185.24 L490.30,185.24Z" fill="#ff7888"/>
<path d="M493.09,179.46 L494.74,182.46 L491.44,182.46Z" fill="#ff7888"/>
<path d="M494.23,176.69 L495.88,179.69 L492.58,179.69Z" fill="#ff7888"/>
<path d="M495.37,173.91 L497.02,176.91 L493.72,176.91Z" fill="#ff7888"/>
<path d="M496.51,171.13 L498.16,174.13 L494.86,174.13Z" fill="#ff7888"/>
<path d="M497.61,168.35 L499.26,171.35 L495.96,171.35Z" fill="#ff7888"/>
<path d="M498.63,165.52 L500.28,168.52 L496.98,168.52Z" fill="#ff7888"/>
<path d="M499.65,162.70 L501.30,165.70 L498.00,165.70Z" fill="#ff7888"/>
<path d="M500.67,159.88 L502.32,162.88 L499.02,162.88Z" fill="#ff7888"/>
<path d="M501.69,157.06 L503.34,160.06 L500.04,160.06Z" fill="#ff7888"/>
<path d="M503.06,154.41 L504.71,157.41 L501.41,157.41Z" fill="#ff7888"/>
<path d="M504.59,151.82 L506.24,154.82 L502.94,154.82Z" fill="#ff7888"/>
<path d="M506.12,149.24 L507.77,152.24 L504.47,152.24Z" fill="#ff7888"/>
<path d="M508.46,147.49 L510.11,150.49 L506.81,150.49Z" fill="#ff7888"/>
<path d="M511.07,146.01 L512.72,149.01 L509.42,149.01Z" fill="#ff7888"/>
<path d="M513.85,145.07 L515.50,148.07 L512.20,148.07Z" fill="#ff7888"/>
<path d="M516.84,144.80 L518.49,147.80 L515.19,147.80Z" fill="#ff7888"/>
<path d="M519.82,144.52 L521.47,147.52 L518.17,147.52Z" fill="#ff7888"/>
<path d="M522.82,144.47 L524.47,147.47 L521.17,147.47Z" fill="#ff7888"/>
<path d="M525.82,144.44 L527.47,147.44 L524.17,147.44Z" fill="#ff7888"/>
<path d="M528.82,144.42 L530.47,147.42 L527.17,147.42Z" fill="#ff7888"/>
<path d="M531.82,144.39 L533.47,147.39 L530.17,147.39Z" fill="#ff7888"/>
<path d="M534.82,144.36 L536.47,147.36 L533.17,147.36Z" fill="#ff7888"/>
<path d="M537.82,144.33 L539.47,147.33 L536.17,147.33Z" fill="#ff7888"/>
<path d="M540.82,144.30 L542.47,147.30 L539.17,147.30Z" fill="#ff7888"/>
<line x1="424.10" y1="190.30" x2="437.00" y2="190.30" stroke="#4a0a0a" stroke-width="1.0"/>
<circle cx="430.5" cy="190.3" r="1.0" fill="#4a0a0a"/>
<text x="439.10" y="192.30" font-size="5.6" fill="#222">Initial</text>
<line x1="424.10" y1="197.48" x2="437.00" y2="197.48" stroke="#8a0f12" stroke-width="1.0"/>
<circle cx="430.5" cy="197.48000000000002" r="1.0" fill="#8a0f12"/>
<text x="439.10" y="199.48" font-size="5.6" fill="#222">1000th</text>
<line x1="424.10" y1="204.66" x2="437.00" y2="204.66" stroke="#cc1418" stroke-width="1.0"/>
<circle cx="430.5" cy="204.66000000000003" r="1.0" fill="#cc1418"/>
<text x="439.10" y="206.66" font-size="5.6" fill="#222">2000th</text>
<line x1="424.10" y1="211.84" x2="437.00" y2="211.84" stroke="#f01820" stroke-width="1.0"/>
<circle cx="430.5" cy="211.84" r="1.0" fill="#f01820"/>
<text x="439.10" y="213.84" font-size="5.6" fill="#222">3000th</text>
<line x1="424.10" y1="219.02" x2="437.00" y2="219.02" stroke="#ff3c4c" stroke-width="1.0"/>
<circle cx="430.5" cy="219.02" r="1.0" fill="#ff3c4c"/>
<text x="439.10" y="221.02" font-size="5.6" fill="#222">4000th</text>
<line x1="424.10" y1="226.20" x2="437.00" y2="226.20" stroke="#ff7888" stroke-width="1.0"/>
<circle cx="430.5" cy="226.20000000000002" r="1.0" fill="#ff7888"/>
<text x="439.10" y="228.20" font-size="5.6" fill="#222">5000th</text>
<text x="4.20" y="294.50" font-size="20.5" font-weight="bold" fill="#000">g</text>
<path d="M25,286.3 L61.8,286.3 L61.8,410 L12.8,410 L12.8,304.1 L25,304.1 Z" fill="#000"/>
<rect x="66.50" y="286.30" width="59.20" height="123.70" fill="#000"/>
<g clip-path="url(#clipG1)"><g filter="url(#blurT)">
<path d="M41.3,302.0 L39.3,305.1 L41.7,308.3 L38.9,311.4 L41.4,314.6 L39.9,317.7 L41.9,320.9 L39.5,324.0 L41.7,327.2 L39.4,330.3 L41.8,333.5 L39.7,336.6 L41.4,339.8 L39.8,342.9 L41.8,346.1 L39.6,349.2 L41.5,352.4 L39.3,355.5 L42.0,358.7 L39.0,361.8 L42.1,365.0 L39.5,368.1 L41.6,371.3 L39.3,374.4 L41.7,377.6 L39.6,380.7 L42.0,383.9 L39.6,387.0 L42.0,390.2 L39.8,393.3 L41.8,396.5 L39.7,399.6 L41.4,402.8 L39.8,405.9 L41.2,409.1 L39.3,412.2 L52.7,412.2 L51.1,409.1 L53.5,405.9 L50.4,402.8 L53.1,399.6 L50.5,396.5 L53.1,393.3 L51.3,390.2 L52.7,387.0 L51.3,383.9 L53.4,380.7 L51.2,377.6 L53.1,374.4 L50.7,371.3 L52.8,368.1 L50.7,365.0 L52.7,361.8 L50.4,358.7 L53.4,355.5 L51.1,352.4 L53.4,349.2 L51.2,346.1 L53.0,342.9 L50.3,339.8 L53.1,336.6 L50.4,333.5 L53.2,330.3 L51.2,327.2 L52.7,324.0 L50.8,320.9 L53.0,317.7 L50.5,314.6 L53.3,311.4 L50.4,308.3 L53.1,305.1 L50.8,302.0 Z" fill="#8c8c8c"/>
<ellipse cx="45.2" cy="298.5" rx="2.7" ry="1.9" fill="#5f5f5f"/>
<ellipse cx="47.5" cy="301.2" rx="2.1" ry="1.6" fill="#a5a5a5"/>
<ellipse cx="48.7" cy="303.8" rx="2.0" ry="1.1" fill="#5f5f5f"/>
<ellipse cx="48.6" cy="307.0" rx="1.9" ry="1.3" fill="#5f5f5f"/>
<ellipse cx="45.4" cy="310.1" rx="2.0" ry="1.1" fill="#afafaf"/>
<ellipse cx="48.0" cy="312.6" rx="2.1" ry="1.9" fill="#5f5f5f"/>
<ellipse cx="48.4" cy="315.3" rx="2.3" ry="1.4" fill="#696969"/>
<ellipse cx="45.9" cy="318.5" rx="1.9" ry="1.3" fill="#a5a5a5"/>
<ellipse cx="45.8" cy="320.5" rx="2.4" ry="1.0" fill="#696969"/>
<ellipse cx="46.8" cy="322.6" rx="2.2" ry="1.7" fill="#a5a5a5"/>
<ellipse cx="45.1" cy="325.3" rx="2.2" ry="1.6" fill="#5f5f5f"/>
<ellipse cx="45.0" cy="328.4" rx="2.2" ry="1.6" fill="#a5a5a5"/>
<ellipse cx="44.6" cy="330.7" rx="2.6" ry="1.8" fill="#a5a5a5"/>
<ellipse cx="45.6" cy="333.0" rx="2.7" ry="1.0" fill="#696969"/>
<ellipse cx="44.8" cy="335.4" rx="2.7" ry="1.2" fill="#696969"/>
<ellipse cx="46.9" cy="338.2" rx="1.6" ry="1.6" fill="#a5a5a5"/>
<ellipse cx="44.8" cy="341.0" rx="2.7" ry="2.0" fill="#5f5f5f"/>
<ellipse cx="47.0" cy="343.4" rx="2.8" ry="1.5" fill="#696969"/>
<ellipse cx="43.9" cy="346.4" rx="2.9" ry="1.3" fill="#696969"/>
<ellipse cx="45.4" cy="349.4" rx="2.7" ry="1.1" fill="#a5a5a5"/>
<ellipse cx="45.8" cy="352.1" rx="2.3" ry="1.8" fill="#afafaf"/>
<ellipse cx="45.8" cy="354.5" rx="2.1" ry="1.4" fill="#afafaf"/>
<ellipse cx="43.7" cy="356.7" rx="2.9" ry="1.9" fill="#afafaf"/>
<ellipse cx="48.6" cy="359.4" rx="2.6" ry="1.0" fill="#afafaf"/>
<ellipse cx="47.0" cy="362.4" rx="2.3" ry="1.3" fill="#a5a5a5"/>
<ellipse cx="48.0" cy="365.4" rx="2.8" ry="2.0" fill="#5f5f5f"/>
<ellipse cx="43.9" cy="368.4" rx="2.9" ry="1.7" fill="#696969"/>
<ellipse cx="48.2" cy="371.5" rx="2.4" ry="1.0" fill="#5f5f5f"/>
<ellipse cx="45.2" cy="373.7" rx="2.5" ry="1.5" fill="#afafaf"/>
<ellipse cx="48.3" cy="375.8" rx="1.7" ry="1.1" fill="#afafaf"/>
<ellipse cx="44.0" cy="378.7" rx="1.8" ry="1.1" fill="#5f5f5f"/>
<ellipse cx="47.7" cy="380.9" rx="2.9" ry="1.8" fill="#5f5f5f"/>
<ellipse cx="46.6" cy="383.5" rx="2.1" ry="1.8" fill="#696969"/>
<ellipse cx="46.3" cy="385.9" rx="2.1" ry="1.5" fill="#5f5f5f"/>
<ellipse cx="47.6" cy="388.9" rx="1.6" ry="1.0" fill="#afafaf"/>
<ellipse cx="48.0" cy="392.0" rx="1.6" ry="1.5" fill="#a5a5a5"/>
<ellipse cx="44.1" cy="394.2" rx="2.1" ry="1.4" fill="#a5a5a5"/>
<ellipse cx="44.7" cy="396.7" rx="2.0" ry="1.1" fill="#5f5f5f"/>
<ellipse cx="45.6" cy="399.5" rx="1.6" ry="1.2" fill="#a5a5a5"/>
<ellipse cx="47.0" cy="402.1" rx="2.3" ry="1.6" fill="#5f5f5f"/>
<ellipse cx="45.9" cy="404.8" rx="2.1" ry="1.5" fill="#a5a5a5"/>
<ellipse cx="47.2" cy="407.3" rx="2.2" ry="1.2" fill="#a5a5a5"/>
<ellipse cx="44.1" cy="410.2" rx="2.1" ry="1.4" fill="#5f5f5f"/>
<path d="M43,290.3 L47,291.2 L51.2,293.8 L51,300 L50.5,305 L40.5,305.5 L39.8,301 L41.5,296 Z" fill="#a4a4a4"/>
<path d="M45.5,291.5 L50.5,294.2 L49.8,300 L46.5,299 L44.5,294 Z" fill="#e0e0e0"/>
<path d="M40,304 L52,304 L50,310 L41,310 Z" fill="#a8a8a8"/>
<ellipse cx="32" cy="388" rx="5" ry="5.5" fill="#a8a8a8"/>
<ellipse cx="31.5" cy="386" rx="3" ry="3" fill="#d0d0d0"/>
<path d="M27,392 L38,390 L42,396 L46,394 L50,400 L50,412 L29,412 L27,402 Z" fill="#9a9a9a"/>
<path d="M36,398 L42,393 L48,397 L49,406 L42,410 L36,406 Z" fill="#e8e8e8"/>
<path d="M29,400 L35,398 L34,406 L29,407 Z" fill="#7a7a7a"/>
</g></g>
<g clip-path="url(#clipG2)"><g filter="url(#blurT)">
<path d="M84.3,286.3 L80.2,290.7 L85.4,298.7 L80.5,303.2 L83.9,311.2 L79.3,318.1 L85.3,322.5 L81.2,331.0 L83.7,336.4 L79.3,342.9 L84.2,348.6 L79.5,354.0 L84.4,360.8 L80.1,366.1 L84.4,374.2 L81.0,380.5 L84.9,387.1 L80.9,393.8 L85.0,398.3 L80.5,404.6 L85.5,411.1 L104.7,411.3 L107.7,405.8 L103.8,398.3 L108.4,392.4 L103.6,385.5 L108.4,380.0 L103.6,374.1 L108.4,368.8 L104.1,360.8 L108.7,355.6 L105.0,348.0 L109.5,340.9 L104.3,336.3 L108.6,330.5 L105.0,323.6 L107.6,315.6 L103.4,309.9 L108.6,302.9 L104.6,298.6 L109.2,292.3 L104.9,285.0 Z" fill="#d6d6d6"/>
<path d="M88.1,286.3 L84.0,290.7 L89.2,298.7 L84.3,303.2 L87.7,311.2 L83.1,318.1 L89.1,322.5 L85.0,331.0 L87.5,336.4 L83.1,342.9 L88.0,348.6 L83.3,354.0 L88.2,360.8 L83.89999999999999,366.1 L88.2,374.2 L84.8,380.5 L88.7,387.1 L84.7,393.8 L88.8,398.3 L84.3,404.6 L89.3,411.1 L100.9,411.3 L103.9,405.8 L100.0,398.3 L104.60000000000001,392.4 L99.8,385.5 L104.60000000000001,380.0 L99.8,374.1 L104.60000000000001,368.8 L100.3,360.8 L104.9,355.6 L101.2,348.0 L105.7,340.9 L100.5,336.3 L104.8,330.5 L101.2,323.6 L103.8,315.6 L99.60000000000001,309.9 L104.8,302.9 L100.8,298.6 L105.4,292.3 L101.10000000000001,285.0 Z" fill="#969696"/>
<ellipse cx="96.1" cy="391.9" rx="2.0" ry="1.8" fill="#cdcdcd" opacity="0.7"/>
<ellipse cx="100.3" cy="319.2" rx="1.9" ry="2.4" fill="#d7d7d7" opacity="0.7"/>
<ellipse cx="99.7" cy="325.9" rx="1.8" ry="3.0" fill="#8c8c8c" opacity="0.7"/>
<ellipse cx="88.9" cy="373.0" rx="2.7" ry="2.9" fill="#828282" opacity="0.7"/>
<ellipse cx="103.9" cy="289.4" rx="1.6" ry="2.9" fill="#cdcdcd" opacity="0.7"/>
<ellipse cx="89.4" cy="344.0" rx="2.0" ry="2.6" fill="#cdcdcd" opacity="0.7"/>
<ellipse cx="101.2" cy="404.9" rx="2.0" ry="1.8" fill="#969696" opacity="0.7"/>
<ellipse cx="96.8" cy="303.0" rx="2.9" ry="1.6" fill="#969696" opacity="0.7"/>
<ellipse cx="85.9" cy="307.0" rx="1.9" ry="1.6" fill="#cdcdcd" opacity="0.7"/>
<ellipse cx="90.0" cy="300.6" rx="3.3" ry="1.6" fill="#8c8c8c" opacity="0.7"/>
<ellipse cx="97.8" cy="358.0" rx="1.5" ry="2.0" fill="#8c8c8c" opacity="0.7"/>
<ellipse cx="86.5" cy="333.1" rx="2.8" ry="2.6" fill="#8c8c8c" opacity="0.7"/>
<ellipse cx="95.3" cy="334.5" rx="1.7" ry="1.9" fill="#8c8c8c" opacity="0.7"/>
<ellipse cx="101.9" cy="300.0" rx="3.3" ry="1.6" fill="#969696" opacity="0.7"/>
<ellipse cx="92.0" cy="370.1" rx="2.4" ry="2.5" fill="#969696" opacity="0.7"/>
<ellipse cx="102.9" cy="299.3" rx="2.2" ry="2.3" fill="#828282" opacity="0.7"/>
<ellipse cx="94.4" cy="300.0" rx="2.2" ry="2.6" fill="#828282" opacity="0.7"/>
<ellipse cx="97.3" cy="378.0" rx="3.0" ry="1.7" fill="#969696" opacity="0.7"/>
<ellipse cx="97.5" cy="396.3" rx="1.7" ry="2.9" fill="#d7d7d7" opacity="0.7"/>
<ellipse cx="97.3" cy="400.2" rx="2.8" ry="2.1" fill="#969696" opacity="0.7"/>
<ellipse cx="93.7" cy="366.3" rx="2.1" ry="1.8" fill="#cdcdcd" opacity="0.7"/>
<ellipse cx="88.4" cy="299.3" rx="2.6" ry="2.4" fill="#8c8c8c" opacity="0.7"/>
<ellipse cx="90.1" cy="330.5" rx="2.3" ry="2.8" fill="#cdcdcd" opacity="0.7"/>
<ellipse cx="90.2" cy="345.4" rx="2.9" ry="2.3" fill="#969696" opacity="0.7"/>
<ellipse cx="93.5" cy="403.2" rx="3.1" ry="1.6" fill="#8c8c8c" opacity="0.7"/>
<ellipse cx="87.1" cy="391.0" rx="2.0" ry="1.6" fill="#cdcdcd" opacity="0.7"/>
<ellipse cx="102.3" cy="356.0" rx="1.7" ry="2.5" fill="#828282" opacity="0.7"/>
<ellipse cx="99.1" cy="337.7" rx="3.1" ry="2.6" fill="#828282" opacity="0.7"/>
<ellipse cx="101.3" cy="361.4" rx="3.1" ry="2.3" fill="#d7d7d7" opacity="0.7"/>
<ellipse cx="88.8" cy="356.5" rx="2.0" ry="2.7" fill="#cdcdcd" opacity="0.7"/>
<ellipse cx="93.5" cy="390.4" rx="2.3" ry="2.7" fill="#969696" opacity="0.7"/>
<ellipse cx="96.1" cy="354.5" rx="2.8" ry="3.0" fill="#969696" opacity="0.7"/>
<ellipse cx="97.7" cy="397.1" rx="1.6" ry="1.8" fill="#cdcdcd" opacity="0.7"/>
<ellipse cx="99.4" cy="299.3" rx="2.0" ry="1.8" fill="#8c8c8c" opacity="0.7"/>
<ellipse cx="99.9" cy="310.7" rx="1.9" ry="2.7" fill="#8c8c8c" opacity="0.7"/>
<ellipse cx="90.4" cy="299.8" rx="2.8" ry="1.7" fill="#8c8c8c" opacity="0.7"/>
<ellipse cx="96.8" cy="384.3" rx="1.6" ry="2.0" fill="#d7d7d7" opacity="0.7"/>
<ellipse cx="94.5" cy="348.7" rx="1.5" ry="2.0" fill="#969696" opacity="0.7"/>
<ellipse cx="98.2" cy="393.9" rx="1.8" ry="2.8" fill="#828282" opacity="0.7"/>
<ellipse cx="85.6" cy="382.1" rx="1.7" ry="3.0" fill="#d7d7d7" opacity="0.7"/>
<ellipse cx="101.4" cy="401.5" rx="2.4" ry="2.6" fill="#8c8c8c" opacity="0.7"/>
<ellipse cx="100.0" cy="325.2" rx="2.3" ry="2.8" fill="#d7d7d7" opacity="0.7"/>
<ellipse cx="94.0" cy="334.5" rx="1.6" ry="2.8" fill="#d7d7d7" opacity="0.7"/>
<ellipse cx="90.8" cy="366.5" rx="2.4" ry="2.6" fill="#8c8c8c" opacity="0.7"/>
<ellipse cx="93.7" cy="340.4" rx="1.6" ry="1.9" fill="#969696" opacity="0.7"/>
<ellipse cx="91.9" cy="341.5" rx="2.3" ry="3.0" fill="#d7d7d7" opacity="0.7"/>
<ellipse cx="92.0" cy="318.1" rx="3.2" ry="2.3" fill="#d7d7d7" opacity="0.7"/>
<ellipse cx="88.2" cy="312.0" rx="2.3" ry="1.8" fill="#cdcdcd" opacity="0.7"/>
<ellipse cx="96.6" cy="303.3" rx="2.4" ry="1.8" fill="#cdcdcd" opacity="0.7"/>
<ellipse cx="91.0" cy="336.0" rx="1.6" ry="2.6" fill="#d7d7d7" opacity="0.7"/>
<ellipse cx="92.5" cy="336.0" rx="1.6" ry="2.9" fill="#d7d7d7" opacity="0.7"/>
<ellipse cx="92.4" cy="316.0" rx="1.9" ry="2.0" fill="#cdcdcd" opacity="0.7"/>
<ellipse cx="87.4" cy="328.9" rx="1.6" ry="2.6" fill="#969696" opacity="0.7"/>
<ellipse cx="102.9" cy="407.7" rx="3.1" ry="2.9" fill="#8c8c8c" opacity="0.7"/>
<ellipse cx="90.1" cy="317.0" rx="3.1" ry="2.4" fill="#969696" opacity="0.7"/>
<ellipse cx="86.1" cy="325.3" rx="2.4" ry="1.6" fill="#828282" opacity="0.7"/>
<ellipse cx="85.6" cy="286.5" rx="1.7" ry="1.8" fill="#cdcdcd" opacity="0.7"/>
<ellipse cx="88.6" cy="345.7" rx="2.5" ry="2.0" fill="#8c8c8c" opacity="0.7"/>
<ellipse cx="94.1" cy="328.2" rx="2.2" ry="2.5" fill="#8c8c8c" opacity="0.7"/>
<ellipse cx="96.5" cy="323.8" rx="3.4" ry="1.6" fill="#969696" opacity="0.7"/>
<circle cx="93.5" cy="308.8" r="1.1" fill="#464646"/>
<circle cx="96.5" cy="327.4" r="1.4" fill="#1e1e1e"/>
<circle cx="98.5" cy="389.8" r="1.0" fill="#464646"/>
<circle cx="91.0" cy="330.5" r="1.3" fill="#323232"/>
<circle cx="97.6" cy="314.4" r="1.1" fill="#323232"/>
<circle cx="94.6" cy="387.8" r="1.3" fill="#464646"/>
<circle cx="99.4" cy="372.4" r="0.7" fill="#1e1e1e"/>
<circle cx="89.3" cy="374.1" r="1.1" fill="#464646"/>
<circle cx="90.1" cy="370.0" r="0.9" fill="#464646"/>
<circle cx="95.7" cy="293.0" r="0.7" fill="#323232"/>
<circle cx="97.1" cy="397.2" r="1.0" fill="#323232"/>
<circle cx="91.1" cy="286.2" r="1.3" fill="#1e1e1e"/>
<circle cx="92.4" cy="328.0" r="1.1" fill="#464646"/>
<circle cx="96.6" cy="312.1" r="1.5" fill="#464646"/>
<circle cx="99.8" cy="303.7" r="0.8" fill="#323232"/>
<circle cx="91.4" cy="405.9" r="1.1" fill="#323232"/>
<circle cx="99.0" cy="348.6" r="1.0" fill="#464646"/>
<circle cx="94.1" cy="383.0" r="1.2" fill="#1e1e1e"/>
<circle cx="90.2" cy="388.4" r="0.7" fill="#1e1e1e"/>
<circle cx="98.8" cy="310.7" r="0.8" fill="#323232"/>
<circle cx="98.1" cy="335.5" r="1.2" fill="#1e1e1e"/>
<circle cx="97.4" cy="365.6" r="1.4" fill="#323232"/>
<circle cx="96.3" cy="336.0" r="1.3" fill="#323232"/>
<circle cx="95.5" cy="389.6" r="1.4" fill="#1e1e1e"/>
<circle cx="89.1" cy="300.5" r="0.9" fill="#464646"/>
<circle cx="92.8" cy="295.6" r="1.1" fill="#1e1e1e"/>
<circle cx="96.5" cy="400.6" r="1.0" fill="#464646"/>
<circle cx="94.7" cy="294.3" r="0.9" fill="#1e1e1e"/>
<circle cx="93.7" cy="327.6" r="0.8" fill="#1e1e1e"/>
<circle cx="97.2" cy="326.1" r="0.9" fill="#1e1e1e"/>
<circle cx="99.9" cy="394.5" r="1.2" fill="#464646"/>
<circle cx="93.6" cy="352.4" r="1.5" fill="#464646"/>
<circle cx="94.3" cy="403.8" r="1.3" fill="#323232"/>
<circle cx="95.5" cy="344.2" r="0.7" fill="#1e1e1e"/>
<circle cx="90.1" cy="308.9" r="1.3" fill="#323232"/>
<circle cx="89.7" cy="348.4" r="1.1" fill="#1e1e1e"/>
<circle cx="92.0" cy="378.4" r="1.0" fill="#323232"/>
<circle cx="91.2" cy="344.1" r="1.3" fill="#1e1e1e"/>
<circle cx="92.3" cy="298.8" r="1.0" fill="#1e1e1e"/>
<circle cx="94.4" cy="311.5" r="1.3" fill="#323232"/>
<circle cx="99.8" cy="407.1" r="1.4" fill="#323232"/>
<circle cx="93.7" cy="402.9" r="1.5" fill="#323232"/>
<circle cx="95.0" cy="351.2" r="1.0" fill="#323232"/>
<circle cx="94.1" cy="321.4" r="1.4" fill="#323232"/>
<circle cx="99.2" cy="378.7" r="1.1" fill="#1e1e1e"/>
<circle cx="94.8" cy="302.3" r="1.1" fill="#1e1e1e"/>
<circle cx="89.0" cy="403.8" r="1.5" fill="#323232"/>
<circle cx="99.6" cy="330.0" r="1.0" fill="#464646"/>
<circle cx="91.0" cy="290.4" r="0.7" fill="#323232"/>
<circle cx="98.2" cy="398.2" r="1.2" fill="#1e1e1e"/>
<circle cx="91.9" cy="341.8" r="1.2" fill="#323232"/>
<circle cx="91.9" cy="337.9" r="0.7" fill="#323232"/>
<circle cx="100.0" cy="290.6" r="0.8" fill="#464646"/>
<circle cx="90.5" cy="316.7" r="1.3" fill="#323232"/>
<circle cx="98.1" cy="349.1" r="1.1" fill="#323232"/>
<circle cx="89.5" cy="288.1" r="1.1" fill="#1e1e1e"/>
<circle cx="99.0" cy="397.2" r="1.1" fill="#464646"/>
<circle cx="98.5" cy="379.6" r="1.5" fill="#464646"/>
<circle cx="94.7" cy="337.4" r="0.8" fill="#1e1e1e"/>
<circle cx="90.5" cy="295.1" r="1.4" fill="#1e1e1e"/>
</g></g>
<line x1="15.80" y1="382.50" x2="15.80" y2="407.50" stroke="#fff" stroke-width="0.9"/>
<text transform="translate(18,382.5) rotate(90)" font-size="5.6" fill="#fff">50 nm</text>
<line x1="71.70" y1="388.30" x2="71.70" y2="408.30" stroke="#fff" stroke-width="0.9"/>
<text transform="translate(73.8,387.5) rotate(90)" font-size="5.6" fill="#fff">20 nm</text>
<text x="147.00" y="295.00" font-size="20.5" font-weight="bold" fill="#000">h</text>
<rect x="170.10" y="281.90" width="79.00" height="116.40" fill="none" stroke="#444" stroke-width="1.1"/>
<line x1="170.10" y1="285.80" x2="168.50" y2="285.80" stroke="#444" stroke-width="0.9"/>
<text x="168.70" y="288.03" font-size="6.2" text-anchor="end" fill="#000">0</text>
<line x1="170.10" y1="299.86" x2="169.14" y2="299.86" stroke="#444" stroke-width="0.8"/>
<line x1="170.10" y1="313.92" x2="168.50" y2="313.92" stroke="#444" stroke-width="0.9"/>
<text x="168.70" y="316.15" font-size="6.2" text-anchor="end" fill="#000">50</text>
<line x1="170.10" y1="327.98" x2="169.14" y2="327.98" stroke="#444" stroke-width="0.8"/>
<line x1="170.10" y1="342.04" x2="168.50" y2="342.04" stroke="#444" stroke-width="0.9"/>
<text x="168.70" y="344.27" font-size="6.2" text-anchor="end" fill="#000">100</text>
<line x1="170.10" y1="356.10" x2="169.14" y2="356.10" stroke="#444" stroke-width="0.8"/>
<line x1="170.10" y1="370.16" x2="168.50" y2="370.16" stroke="#444" stroke-width="0.9"/>
<text x="168.70" y="372.39" font-size="6.2" text-anchor="end" fill="#000">150</text>
<line x1="170.10" y1="384.22" x2="169.14" y2="384.22" stroke="#444" stroke-width="0.8"/>
<line x1="170.10" y1="398.28" x2="168.50" y2="398.28" stroke="#444" stroke-width="0.9"/>
<text x="168.70" y="400.51" font-size="6.2" text-anchor="end" fill="#000">200</text>
<line x1="170.20" y1="398.30" x2="170.20" y2="399.90" stroke="#444" stroke-width="0.9"/>
<text x="170.20" y="406.50" font-size="6.2" text-anchor="middle" fill="#000">&#8722;0.4</text>
<line x1="179.60" y1="398.30" x2="179.60" y2="399.26" stroke="#444" stroke-width="0.8"/>
<line x1="189.00" y1="398.30" x2="189.00" y2="399.90" stroke="#444" stroke-width="0.9"/>
<text x="189.00" y="406.50" font-size="6.2" text-anchor="middle" fill="#000">&#8722;0.3</text>
<line x1="198.40" y1="398.30" x2="198.40" y2="399.26" stroke="#444" stroke-width="0.8"/>
<line x1="207.80" y1="398.30" x2="207.80" y2="399.90" stroke="#444" stroke-width="0.9"/>
<text x="207.80" y="406.50" font-size="6.2" text-anchor="middle" fill="#000">&#8722;0.2</text>
<line x1="217.20" y1="398.30" x2="217.20" y2="399.26" stroke="#444" stroke-width="0.8"/>
<line x1="226.60" y1="398.30" x2="226.60" y2="399.90" stroke="#444" stroke-width="0.9"/>
<text x="226.60" y="406.50" font-size="6.2" text-anchor="middle" fill="#000">&#8722;0.1</text>
<line x1="236.00" y1="398.30" x2="236.00" y2="399.26" stroke="#444" stroke-width="0.8"/>
<line x1="245.40" y1="398.30" x2="245.40" y2="399.90" stroke="#444" stroke-width="0.9"/>
<text x="245.40" y="406.50" font-size="6.2" text-anchor="middle" fill="#000">0.0</text>
<text x="206.20" y="415.60" font-size="8.6" text-anchor="middle" fill="#222" stroke="#222" stroke-width="0.2">E (V vs. RHE)</text>
<text transform="translate(154.6,345.3) rotate(-90)" font-size="9.2" text-anchor="middle" fill="#222" stroke="#222" stroke-width="0.2">j (mA cm<tspan font-size="5.8" dy="-3.2">&#8722;2</tspan><tspan dy="3.2">)</tspan></text>
<path d="M170.60,334.10 C171.83,332.57 175.10,327.98 178.00,324.90 C180.90,321.82 184.67,318.62 188.00,315.60 C191.33,312.58 194.67,309.55 198.00,306.80 C201.33,304.05 204.68,301.37 208.00,299.10 C211.32,296.83 214.58,294.87 217.90,293.20 C221.22,291.53 224.57,290.17 227.90,289.10 C231.23,288.03 234.58,287.28 237.90,286.80 C241.22,286.32 246.15,286.30 247.80,286.20" stroke="#1a9aaa" stroke-width="1.8" fill="none" stroke-linejoin="round" stroke-linecap="round"/>
<path d="M170.60,346.20 C171.83,344.63 175.10,339.93 178.00,336.80 C180.90,333.67 184.67,330.35 188.00,327.40 C191.33,324.45 194.67,321.77 198.00,319.10 C201.33,316.43 204.68,313.92 208.00,311.40 C211.32,308.88 214.58,306.40 217.90,304.00 C221.22,301.60 224.57,299.20 227.90,297.00 C231.23,294.80 234.58,292.55 237.90,290.80 C241.22,289.05 246.15,287.22 247.80,286.50" stroke="#444" stroke-width="1.7" fill="none" stroke-linejoin="round" stroke-linecap="round"/>
<path d="M170.60,391.00 C172.17,387.33 176.97,375.75 180.00,369.00 C183.03,362.25 185.80,356.08 188.80,350.50 C191.80,344.92 194.80,340.67 198.00,335.50 C201.20,330.33 204.68,324.50 208.00,319.50 C211.32,314.50 215.42,308.82 217.90,305.50 C220.38,302.18 221.23,301.38 222.90,299.60 C224.57,297.82 226.23,296.13 227.90,294.80 C229.57,293.47 231.23,292.57 232.90,291.60 C234.57,290.63 236.23,289.72 237.90,289.00 C239.57,288.28 241.25,287.75 242.90,287.30 C244.55,286.85 246.98,286.47 247.80,286.30" stroke="#e08020" stroke-width="1.3" fill="none" stroke-linejoin="round" stroke-linecap="round"/>
<line x1="193.30" y1="377.80" x2="203.30" y2="377.80" stroke="#e08020" stroke-width="1.0"/>
<circle cx="198.3" cy="377.8" r="0.9" fill="#e08020"/>
<text x="205.40" y="379.60" font-size="5.0" fill="#222"><tspan font-style="italic">pha</tspan>-PtCu</text>
<line x1="193.30" y1="384.05" x2="203.30" y2="384.05" stroke="#1899a8" stroke-width="1.0"/>
<circle cx="198.3" cy="384.05" r="0.9" fill="#1899a8"/>
<text x="205.40" y="385.85" font-size="5.0" fill="#222"><tspan font-style="italic">ha</tspan>-PtCu</text>
<line x1="193.30" y1="390.30" x2="203.30" y2="390.30" stroke="#4aa0e8" stroke-width="1.0"/>
<circle cx="198.3" cy="390.3" r="0.9" fill="#333"/>
<text x="205.40" y="392.10" font-size="5.0" fill="#222">Commercial Pt/C</text>
<text x="267.40" y="294.70" font-size="20.5" font-weight="bold" fill="#000">i</text>
<rect x="289.40" y="284.20" width="136.80" height="110.20" fill="none" stroke="#333" stroke-width="1.1"/>
<line x1="289.40" y1="284.40" x2="287.80" y2="284.40" stroke="#333" stroke-width="0.9"/>
<text x="286.60" y="286.75" font-size="6.6" text-anchor="end" fill="#222" textLength="10.0" lengthAdjust="spacingAndGlyphs">200</text>
<line x1="289.40" y1="290.19" x2="288.40" y2="290.19" stroke="#333" stroke-width="0.7"/>
<line x1="289.40" y1="295.98" x2="287.80" y2="295.98" stroke="#333" stroke-width="0.9"/>
<text x="286.60" y="298.33" font-size="6.6" text-anchor="end" fill="#222" textLength="10.0" lengthAdjust="spacingAndGlyphs">180</text>
<line x1="289.40" y1="301.77" x2="288.40" y2="301.77" stroke="#333" stroke-width="0.7"/>
<line x1="289.40" y1="307.56" x2="287.80" y2="307.56" stroke="#333" stroke-width="0.9"/>
<text x="286.60" y="309.91" font-size="6.6" text-anchor="end" fill="#222" textLength="10.0" lengthAdjust="spacingAndGlyphs">160</text>
<line x1="289.40" y1="313.35" x2="288.40" y2="313.35" stroke="#333" stroke-width="0.7"/>
<line x1="289.40" y1="319.14" x2="287.80" y2="319.14" stroke="#333" stroke-width="0.9"/>
<text x="286.60" y="321.49" font-size="6.6" text-anchor="end" fill="#222" textLength="10.0" lengthAdjust="spacingAndGlyphs">140</text>
<line x1="289.40" y1="324.93" x2="288.40" y2="324.93" stroke="#333" stroke-width="0.7"/>
<line x1="289.40" y1="330.72" x2="287.80" y2="330.72" stroke="#333" stroke-width="0.9"/>
<text x="286.60" y="333.07" font-size="6.6" text-anchor="end" fill="#222" textLength="10.0" lengthAdjust="spacingAndGlyphs">120</text>
<line x1="289.40" y1="336.51" x2="288.40" y2="336.51" stroke="#333" stroke-width="0.7"/>
<line x1="289.40" y1="342.30" x2="287.80" y2="342.30" stroke="#333" stroke-width="0.9"/>
<text x="286.60" y="344.65" font-size="6.6" text-anchor="end" fill="#222" textLength="10.0" lengthAdjust="spacingAndGlyphs">100</text>
<line x1="289.40" y1="348.09" x2="288.40" y2="348.09" stroke="#333" stroke-width="0.7"/>
<line x1="289.40" y1="353.88" x2="287.80" y2="353.88" stroke="#333" stroke-width="0.9"/>
<text x="286.60" y="356.23" font-size="6.6" text-anchor="end" fill="#222" textLength="6.7" lengthAdjust="spacingAndGlyphs">80</text>
<line x1="289.40" y1="359.67" x2="288.40" y2="359.67" stroke="#333" stroke-width="0.7"/>
<line x1="289.40" y1="365.46" x2="287.80" y2="365.46" stroke="#333" stroke-width="0.9"/>
<text x="286.60" y="367.81" font-size="6.6" text-anchor="end" fill="#222" textLength="6.7" lengthAdjust="spacingAndGlyphs">60</text>
<line x1="289.40" y1="371.25" x2="288.40" y2="371.25" stroke="#333" stroke-width="0.7"/>
<line x1="289.40" y1="377.04" x2="287.80" y2="377.04" stroke="#333" stroke-width="0.9"/>
<text x="286.60" y="379.39" font-size="6.6" text-anchor="end" fill="#222" textLength="6.7" lengthAdjust="spacingAndGlyphs">40</text>
<line x1="289.40" y1="382.83" x2="288.40" y2="382.83" stroke="#333" stroke-width="0.7"/>
<line x1="289.40" y1="388.62" x2="287.80" y2="388.62" stroke="#333" stroke-width="0.9"/>
<text x="286.60" y="390.97" font-size="6.6" text-anchor="end" fill="#222" textLength="6.7" lengthAdjust="spacingAndGlyphs">20</text>
<line x1="289.40" y1="394.41" x2="288.40" y2="394.41" stroke="#333" stroke-width="0.7"/>
<rect x="301.20" y="367.95" width="7.60" height="26.45" fill="url(#cOr)"/>
<rect x="308.80" y="387.58" width="7.60" height="6.82" fill="url(#cTe)"/>
<rect x="316.40" y="377.04" width="7.60" height="17.36" fill="url(#cGr)"/>
<line x1="312.60" y1="394.40" x2="312.60" y2="396.00" stroke="#333" stroke-width="0.8"/>
<text x="312.60" y="403.0" font-size="6.4" text-anchor="middle" fill="#333" textLength="25.6" lengthAdjust="spacingAndGlyphs">@=200 <tspan font-style="italic">mV</tspan></text>
<rect x="346.80" y="334.19" width="7.60" height="60.21" fill="url(#cOr)"/>
<rect x="354.40" y="371.25" width="7.60" height="23.15" fill="url(#cTe)"/>
<rect x="362.00" y="359.67" width="7.60" height="34.73" fill="url(#cGr)"/>
<line x1="358.20" y1="394.40" x2="358.20" y2="396.00" stroke="#333" stroke-width="0.8"/>
<text x="358.20" y="403.0" font-size="6.4" text-anchor="middle" fill="#333" textLength="25.6" lengthAdjust="spacingAndGlyphs">@=300 <tspan font-style="italic">mV</tspan></text>
<rect x="392.20" y="293.08" width="7.60" height="101.31" fill="url(#cOr)"/>
<rect x="399.80" y="349.25" width="7.60" height="45.15" fill="url(#cTe)"/>
<rect x="407.40" y="336.51" width="7.60" height="57.89" fill="url(#cGr)"/>
<line x1="403.60" y1="394.40" x2="403.60" y2="396.00" stroke="#333" stroke-width="0.8"/>
<text x="403.60" y="403.0" font-size="6.4" text-anchor="middle" fill="#333" textLength="25.6" lengthAdjust="spacingAndGlyphs">@=400 <tspan font-style="italic">mV</tspan></text>
<rect x="295.1" y="288.4" width="58.8" height="21.9" fill="#fff" stroke="#888" stroke-width="0.6"/>
<rect x="295.70" y="289.40" width="12.80" height="6.20" fill="url(#cOr)"/>
<text x="310.4" y="295.10" font-size="6.5" fill="#222" textLength="23.5" lengthAdjust="spacingAndGlyphs"><tspan font-style="italic">pha</tspan>-PtCu</text>
<rect x="295.70" y="296.15" width="12.80" height="6.20" fill="url(#cTe)"/>
<text x="310.4" y="301.85" font-size="6.5" fill="#222" textLength="20.3" lengthAdjust="spacingAndGlyphs"><tspan font-style="italic">ha</tspan>-PtCu</text>
<rect x="295.70" y="302.90" width="12.80" height="6.20" fill="url(#cGr)"/>
<text x="310.4" y="308.60" font-size="6.5" fill="#222" textLength="42.9" lengthAdjust="spacingAndGlyphs">Commercial Pt/C</text>
<text x="355.50" y="413.60" font-size="8.5" text-anchor="middle" fill="#222" stroke="#222" stroke-width="0.2">E (V vs. RHE)</text>
<text transform="translate(272.6,342.3) rotate(-90)" font-size="9.2" text-anchor="middle" fill="#222" stroke="#222" stroke-width="0.2">j (mA cm<tspan font-size="5.8" dy="-3.2">&#8722;2</tspan><tspan dy="3.2">)</tspan></text>
<text x="440.00" y="295.00" font-size="20" font-weight="bold" fill="#000">j</text>
<rect x="462.20" y="282.50" width="76.30" height="113.10" fill="none" stroke="#333" stroke-width="1.1"/>
<line x1="462.20" y1="395.60" x2="463.80" y2="395.60" stroke="#333" stroke-width="0.9"/>
<text x="460.00" y="397.90" font-size="6.5" text-anchor="end" fill="#222" textLength="7.8" lengthAdjust="spacingAndGlyphs">0.0</text>
<line x1="462.20" y1="385.35" x2="461.20" y2="385.35" stroke="#333" stroke-width="0.7"/>
<line x1="462.20" y1="375.10" x2="463.80" y2="375.10" stroke="#333" stroke-width="0.9"/>
<text x="460.00" y="377.40" font-size="6.5" text-anchor="end" fill="#222" textLength="7.8" lengthAdjust="spacingAndGlyphs">0.5</text>
<line x1="462.20" y1="364.85" x2="461.20" y2="364.85" stroke="#333" stroke-width="0.7"/>
<line x1="462.20" y1="354.60" x2="463.80" y2="354.60" stroke="#333" stroke-width="0.9"/>
<text x="460.00" y="356.90" font-size="6.5" text-anchor="end" fill="#222" textLength="7.8" lengthAdjust="spacingAndGlyphs">1.0</text>
<line x1="462.20" y1="344.35" x2="461.20" y2="344.35" stroke="#333" stroke-width="0.7"/>
<line x1="462.20" y1="334.10" x2="463.80" y2="334.10" stroke="#333" stroke-width="0.9"/>
<text x="460.00" y="336.40" font-size="6.5" text-anchor="end" fill="#222" textLength="7.8" lengthAdjust="spacingAndGlyphs">1.5</text>
<line x1="462.20" y1="323.85" x2="461.20" y2="323.85" stroke="#333" stroke-width="0.7"/>
<line x1="462.20" y1="313.60" x2="463.80" y2="313.60" stroke="#333" stroke-width="0.9"/>
<text x="460.00" y="315.90" font-size="6.5" text-anchor="end" fill="#222" textLength="7.8" lengthAdjust="spacingAndGlyphs">2.0</text>
<line x1="462.20" y1="303.35" x2="461.20" y2="303.35" stroke="#333" stroke-width="0.7"/>
<line x1="462.20" y1="293.10" x2="463.80" y2="293.10" stroke="#333" stroke-width="0.9"/>
<text x="460.00" y="295.40" font-size="6.5" text-anchor="end" fill="#222" textLength="7.8" lengthAdjust="spacingAndGlyphs">2.5</text>
<rect x="481.1" y="295.93" width="12.6" height="99.67" fill="url(#jOr)" stroke="#a05018" stroke-width="0.5"/>
<rect x="493.7" y="348.49" width="13.0" height="47.11" fill="url(#jTe)" stroke="#106870" stroke-width="0.5"/>
<rect x="506.7" y="336.52" width="13.2" height="59.08" fill="url(#jGr)" stroke="#333" stroke-width="0.5"/>
<text x="487.40" y="291.80" font-size="5.0" text-anchor="middle" fill="#222">2.431</text>
<text x="500.20" y="344.00" font-size="5.0" text-anchor="middle" fill="#222">1.149</text>
<text x="513.30" y="334.80" font-size="5.0" text-anchor="middle" fill="#222">1.441</text>
<text transform="translate(490.4,390.5) rotate(-90)" font-size="6.6" fill="#222"><tspan font-style="italic">pha</tspan>-PtCu</text>
<text transform="translate(500.8,390.5) rotate(-90)" font-size="6.4" fill="#222"><tspan font-style="italic">ha</tspan>-PtCu</text>
<text transform="translate(514.6,390.5) rotate(-90)" font-size="5.8" fill="#222">Commercial Pt/C</text>
<text x="499.80" y="406.80" font-size="7.0" text-anchor="middle" fill="#222" stroke="#222" stroke-width="0.1">@ = 400 <tspan font-style="italic">mV</tspan></text>
<text transform="translate(450.2,336.3) rotate(-90)" font-size="8.8" text-anchor="middle" fill="#222" stroke="#222" stroke-width="0.2">TOF  (s<tspan font-size="5.6" dy="-3">&#8722;1</tspan><tspan dy="3">)</tspan></text>
<text x="6.40" y="22.50" font-size="21" font-weight="bold" fill="#000">a</text>
<circle cx="25.4" cy="12" r="2.1" fill="#3a2e8a"/>
<text x="22.20" y="21.70" font-size="3.6" fill="#333">W<tspan font-size="2.6" dy="-1.5">6+</tspan></text>
<circle cx="37" cy="13" r="0.9" fill="#c8a070"/>
<circle cx="42" cy="12.5" r="0.9" fill="#c08040"/>
<circle cx="44" cy="9" r="0.9" fill="#d05020"/>
<circle cx="38.5" cy="10" r="0.9" fill="#9ab"/>
<circle cx="41" cy="15.5" r="0.9" fill="#9ab"/>
<circle cx="47" cy="9.5" r="0.9" fill="#9ab"/>
<circle cx="36" cy="15" r="0.9" fill="#9ab"/>
<text x="33.20" y="21.70" font-size="3.6" fill="#333">C<tspan font-size="2.4" dy="1">2</tspan><tspan dy="-1">H</tspan><tspan font-size="2.4" dy="1">5</tspan><tspan dy="-1">OH</tspan></text>
<rect x="52.2" y="9" width="13.4" height="8" rx="1.5" fill="#d06a24"/>
<circle cx="54.0" cy="11.1" r="1.15" fill="#fff4ea"/>
<circle cx="54.0" cy="15.0" r="1.15" fill="#fff4ea"/>
<circle cx="57.4" cy="11.1" r="1.15" fill="#fff4ea"/>
<circle cx="57.4" cy="15.0" r="1.15" fill="#fff4ea"/>
<circle cx="60.8" cy="11.1" r="1.15" fill="#fff4ea"/>
<circle cx="60.8" cy="15.0" r="1.15" fill="#fff4ea"/>
<circle cx="64.2" cy="11.1" r="1.15" fill="#fff4ea"/>
<circle cx="64.2" cy="15.0" r="1.15" fill="#fff4ea"/>
<circle cx="52.4" cy="9.4" r="0.95" fill="#5a1e08"/>
<circle cx="52.4" cy="13.0" r="0.95" fill="#5a1e08"/>
<circle cx="52.4" cy="16.6" r="0.95" fill="#5a1e08"/>
<circle cx="55.7" cy="9.4" r="0.95" fill="#5a1e08"/>
<circle cx="55.7" cy="13.0" r="0.95" fill="#5a1e08"/>
<circle cx="55.7" cy="16.6" r="0.95" fill="#5a1e08"/>
<circle cx="59.0" cy="9.4" r="0.95" fill="#5a1e08"/>
<circle cx="59.0" cy="13.0" r="0.95" fill="#5a1e08"/>
<circle cx="59.0" cy="16.6" r="0.95" fill="#5a1e08"/>
<circle cx="62.3" cy="9.4" r="0.95" fill="#5a1e08"/>
<circle cx="62.3" cy="13.0" r="0.95" fill="#5a1e08"/>
<circle cx="62.3" cy="16.6" r="0.95" fill="#5a1e08"/>
<circle cx="65.6" cy="9.4" r="0.95" fill="#5a1e08"/>
<circle cx="65.6" cy="13.0" r="0.95" fill="#5a1e08"/>
<circle cx="65.6" cy="16.6" r="0.95" fill="#5a1e08"/>
<linearGradient id="brk" x1="0" y1="0" x2="0" y2="1"><stop offset="0" stop-color="#e8eef8"/><stop offset="1" stop-color="#8aa8d8"/></linearGradient>
<linearGradient id="arw" x1="0" y1="0" x2="0" y2="1"><stop offset="0" stop-color="#dfe8f6"/><stop offset="1" stop-color="#4f7cc4"/></linearGradient>
<path d="M20.5,25.8 L65.7,25.8 Q66.2,30 62,30 L45.6,30 L43.1,32.6 L40.6,30 L24.2,30 Q20,30 20.5,25.8 Z" fill="url(#brk)"/>
<path d="M42.1,32 L44.1,32 L44.1,40.6 L46.5,40.6 L43.1,45.8 L39.7,40.6 L42.1,40.6 Z" fill="url(#arw)"/>
<path d="M43.3,64 L31,83 L57,88 Z" fill="#bfe6f0" opacity="0.85"/>
<path d="M43.40,51.34 L46.74,53.77 M46.74,53.77 L45.47,57.70 M45.47,57.70 L41.33,57.70 M41.33,57.70 L40.06,53.77 M40.06,53.77 L43.40,51.34 M37.45,63.31 L33.99,65.31 M33.99,65.31 L30.54,63.32 M30.54,63.32 L30.54,59.33 M30.54,59.33 L33.99,57.33 M33.99,57.33 L37.45,59.33 M37.45,59.33 L37.45,63.31 M56.26,63.31 L52.80,65.31 M52.80,65.31 L49.35,63.32 M49.35,63.32 L49.35,59.33 M49.35,59.33 L52.80,57.33 M52.80,57.33 L56.26,59.33 M56.26,59.33 L56.26,63.31 M41.33,57.70 L37.45,59.33 M45.47,57.70 L52.80,57.33 M43.40,58.38 L43.40,63.60 M37.45,63.31 L43.40,63.60 M49.35,59.33 L43.40,63.60 M33.99,57.33 L33.42,52.67 M33.42,52.67 L30.10,50.77 M33.42,52.67 L36.27,50.30 M56.26,59.33 L53.38,52.67 M53.38,52.67 L56.70,50.77 M53.38,52.67 L50.52,50.30 M30.54,59.33 L28.67,59.33 M56.26,63.31 L58.12,59.33 M43.40,51.34 L43.40,49.06" stroke="#228c84" stroke-width="2.38" stroke-linecap="round" fill="none"/>
<path d="M43.40,51.34 L46.74,53.77 M46.74,53.77 L45.47,57.70 M45.47,57.70 L41.33,57.70 M41.33,57.70 L40.06,53.77 M40.06,53.77 L43.40,51.34 M37.45,63.31 L33.99,65.31 M33.99,65.31 L30.54,63.32 M30.54,63.32 L30.54,59.33 M30.54,59.33 L33.99,57.33 M33.99,57.33 L37.45,59.33 M37.45,59.33 L37.45,63.31 M56.26,63.31 L52.80,65.31 M52.80,65.31 L49.35,63.32 M49.35,63.32 L49.35,59.33 M49.35,59.33 L52.80,57.33 M52.80,57.33 L56.26,59.33 M56.26,59.33 L56.26,63.31 M41.33,57.70 L37.45,59.33 M45.47,57.70 L52.80,57.33 M43.40,58.38 L43.40,63.60 M37.45,63.31 L43.40,63.60 M49.35,59.33 L43.40,63.60 M33.99,57.33 L33.42,52.67 M33.42,52.67 L30.10,50.77 M33.42,52.67 L36.27,50.30 M56.26,59.33 L53.38,52.67 M53.38,52.67 L56.70,50.77 M53.38,52.67 L50.52,50.30 M30.54,59.33 L28.67,59.33 M56.26,63.31 L58.12,59.33 M43.40,51.34 L43.40,49.06" stroke="#46c6ba" stroke-width="1.23" stroke-linecap="round" fill="none"/>
<circle cx="33.4" cy="52.7" r="1.23" fill="#228c84"/><circle cx="33.12" cy="52.42" r="0.66" fill="#46c6ba"/>
<circle cx="43.4" cy="51.3" r="1.23" fill="#228c84"/><circle cx="43.12" cy="51.02" r="0.66" fill="#46c6ba"/>
<circle cx="56.3" cy="59.3" r="1.23" fill="#228c84"/><circle cx="56.02" cy="59.02" r="0.66" fill="#46c6ba"/>
<circle cx="34.0" cy="65.3" r="1.23" fill="#228c84"/><circle cx="33.72" cy="65.02" r="0.66" fill="#46c6ba"/>
<circle cx="30.1" cy="50.8" r="1.23" fill="#228c84"/><circle cx="29.82" cy="50.52" r="0.66" fill="#46c6ba"/>
<circle cx="28.7" cy="59.3" r="1.23" fill="#228c84"/><circle cx="28.41" cy="59.02" r="0.66" fill="#46c6ba"/>
<circle cx="49.3" cy="59.3" r="1.23" fill="#228c84"/><circle cx="49.02" cy="59.02" r="0.66" fill="#46c6ba"/>
<circle cx="37.5" cy="63.3" r="1.23" fill="#228c84"/><circle cx="37.22" cy="63.02" r="0.66" fill="#46c6ba"/>
<circle cx="45.5" cy="57.7" r="1.23" fill="#228c84"/><circle cx="45.22" cy="57.42" r="0.66" fill="#46c6ba"/>
<circle cx="30.5" cy="63.3" r="1.23" fill="#228c84"/><circle cx="30.21" cy="63.02" r="0.66" fill="#46c6ba"/>
<circle cx="36.3" cy="50.3" r="1.23" fill="#228c84"/><circle cx="36.02" cy="50.02" r="0.66" fill="#46c6ba"/>
<circle cx="41.3" cy="57.7" r="1.23" fill="#228c84"/><circle cx="41.02" cy="57.42" r="0.66" fill="#46c6ba"/>
<circle cx="52.8" cy="57.3" r="1.23" fill="#228c84"/><circle cx="52.52" cy="57.02" r="0.66" fill="#46c6ba"/>
<circle cx="56.7" cy="50.8" r="1.23" fill="#228c84"/><circle cx="56.42" cy="50.52" r="0.66" fill="#46c6ba"/>
<circle cx="58.1" cy="59.3" r="1.23" fill="#228c84"/><circle cx="57.82" cy="59.02" r="0.66" fill="#46c6ba"/>
<circle cx="37.5" cy="59.3" r="1.23" fill="#228c84"/><circle cx="37.22" cy="59.02" r="0.66" fill="#46c6ba"/>
<circle cx="50.5" cy="50.3" r="1.23" fill="#228c84"/><circle cx="50.22" cy="50.02" r="0.66" fill="#46c6ba"/>
<circle cx="43.4" cy="49.1" r="1.23" fill="#228c84"/><circle cx="43.12" cy="48.82" r="0.66" fill="#46c6ba"/>
<circle cx="30.5" cy="59.3" r="1.23" fill="#228c84"/><circle cx="30.21" cy="59.02" r="0.66" fill="#46c6ba"/>
<circle cx="40.1" cy="53.8" r="1.23" fill="#228c84"/><circle cx="39.82" cy="53.52" r="0.66" fill="#46c6ba"/>
<circle cx="43.4" cy="58.4" r="1.23" fill="#228c84"/><circle cx="43.12" cy="58.12" r="0.66" fill="#46c6ba"/>
<circle cx="34.0" cy="57.3" r="1.23" fill="#228c84"/><circle cx="33.72" cy="57.02" r="0.66" fill="#46c6ba"/>
<circle cx="52.8" cy="65.3" r="1.23" fill="#228c84"/><circle cx="52.52" cy="65.02" r="0.66" fill="#46c6ba"/>
<circle cx="53.4" cy="52.7" r="1.23" fill="#228c84"/><circle cx="53.12" cy="52.42" r="0.66" fill="#46c6ba"/>
<circle cx="56.3" cy="63.3" r="1.23" fill="#228c84"/><circle cx="56.02" cy="63.02" r="0.66" fill="#46c6ba"/>
<circle cx="49.3" cy="63.3" r="1.23" fill="#228c84"/><circle cx="49.02" cy="63.02" r="0.66" fill="#46c6ba"/>
<circle cx="43.4" cy="63.6" r="1.23" fill="#228c84"/><circle cx="43.12" cy="63.32" r="0.66" fill="#46c6ba"/>
<circle cx="46.7" cy="53.8" r="1.23" fill="#228c84"/><circle cx="46.42" cy="53.52" r="0.66" fill="#46c6ba"/>
<path d="M18.5,94.60000000000001 L40,80.4 L66.6,98.2 L48.8,113.4 Z" fill="#b07818"/>
<path d="M18.5,93.60000000000001 L48.8,112.4 L66.6,97.2" stroke="#e0a838" stroke-width="0.8" fill="none"/>
<path d="M18.5,92.4 L40,78.2 L66.6,96 L48.8,111 Z" fill="#3cb8b2"/>
<path d="M30.0,90.6 l-1.6,-1.6" stroke="#1e7e7a" stroke-width="1.3" stroke-linecap="round"/>
<path d="M38.2,101.9 l-1.0,-3.0" stroke="#a0ece6" stroke-width="1.3" stroke-linecap="round"/>
<path d="M34.8,90.9 l-0.3,-1.5" stroke="#a0ece6" stroke-width="1.3" stroke-linecap="round"/>
<path d="M27.9,94.8 l0.3,-3.1" stroke="#1e7e7a" stroke-width="1.3" stroke-linecap="round"/>
<path d="M32.6,85.0 l-1.6,-1.5" stroke="#72e0d8" stroke-width="1.3" stroke-linecap="round"/>
<path d="M29.1,91.0 l0.3,-2.1" stroke="#228a86" stroke-width="1.3" stroke-linecap="round"/>
<path d="M36.3,84.6 l0.5,-2.5" stroke="#a0ece6" stroke-width="1.3" stroke-linecap="round"/>
<path d="M32.2,85.8 l0.4,-2.2" stroke="#228a86" stroke-width="1.3" stroke-linecap="round"/>
<path d="M53.5,99.3 l0.3,-2.3" stroke="#34aaa6" stroke-width="1.3" stroke-linecap="round"/>
<path d="M49.0,102.9 l1.0,-3.0" stroke="#1e7e7a" stroke-width="1.3" stroke-linecap="round"/>
<path d="M40.0,97.3 l0.8,-2.6" stroke="#52d0ca" stroke-width="1.3" stroke-linecap="round"/>
<path d="M43.2,80.7 l-1.2,-2.5" stroke="#34aaa6" stroke-width="1.3" stroke-linecap="round"/>
<path d="M51.3,87.0 l-1.5,-2.1" stroke="#1e7e7a" stroke-width="1.3" stroke-linecap="round"/>
<path d="M60.3,96.4 l0.7,-2.0" stroke="#52d0ca" stroke-width="1.3" stroke-linecap="round"/>
<path d="M44.8,92.7 l-1.5,-2.7" stroke="#62d8d0" stroke-width="1.3" stroke-linecap="round"/>
<path d="M35.5,83.7 l0.7,-1.9" stroke="#1e7e7a" stroke-width="1.3" stroke-linecap="round"/>
<path d="M64.8,93.6 l0.8,-1.4" stroke="#52d0ca" stroke-width="1.3" stroke-linecap="round"/>
<path d="M54.5,105.0 l-1.2,-3.0" stroke="#52d0ca" stroke-width="1.3" stroke-linecap="round"/>
<path d="M43.0,105.9 l0.9,-2.4" stroke="#72e0d8" stroke-width="1.3" stroke-linecap="round"/>
<path d="M53.3,88.6 l-0.2,-2.1" stroke="#72e0d8" stroke-width="1.3" stroke-linecap="round"/>
<path d="M62.3,95.1 l0.2,-1.8" stroke="#62d8d0" stroke-width="1.3" stroke-linecap="round"/>
<path d="M60.4,91.1 l1.6,-2.9" stroke="#34aaa6" stroke-width="1.3" stroke-linecap="round"/>
<path d="M29.3,94.2 l-1.8,-1.5" stroke="#72e0d8" stroke-width="1.3" stroke-linecap="round"/>
<path d="M31.0,95.1 l-0.3,-2.5" stroke="#72e0d8" stroke-width="1.3" stroke-linecap="round"/>
<path d="M59.6,102.1 l1.3,-1.3" stroke="#1e7e7a" stroke-width="1.3" stroke-linecap="round"/>
<path d="M55.0,96.9 l1.4,-1.6" stroke="#34aaa6" stroke-width="1.3" stroke-linecap="round"/>
<path d="M61.5,94.8 l-0.4,-2.4" stroke="#34aaa6" stroke-width="1.3" stroke-linecap="round"/>
<path d="M41.0,93.0 l-1.6,-2.8" stroke="#72e0d8" stroke-width="1.3" stroke-linecap="round"/>
<path d="M32.3,96.4 l-1.4,-2.1" stroke="#228a86" stroke-width="1.3" stroke-linecap="round"/>
<path d="M58.8,102.4 l-1.7,-1.5" stroke="#a0ece6" stroke-width="1.3" stroke-linecap="round"/>
<path d="M36.2,86.4 l1.6,-2.0" stroke="#52d0ca" stroke-width="1.3" stroke-linecap="round"/>
<path d="M32.2,87.8 l1.8,-2.3" stroke="#34aaa6" stroke-width="1.3" stroke-linecap="round"/>
<path d="M31.5,87.1 l0.9,-1.7" stroke="#228a86" stroke-width="1.3" stroke-linecap="round"/>
<path d="M49.8,98.5 l-1.7,-1.3" stroke="#a0ece6" stroke-width="1.3" stroke-linecap="round"/>
<path d="M34.3,87.6 l1.5,-1.7" stroke="#a0ece6" stroke-width="1.3" stroke-linecap="round"/>
<path d="M44.4,100.1 l0.7,-2.7" stroke="#228a86" stroke-width="1.3" stroke-linecap="round"/>
<path d="M31.4,90.3 l-1.0,-2.1" stroke="#62d8d0" stroke-width="1.3" stroke-linecap="round"/>
<path d="M48.6,97.1 l1.1,-1.2" stroke="#a0ece6" stroke-width="1.3" stroke-linecap="round"/>
<path d="M61.3,95.3 l-0.4,-1.6" stroke="#62d8d0" stroke-width="1.3" stroke-linecap="round"/>
<path d="M37.7,98.7 l-1.7,-3.1" stroke="#1e7e7a" stroke-width="1.3" stroke-linecap="round"/>
<path d="M32.4,93.3 l0.4,-2.5" stroke="#1e7e7a" stroke-width="1.3" stroke-linecap="round"/>
<path d="M57.8,94.4 l1.6,-2.5" stroke="#52d0ca" stroke-width="1.3" stroke-linecap="round"/>
<path d="M30.1,93.5 l-0.6,-2.2" stroke="#72e0d8" stroke-width="1.3" stroke-linecap="round"/>
<path d="M58.2,89.8 l-0.1,-1.9" stroke="#228a86" stroke-width="1.3" stroke-linecap="round"/>
<path d="M38.3,82.6 l-1.4,-2.4" stroke="#1e7e7a" stroke-width="1.3" stroke-linecap="round"/>
<path d="M39.8,86.0 l-0.2,-1.9" stroke="#72e0d8" stroke-width="1.3" stroke-linecap="round"/>
<path d="M49.0,108.8 l-0.4,-2.4" stroke="#1e7e7a" stroke-width="1.3" stroke-linecap="round"/>
<path d="M60.8,92.4 l1.8,-3.1" stroke="#72e0d8" stroke-width="1.3" stroke-linecap="round"/>
<path d="M45.3,92.7 l-1.3,-1.5" stroke="#1e7e7a" stroke-width="1.3" stroke-linecap="round"/>
<path d="M59.5,90.7 l-1.2,-2.1" stroke="#52d0ca" stroke-width="1.3" stroke-linecap="round"/>
<path d="M43.2,107.0 l0.5,-2.1" stroke="#1e7e7a" stroke-width="1.3" stroke-linecap="round"/>
<path d="M51.7,87.2 l-1.1,-1.5" stroke="#62d8d0" stroke-width="1.3" stroke-linecap="round"/>
<path d="M25.5,96.0 l-0.9,-2.0" stroke="#a0ece6" stroke-width="1.3" stroke-linecap="round"/>
<path d="M36.8,96.5 l-1.6,-1.7" stroke="#72e0d8" stroke-width="1.3" stroke-linecap="round"/>
<path d="M57.9,92.0 l1.5,-2.4" stroke="#62d8d0" stroke-width="1.3" stroke-linecap="round"/>
<path d="M53.4,88.7 l-1.3,-2.2" stroke="#a0ece6" stroke-width="1.3" stroke-linecap="round"/>
<path d="M60.8,94.4 l-1.8,-1.6" stroke="#a0ece6" stroke-width="1.3" stroke-linecap="round"/>
<path d="M36.6,98.8 l-1.4,-3.1" stroke="#1e7e7a" stroke-width="1.3" stroke-linecap="round"/>
<path d="M49.3,92.6 l1.0,-3.0" stroke="#34aaa6" stroke-width="1.3" stroke-linecap="round"/>
<path d="M38.1,89.1 l-1.6,-3.0" stroke="#52d0ca" stroke-width="1.3" stroke-linecap="round"/>
<path d="M29.1,86.5 l-0.2,-2.0" stroke="#228a86" stroke-width="1.3" stroke-linecap="round"/>
<path d="M44.9,94.7 l-0.8,-2.2" stroke="#1e7e7a" stroke-width="1.3" stroke-linecap="round"/>
<path d="M51.2,90.4 l0.7,-1.4" stroke="#72e0d8" stroke-width="1.3" stroke-linecap="round"/>
<path d="M46.6,83.8 l1.4,-2.8" stroke="#a0ece6" stroke-width="1.3" stroke-linecap="round"/>
<path d="M40.7,93.8 l-0.2,-3.1" stroke="#34aaa6" stroke-width="1.3" stroke-linecap="round"/>
<path d="M25.9,90.3 l-0.7,-3.0" stroke="#1e7e7a" stroke-width="1.3" stroke-linecap="round"/>
<path d="M63.7,98.8 l0.6,-2.9" stroke="#1e7e7a" stroke-width="1.3" stroke-linecap="round"/>
<path d="M66.8,97.9 l0.9,-3.0" stroke="#72e0d8" stroke-width="1.3" stroke-linecap="round"/>
<path d="M42.5,82.9 l1.2,-2.9" stroke="#1e7e7a" stroke-width="1.3" stroke-linecap="round"/>
<path d="M43.4,95.9 l-0.3,-2.5" stroke="#52d0ca" stroke-width="1.3" stroke-linecap="round"/>
<path d="M31.6,97.9 l0.2,-2.3" stroke="#52d0ca" stroke-width="1.3" stroke-linecap="round"/>
<path d="M28.9,98.3 l-0.7,-1.3" stroke="#a0ece6" stroke-width="1.3" stroke-linecap="round"/>
<path d="M48.8,107.9 l1.7,-3.0" stroke="#72e0d8" stroke-width="1.3" stroke-linecap="round"/>
<path d="M25.4,89.4 l-1.1,-1.7" stroke="#62d8d0" stroke-width="1.3" stroke-linecap="round"/>
<path d="M61.9,96.6 l1.1,-2.7" stroke="#1e7e7a" stroke-width="1.3" stroke-linecap="round"/>
<path d="M49.6,107.4 l-0.0,-2.5" stroke="#a0ece6" stroke-width="1.3" stroke-linecap="round"/>
<path d="M48.7,103.3 l-0.3,-3.1" stroke="#72e0d8" stroke-width="1.3" stroke-linecap="round"/>
<path d="M57.9,90.9 l-0.9,-2.0" stroke="#62d8d0" stroke-width="1.3" stroke-linecap="round"/>
<path d="M31.3,94.2 l-0.2,-2.5" stroke="#228a86" stroke-width="1.3" stroke-linecap="round"/>
<path d="M58.5,101.8 l0.4,-3.1" stroke="#52d0ca" stroke-width="1.3" stroke-linecap="round"/>
<path d="M62.2,99.8 l-0.9,-2.8" stroke="#72e0d8" stroke-width="1.3" stroke-linecap="round"/>
<path d="M57.6,90.9 l0.9,-2.6" stroke="#a0ece6" stroke-width="1.3" stroke-linecap="round"/>
<path d="M34.6,88.6 l1.1,-1.2" stroke="#52d0ca" stroke-width="1.3" stroke-linecap="round"/>
<path d="M19.9,92.2 l0.2,-2.8" stroke="#a0ece6" stroke-width="1.3" stroke-linecap="round"/>
<path d="M57.0,103.0 l0.6,-1.9" stroke="#228a86" stroke-width="1.3" stroke-linecap="round"/>
<path d="M49.2,93.2 l1.7,-2.6" stroke="#34aaa6" stroke-width="1.3" stroke-linecap="round"/>
<path d="M30.1,93.6 l1.2,-1.8" stroke="#72e0d8" stroke-width="1.3" stroke-linecap="round"/>
<path d="M44.4,90.9 l1.7,-1.5" stroke="#52d0ca" stroke-width="1.3" stroke-linecap="round"/>
<path d="M37.8,103.8 l-0.2,-3.1" stroke="#52d0ca" stroke-width="1.3" stroke-linecap="round"/>
<path d="M44.3,90.0 l0.6,-2.6" stroke="#a0ece6" stroke-width="1.3" stroke-linecap="round"/>
<path d="M32.6,94.4 l-1.1,-2.7" stroke="#34aaa6" stroke-width="1.3" stroke-linecap="round"/>
<path d="M29.6,99.1 l1.7,-2.1" stroke="#52d0ca" stroke-width="1.3" stroke-linecap="round"/>
<path d="M53.0,106.9 l-1.0,-2.8" stroke="#52d0ca" stroke-width="1.3" stroke-linecap="round"/>
<path d="M28.3,89.2 l0.0,-2.8" stroke="#52d0ca" stroke-width="1.3" stroke-linecap="round"/>
<path d="M29.5,85.3 l1.1,-2.9" stroke="#52d0ca" stroke-width="1.3" stroke-linecap="round"/>
<path d="M43.1,91.4 l-0.7,-2.7" stroke="#52d0ca" stroke-width="1.3" stroke-linecap="round"/>
<path d="M47.1,93.9 l-1.2,-1.4" stroke="#62d8d0" stroke-width="1.3" stroke-linecap="round"/>
<path d="M53.4,92.4 l-0.6,-1.2" stroke="#62d8d0" stroke-width="1.3" stroke-linecap="round"/>
<path d="M43.7,103.7 l-1.3,-1.6" stroke="#1e7e7a" stroke-width="1.3" stroke-linecap="round"/>
<path d="M49.4,91.8 l0.8,-1.6" stroke="#34aaa6" stroke-width="1.3" stroke-linecap="round"/>
<path d="M37.4,100.2 l0.2,-1.6" stroke="#a0ece6" stroke-width="1.3" stroke-linecap="round"/>
<path d="M39.6,104.9 l1.4,-1.8" stroke="#62d8d0" stroke-width="1.3" stroke-linecap="round"/>
<path d="M40.4,86.8 l-1.6,-1.9" stroke="#228a86" stroke-width="1.3" stroke-linecap="round"/>
<path d="M50.5,85.8 l0.2,-1.9" stroke="#34aaa6" stroke-width="1.3" stroke-linecap="round"/>
<path d="M52.6,96.2 l-0.9,-2.3" stroke="#34aaa6" stroke-width="1.3" stroke-linecap="round"/>
<path d="M48.3,108.7 l-1.5,-2.1" stroke="#a0ece6" stroke-width="1.3" stroke-linecap="round"/>
<path d="M48.9,90.6 l-1.5,-2.7" stroke="#62d8d0" stroke-width="1.3" stroke-linecap="round"/>
<path d="M40.4,85.9 l0.5,-2.3" stroke="#1e7e7a" stroke-width="1.3" stroke-linecap="round"/>
<path d="M39.0,81.8 l-0.8,-3.1" stroke="#1e7e7a" stroke-width="1.3" stroke-linecap="round"/>
<path d="M38.1,87.1 l-1.3,-2.7" stroke="#a0ece6" stroke-width="1.3" stroke-linecap="round"/>
<path d="M43.7,87.5 l-1.3,-2.2" stroke="#a0ece6" stroke-width="1.3" stroke-linecap="round"/>
<path d="M58.4,103.6 l0.7,-1.8" stroke="#228a86" stroke-width="1.3" stroke-linecap="round"/>
<path d="M40.4,97.9 l-0.1,-1.7" stroke="#34aaa6" stroke-width="1.3" stroke-linecap="round"/>
<path d="M56.5,88.5 l1.7,-1.3" stroke="#52d0ca" stroke-width="1.3" stroke-linecap="round"/>
<path d="M32.8,100.7 l0.0,-1.2" stroke="#62d8d0" stroke-width="1.3" stroke-linecap="round"/>
<path d="M51.6,85.5 l-1.5,-3.0" stroke="#72e0d8" stroke-width="1.3" stroke-linecap="round"/>
<path d="M42.5,86.7 l-1.3,-1.6" stroke="#52d0ca" stroke-width="1.3" stroke-linecap="round"/>
<path d="M56.3,101.7 l-0.5,-2.2" stroke="#1e7e7a" stroke-width="1.3" stroke-linecap="round"/>
<path d="M49.3,87.3 l-1.8,-2.2" stroke="#72e0d8" stroke-width="1.3" stroke-linecap="round"/>
<path d="M37.3,91.6 l-0.3,-2.4" stroke="#72e0d8" stroke-width="1.3" stroke-linecap="round"/>
<path d="M31.1,96.8 l0.9,-1.5" stroke="#52d0ca" stroke-width="1.3" stroke-linecap="round"/>
<path d="M49.2,107.9 l-1.8,-1.7" stroke="#1e7e7a" stroke-width="1.3" stroke-linecap="round"/>
<path d="M25.9,90.0 l1.8,-2.0" stroke="#34aaa6" stroke-width="1.3" stroke-linecap="round"/>
<path d="M39.2,95.2 l1.3,-2.6" stroke="#52d0ca" stroke-width="1.3" stroke-linecap="round"/>
<path d="M39.7,104.0 l1.6,-2.7" stroke="#1e7e7a" stroke-width="1.3" stroke-linecap="round"/>
<path d="M39.7,98.1 l1.0,-1.6" stroke="#72e0d8" stroke-width="1.3" stroke-linecap="round"/>
<path d="M28.6,86.9 l0.5,-1.4" stroke="#62d8d0" stroke-width="1.3" stroke-linecap="round"/>
<path d="M55.4,89.3 l-1.5,-1.3" stroke="#1e7e7a" stroke-width="1.3" stroke-linecap="round"/>
<path d="M46.0,98.0 l0.5,-2.6" stroke="#72e0d8" stroke-width="1.3" stroke-linecap="round"/>
<path d="M47.6,108.9 l-1.2,-2.4" stroke="#72e0d8" stroke-width="1.3" stroke-linecap="round"/>
<path d="M32.3,93.2 l1.7,-2.7" stroke="#1e7e7a" stroke-width="1.3" stroke-linecap="round"/>
<path d="M41.7,88.7 l0.6,-3.0" stroke="#a0ece6" stroke-width="1.3" stroke-linecap="round"/>
<path d="M34.6,84.7 l1.5,-2.2" stroke="#a0ece6" stroke-width="1.3" stroke-linecap="round"/>
<path d="M50.7,106.1 l-0.2,-2.9" stroke="#62d8d0" stroke-width="1.3" stroke-linecap="round"/>
<path d="M25.4,91.4 l0.2,-2.6" stroke="#52d0ca" stroke-width="1.3" stroke-linecap="round"/>
<path d="M50.9,102.2 l1.4,-1.7" stroke="#72e0d8" stroke-width="1.3" stroke-linecap="round"/>
<path d="M39.9,94.2 l-1.0,-2.7" stroke="#a0ece6" stroke-width="1.3" stroke-linecap="round"/>
<path d="M49.8,91.0 l1.7,-2.9" stroke="#a0ece6" stroke-width="1.3" stroke-linecap="round"/>
<path d="M48.4,97.0 l1.3,-3.0" stroke="#62d8d0" stroke-width="1.3" stroke-linecap="round"/>
<path d="M49.4,86.8 l-0.2,-1.3" stroke="#1e7e7a" stroke-width="1.3" stroke-linecap="round"/>
<path d="M63.2,96.6 l-1.3,-2.3" stroke="#228a86" stroke-width="1.3" stroke-linecap="round"/>
<path d="M59.3,96.5 l-0.0,-3.1" stroke="#a0ece6" stroke-width="1.3" stroke-linecap="round"/>
<path d="M66.6,96.5 l1.3,-1.3" stroke="#a0ece6" stroke-width="1.3" stroke-linecap="round"/>
<path d="M27.1,90.9 l-1.3,-1.3" stroke="#72e0d8" stroke-width="1.3" stroke-linecap="round"/>
<path d="M45.9,106.2 l0.5,-1.7" stroke="#1e7e7a" stroke-width="1.3" stroke-linecap="round"/>
<path d="M45.0,96.2 l-1.8,-2.9" stroke="#228a86" stroke-width="1.3" stroke-linecap="round"/>
<path d="M31.9,85.0 l-0.7,-2.9" stroke="#1e7e7a" stroke-width="1.3" stroke-linecap="round"/>
<path d="M43.2,100.7 l0.9,-3.0" stroke="#1e7e7a" stroke-width="1.3" stroke-linecap="round"/>
<path d="M53.5,105.7 l-0.4,-2.8" stroke="#72e0d8" stroke-width="1.3" stroke-linecap="round"/>
<path d="M31.7,84.1 l1.8,-2.6" stroke="#52d0ca" stroke-width="1.3" stroke-linecap="round"/>
<path d="M69,75.5 L76,82.2" stroke="#5c86c8" stroke-width="1.6"/>
<path d="M78.2,84.3 L73.8,83.4 L77.2,80 Z" fill="#5c86c8"/>
<path d="M76.4,22.8 L124.8,22.8 L124.8,70 Q124.8,76.2 118,76.2 L83,76.2 Q76.4,76.2 76.4,70 Z" fill="#dfe6ea"/>
<path d="M77,23.3 L124.2,23.3 L124.2,30 L77,30 Z" fill="#e9eef1"/>
<path d="M87.3,47.5 L87.3,17.5 Q87.3,11 93.5,11 L107,11 Q113.3,11 113.3,17.5 L113.3,36" fill="none" stroke="#cdbf98" stroke-width="0.9"/>
<rect x="89.8" y="8.8" width="20.6" height="2.8" rx="1.4" fill="#1e5a30"/>
<rect x="89.50" y="17.40" width="1.70" height="1.70" fill="#1a8ac8"/>
<rect x="108.60" y="17.40" width="1.70" height="1.70" fill="#1a8ac8"/>
<rect x="86.20" y="46.80" width="3.00" height="20.80" fill="#2a2410"/>
<circle cx="86.6" cy="47.60" r="1.15" fill="#f2dc18"/>
<circle cx="88.5" cy="49.65" r="1.15" fill="#f2dc18"/>
<circle cx="86.6" cy="51.70" r="1.15" fill="#f2dc18"/>
<circle cx="88.5" cy="53.75" r="1.15" fill="#f2dc18"/>
<circle cx="86.6" cy="55.80" r="1.15" fill="#f2dc18"/>
<circle cx="88.5" cy="57.85" r="1.15" fill="#f2dc18"/>
<circle cx="86.6" cy="59.90" r="1.15" fill="#f2dc18"/>
<circle cx="88.5" cy="61.95" r="1.15" fill="#f2dc18"/>
<circle cx="86.6" cy="64.00" r="1.15" fill="#f2dc18"/>
<circle cx="88.5" cy="66.05" r="1.15" fill="#f2dc18"/>
<rect x="112.20" y="35.20" width="4.20" height="34.00" fill="#2f7a3c"/>
<circle cx="113.2" cy="36.30" r="1.0" fill="#e050c0"/>
<circle cx="115.2" cy="39.10" r="1.0" fill="#e050c0"/>
<circle cx="113.2" cy="41.90" r="1.0" fill="#e050c0"/>
<circle cx="115.2" cy="44.70" r="1.0" fill="#e050c0"/>
<circle cx="113.2" cy="47.50" r="1.0" fill="#e050c0"/>
<circle cx="115.2" cy="50.30" r="1.0" fill="#e050c0"/>
<circle cx="113.2" cy="53.10" r="1.0" fill="#e050c0"/>
<circle cx="115.2" cy="55.90" r="1.0" fill="#e050c0"/>
<circle cx="113.2" cy="58.70" r="1.0" fill="#e050c0"/>
<circle cx="115.2" cy="61.50" r="1.0" fill="#e050c0"/>
<circle cx="113.2" cy="64.30" r="1.0" fill="#e050c0"/>
<circle cx="115.2" cy="67.10" r="1.0" fill="#e050c0"/>
<circle cx="94.2" cy="42.4" r="1.2" fill="#f5dc28"/>
<circle cx="102.2" cy="41.5" r="1.2" fill="#f5dc28"/>
<circle cx="110.3" cy="38.8" r="1.2" fill="#f5dc28"/>
<circle cx="96.9" cy="37" r="1.2" fill="#e050c8"/>
<circle cx="105.8" cy="37.9" r="1.2" fill="#e050c8"/>
<circle cx="92.5" cy="48.6" r="1.2" fill="#f5dc28"/>
<circle cx="98.7" cy="48.2" r="1.2" fill="#f5dc28"/>
<circle cx="104.9" cy="48.4" r="1.2" fill="#f5dc28"/>
<circle cx="110.8" cy="48.8" r="1.2" fill="#f5dc28"/>
<circle cx="91.6" cy="52.7" r="1.2" fill="#e050c8"/>
<circle cx="100.5" cy="52.7" r="1.2" fill="#e050c8"/>
<circle cx="106.7" cy="52.5" r="1.2" fill="#e050c8"/>
<circle cx="94.2" cy="58.4" r="1.2" fill="#f5dc28"/>
<circle cx="105.8" cy="58.2" r="1.2" fill="#f5dc28"/>
<circle cx="97.5" cy="56.4" r="1.2" fill="#e050c8"/>
<circle cx="100.5" cy="62.8" r="1.2" fill="#e050c8"/>
<circle cx="108.5" cy="62.8" r="1.2" fill="#e050c8"/>
<circle cx="93.4" cy="66.4" r="1.2" fill="#f5dc28"/>
<circle cx="98.7" cy="67.2" r="1.2" fill="#e050c8"/>
<circle cx="104" cy="68.2" r="1.2" fill="#f5dc28"/>
<circle cx="91" cy="61.5" r="1.2" fill="#e050c8"/>
<circle cx="110" cy="56.5" r="1.2" fill="#e050c8"/>
<circle cx="79.6" cy="27.5" r="0.75" fill="#f07a68"/>
<circle cx="82.2" cy="27.5" r="0.75" fill="#f07a68"/>
<circle cx="80.9" cy="30" r="0.75" fill="#f07a68"/>
<circle cx="80.9" cy="34" r="0.75" fill="#f07a68"/>
<circle cx="80.9" cy="40" r="0.75" fill="#f07a68"/>
<circle cx="80.9" cy="46" r="0.75" fill="#f07a68"/>
<circle cx="81.5" cy="52" r="0.75" fill="#f07a68"/>
<circle cx="80.4" cy="58" r="0.75" fill="#f07a68"/>
<circle cx="81.2" cy="63" r="0.75" fill="#f07a68"/>
<circle cx="118.7" cy="27.5" r="0.75" fill="#3cc4c0"/>
<circle cx="121.3" cy="27.5" r="0.75" fill="#3cc4c0"/>
<circle cx="120" cy="30" r="0.75" fill="#3cc4c0"/>
<circle cx="120" cy="34" r="0.75" fill="#3cc4c0"/>
<circle cx="120" cy="40" r="0.75" fill="#3cc4c0"/>
<circle cx="120" cy="46" r="0.75" fill="#3cc4c0"/>
<circle cx="120.5" cy="52" r="0.75" fill="#3cc4c0"/>
<circle cx="119.5" cy="58" r="0.75" fill="#3cc4c0"/>
<circle cx="120.2" cy="63" r="0.75" fill="#3cc4c0"/>
<text x="82.20" y="72.40" font-size="2.8" fill="#555">Pt foils</text>
<linearGradient id="gcone" x1="0" y1="0" x2="0" y2="1"><stop offset="0" stop-color="#8fd8a0"/><stop offset="1" stop-color="#e4f6e8"/></linearGradient>
<path d="M111.5,69 L116.5,69 L113,88 L93,88 Z" fill="url(#gcone)" opacity="0.85"/>
<path d="M99.10,92.50 L102.48,94.95 M102.48,94.95 L101.19,98.92 M101.19,98.92 L97.01,98.92 M97.01,98.92 L95.72,94.95 M95.72,94.95 L99.10,92.50 M93.09,104.59 L89.60,106.61 M89.60,106.61 L86.10,104.59 M86.10,104.59 L86.10,100.56 M86.10,100.56 L89.60,98.54 M89.60,98.54 L93.09,100.56 M93.09,100.56 L93.09,104.59 M112.10,104.59 L108.60,106.61 M108.60,106.61 L105.11,104.59 M105.11,104.59 L105.11,100.56 M105.11,100.56 L108.60,98.54 M108.60,98.54 L112.10,100.56 M112.10,100.56 L112.10,104.59 M97.01,98.92 L93.09,100.56 M101.19,98.92 L108.60,98.54 M99.10,99.60 L99.10,104.88 M93.09,104.59 L99.10,104.88 M105.11,100.56 L99.10,104.88 M89.60,98.54 L89.02,93.84 M89.02,93.84 L85.66,91.92 M89.02,93.84 L91.90,91.44 M112.10,100.56 L109.18,93.84 M109.18,93.84 L112.54,91.92 M109.18,93.84 L106.30,91.44 M86.10,100.56 L84.22,100.56 M112.10,104.59 L113.98,100.56 M99.10,92.50 L99.10,90.19" stroke="#287634" stroke-width="2.40" stroke-linecap="round" fill="none"/>
<path d="M99.10,92.50 L102.48,94.95 M102.48,94.95 L101.19,98.92 M101.19,98.92 L97.01,98.92 M97.01,98.92 L95.72,94.95 M95.72,94.95 L99.10,92.50 M93.09,104.59 L89.60,106.61 M89.60,106.61 L86.10,104.59 M86.10,104.59 L86.10,100.56 M86.10,100.56 L89.60,98.54 M89.60,98.54 L93.09,100.56 M93.09,100.56 L93.09,104.59 M112.10,104.59 L108.60,106.61 M108.60,106.61 L105.11,104.59 M105.11,104.59 L105.11,100.56 M105.11,100.56 L108.60,98.54 M108.60,98.54 L112.10,100.56 M112.10,100.56 L112.10,104.59 M97.01,98.92 L93.09,100.56 M101.19,98.92 L108.60,98.54 M99.10,99.60 L99.10,104.88 M93.09,104.59 L99.10,104.88 M105.11,100.56 L99.10,104.88 M89.60,98.54 L89.02,93.84 M89.02,93.84 L85.66,91.92 M89.02,93.84 L91.90,91.44 M112.10,100.56 L109.18,93.84 M109.18,93.84 L112.54,91.92 M109.18,93.84 L106.30,91.44 M86.10,100.56 L84.22,100.56 M112.10,104.59 L113.98,100.56 M99.10,92.50 L99.10,90.19" stroke="#52b264" stroke-width="1.25" stroke-linecap="round" fill="none"/>
<circle cx="99.1" cy="92.5" r="1.25" fill="#287634"/><circle cx="98.81" cy="92.21" r="0.67" fill="#52b264"/>
<circle cx="105.1" cy="100.6" r="1.25" fill="#287634"/><circle cx="104.81" cy="100.31" r="0.67" fill="#52b264"/>
<circle cx="93.1" cy="104.6" r="1.25" fill="#287634"/><circle cx="92.81" cy="104.31" r="0.67" fill="#52b264"/>
<circle cx="101.2" cy="98.9" r="1.25" fill="#287634"/><circle cx="100.91" cy="98.61" r="0.67" fill="#52b264"/>
<circle cx="89.6" cy="98.5" r="1.25" fill="#287634"/><circle cx="89.31" cy="98.21" r="0.67" fill="#52b264"/>
<circle cx="97.0" cy="98.9" r="1.25" fill="#287634"/><circle cx="96.71" cy="98.61" r="0.67" fill="#52b264"/>
<circle cx="108.6" cy="106.6" r="1.25" fill="#287634"/><circle cx="108.31" cy="106.31" r="0.67" fill="#52b264"/>
<circle cx="86.1" cy="104.6" r="1.25" fill="#287634"/><circle cx="85.81" cy="104.31" r="0.67" fill="#52b264"/>
<circle cx="93.1" cy="100.6" r="1.25" fill="#287634"/><circle cx="92.81" cy="100.31" r="0.67" fill="#52b264"/>
<circle cx="114.0" cy="100.6" r="1.25" fill="#287634"/><circle cx="113.71" cy="100.31" r="0.67" fill="#52b264"/>
<circle cx="91.9" cy="91.4" r="1.25" fill="#287634"/><circle cx="91.61" cy="91.11" r="0.67" fill="#52b264"/>
<circle cx="85.7" cy="91.9" r="1.25" fill="#287634"/><circle cx="85.41" cy="91.61" r="0.67" fill="#52b264"/>
<circle cx="109.2" cy="93.8" r="1.25" fill="#287634"/><circle cx="108.91" cy="93.51" r="0.67" fill="#52b264"/>
<circle cx="112.1" cy="104.6" r="1.25" fill="#287634"/><circle cx="111.81" cy="104.31" r="0.67" fill="#52b264"/>
<circle cx="112.5" cy="91.9" r="1.25" fill="#287634"/><circle cx="112.21" cy="91.61" r="0.67" fill="#52b264"/>
<circle cx="99.1" cy="90.2" r="1.25" fill="#287634"/><circle cx="98.81" cy="89.91" r="0.67" fill="#52b264"/>
<circle cx="86.1" cy="100.6" r="1.25" fill="#287634"/><circle cx="85.81" cy="100.31" r="0.67" fill="#52b264"/>
<circle cx="95.7" cy="95.0" r="1.25" fill="#287634"/><circle cx="95.41" cy="94.71" r="0.67" fill="#52b264"/>
<circle cx="106.3" cy="91.4" r="1.25" fill="#287634"/><circle cx="106.01" cy="91.11" r="0.67" fill="#52b264"/>
<circle cx="108.6" cy="98.5" r="1.25" fill="#287634"/><circle cx="108.31" cy="98.21" r="0.67" fill="#52b264"/>
<circle cx="105.1" cy="104.6" r="1.25" fill="#287634"/><circle cx="104.81" cy="104.31" r="0.67" fill="#52b264"/>
<circle cx="84.2" cy="100.6" r="1.25" fill="#287634"/><circle cx="83.91" cy="100.31" r="0.67" fill="#52b264"/>
<circle cx="112.1" cy="100.6" r="1.25" fill="#287634"/><circle cx="111.81" cy="100.31" r="0.67" fill="#52b264"/>
<circle cx="89.6" cy="106.6" r="1.25" fill="#287634"/><circle cx="89.31" cy="106.31" r="0.67" fill="#52b264"/>
<circle cx="99.1" cy="104.9" r="1.25" fill="#287634"/><circle cx="98.81" cy="104.61" r="0.67" fill="#52b264"/>
<circle cx="102.5" cy="95.0" r="1.25" fill="#287634"/><circle cx="102.21" cy="94.71" r="0.67" fill="#52b264"/>
<circle cx="99.1" cy="99.6" r="1.25" fill="#287634"/><circle cx="98.81" cy="99.31" r="0.67" fill="#52b264"/>
<circle cx="89.0" cy="93.8" r="1.25" fill="#287634"/><circle cx="88.71" cy="93.51" r="0.67" fill="#52b264"/>
<path d="M123.5,97.3 L133,97.3" stroke="#5c86c8" stroke-width="1.5"/>
<path d="M136,97.3 L131.5,95 L131.5,99.6 Z" fill="#5c86c8"/>
<linearGradient id="pcone" x1="0" y1="0" x2="0" y2="1"><stop offset="0" stop-color="#f6dcf0"/><stop offset="1" stop-color="#e8b0dc"/></linearGradient>
<path d="M148.5,33 L167,33 L160.5,53 L155.5,53 Z" fill="url(#pcone)" opacity="0.9"/>
<circle cx="157.6" cy="23.2" r="15" fill="#34b0a4"/>
<path d="M144,30 L152,22 L160,28 Z" fill="#2a968c"/><path d="M150,12 L163,16 L156,22 Z" fill="#48c4b6"/><path d="M160,28 L170,22 L171,30 Z" fill="#2c9c90"/><path d="M146,34 L156,31 L152,37 Z" fill="#238a80"/>
<path d="M144,16 L152,22 L165,12 M152,22 L160,28 L170,22 M143,26 L160,28 M152,22 L150,10" stroke="#8ee0d6" stroke-width="0.6" fill="none"/>
<circle cx="148.9" cy="14.8" r="1.0" fill="#e83c98"/>
<circle cx="161.3" cy="10.5" r="1.0" fill="#e83c98"/>
<circle cx="156.8" cy="10.2" r="1.0" fill="#e83c98"/>
<circle cx="168.0" cy="25.1" r="1.0" fill="#e83c98"/>
<circle cx="168.4" cy="19.2" r="1.0" fill="#e83c98"/>
<circle cx="164.6" cy="18.2" r="1.0" fill="#e83c98"/>
<circle cx="148.4" cy="25.0" r="1.0" fill="#e83c98"/>
<circle cx="146.9" cy="20.2" r="1.0" fill="#e83c98"/>
<circle cx="166.8" cy="24.0" r="1.0" fill="#e83c98"/>
<circle cx="155.2" cy="36.0" r="1.0" fill="#e83c98"/>
<circle cx="158.5" cy="14.4" r="1.0" fill="#e83c98"/>
<circle cx="160.2" cy="14.8" r="1.0" fill="#e83c98"/>
<circle cx="151.2" cy="17.3" r="1.0" fill="#e83c98"/>
<circle cx="170.4" cy="23.3" r="1.0" fill="#e83c98"/>
<circle cx="159.9" cy="32.1" r="1.0" fill="#e83c98"/>
<circle cx="170.3" cy="21.8" r="1.0" fill="#e83c98"/>
<circle cx="154.4" cy="36.1" r="1.0" fill="#e83c98"/>
<circle cx="146.2" cy="20.3" r="1.0" fill="#e83c98"/>
<circle cx="165.7" cy="28.3" r="5.6" fill="#b848b0" stroke="#f0c8e8" stroke-width="0.5"/>
<path d="M165,24 Q170,25 169.5,30 L166,29 Z" fill="#7a2060"/>
<circle cx="166.9" cy="32.5" r="0.6" fill="#f4c020"/>
<circle cx="164.1" cy="24.2" r="0.6" fill="#f4c020"/>
<circle cx="166.8" cy="27.4" r="0.6" fill="#f4c020"/>
<circle cx="165.2" cy="28.9" r="0.6" fill="#f4c020"/>
<circle cx="165.9" cy="28.5" r="0.6" fill="#f4c020"/>
<circle cx="164.8" cy="30.9" r="0.6" fill="#f4c020"/>
<circle cx="168.8" cy="28.4" r="0.6" fill="#f4c020"/>
<circle cx="165.0" cy="29.5" r="0.6" fill="#f4c020"/>
<circle cx="166.6" cy="26.3" r="0.6" fill="#f4c020"/>
<circle cx="164.8" cy="30.3" r="0.6" fill="#f4c020"/>
<circle cx="165.6" cy="28.0" r="0.6" fill="#f4c020"/>
<circle cx="165.8" cy="28.3" r="0.6" fill="#f4c020"/>
<linearGradient id="pcone2" x1="0" y1="0" x2="0" y2="1"><stop offset="0" stop-color="#e8a8d8"/><stop offset="1" stop-color="#f8e8f4"/></linearGradient>
<path d="M142,70 L178,69 L161,92 L156,92 Z" fill="url(#pcone2)" opacity="0.9"/>
<path d="M133.4,63.7 L149.9,51.5 L180.6,68.8 L163.3,82.0 Z" fill="#b07818"/>
<path d="M133.4,62.7 L163.3,81.0 L180.6,67.8" stroke="#e0a838" stroke-width="0.8" fill="none"/>
<path d="M133.4,61.5 L149.9,49.3 L180.6,66.6 L163.3,79.6 Z" fill="#3cb8b2"/>
<path d="M152.2,62.6 l-1.1,-1.8" stroke="#72e0d8" stroke-width="1.3" stroke-linecap="round"/>
<path d="M152.8,65.8 l-1.5,-2.1" stroke="#a0ece6" stroke-width="1.3" stroke-linecap="round"/>
<path d="M144.8,54.7 l-1.2,-1.3" stroke="#34aaa6" stroke-width="1.3" stroke-linecap="round"/>
<path d="M161.7,57.5 l-0.9,-3.0" stroke="#72e0d8" stroke-width="1.3" stroke-linecap="round"/>
<path d="M169.4,72.0 l-1.6,-1.8" stroke="#a0ece6" stroke-width="1.3" stroke-linecap="round"/>
<path d="M173.0,67.9 l-1.1,-2.8" stroke="#52d0ca" stroke-width="1.3" stroke-linecap="round"/>
<path d="M173.1,67.9 l-0.8,-2.8" stroke="#62d8d0" stroke-width="1.3" stroke-linecap="round"/>
<path d="M162.2,72.7 l0.8,-3.2" stroke="#72e0d8" stroke-width="1.3" stroke-linecap="round"/>
<path d="M167.0,72.7 l-0.0,-3.2" stroke="#62d8d0" stroke-width="1.3" stroke-linecap="round"/>
<path d="M167.5,72.7 l1.7,-3.2" stroke="#228a86" stroke-width="1.3" stroke-linecap="round"/>
<path d="M151.9,55.8 l-1.1,-3.2" stroke="#62d8d0" stroke-width="1.3" stroke-linecap="round"/>
<path d="M150.9,70.3 l0.0,-2.1" stroke="#228a86" stroke-width="1.3" stroke-linecap="round"/>
<path d="M148.2,58.5 l-0.4,-1.9" stroke="#228a86" stroke-width="1.3" stroke-linecap="round"/>
<path d="M152.3,70.9 l1.6,-1.8" stroke="#72e0d8" stroke-width="1.3" stroke-linecap="round"/>
<path d="M142.2,65.9 l0.4,-2.9" stroke="#1e7e7a" stroke-width="1.3" stroke-linecap="round"/>
<path d="M167.6,76.2 l-1.4,-1.8" stroke="#228a86" stroke-width="1.3" stroke-linecap="round"/>
<path d="M156.2,54.2 l0.0,-1.7" stroke="#a0ece6" stroke-width="1.3" stroke-linecap="round"/>
<path d="M163.0,60.6 l1.0,-3.0" stroke="#a0ece6" stroke-width="1.3" stroke-linecap="round"/>
<path d="M165.0,72.9 l-0.5,-2.8" stroke="#a0ece6" stroke-width="1.3" stroke-linecap="round"/>
<path d="M165.0,76.2 l-1.7,-1.6" stroke="#1e7e7a" stroke-width="1.3" stroke-linecap="round"/>
<path d="M151.8,65.3 l-1.0,-2.7" stroke="#72e0d8" stroke-width="1.3" stroke-linecap="round"/>
<path d="M156.0,57.1 l-1.4,-1.6" stroke="#52d0ca" stroke-width="1.3" stroke-linecap="round"/>
<path d="M157.2,75.3 l-0.3,-2.5" stroke="#62d8d0" stroke-width="1.3" stroke-linecap="round"/>
<path d="M163.2,62.3 l-0.3,-2.7" stroke="#228a86" stroke-width="1.3" stroke-linecap="round"/>
<path d="M161.3,57.0 l1.6,-2.1" stroke="#52d0ca" stroke-width="1.3" stroke-linecap="round"/>
<path d="M144.4,65.1 l1.2,-2.7" stroke="#1e7e7a" stroke-width="1.3" stroke-linecap="round"/>
<path d="M163.4,78.5 l-0.9,-2.9" stroke="#72e0d8" stroke-width="1.3" stroke-linecap="round"/>
<path d="M139.8,62.7 l-1.6,-2.8" stroke="#228a86" stroke-width="1.3" stroke-linecap="round"/>
<path d="M158.1,67.8 l-0.5,-2.9" stroke="#62d8d0" stroke-width="1.3" stroke-linecap="round"/>
<path d="M146.8,57.1 l0.9,-2.6" stroke="#228a86" stroke-width="1.3" stroke-linecap="round"/>
<path d="M147.9,67.7 l0.7,-1.7" stroke="#72e0d8" stroke-width="1.3" stroke-linecap="round"/>
<path d="M166.2,72.9 l0.6,-2.7" stroke="#72e0d8" stroke-width="1.3" stroke-linecap="round"/>
<path d="M161.4,65.2 l-1.4,-3.1" stroke="#52d0ca" stroke-width="1.3" stroke-linecap="round"/>
<path d="M147.3,58.2 l1.2,-2.9" stroke="#1e7e7a" stroke-width="1.3" stroke-linecap="round"/>
<path d="M172.1,67.4 l-1.2,-2.3" stroke="#72e0d8" stroke-width="1.3" stroke-linecap="round"/>
<path d="M154.2,61.7 l0.2,-2.0" stroke="#72e0d8" stroke-width="1.3" stroke-linecap="round"/>
<path d="M139.7,59.5 l-1.7,-1.2" stroke="#1e7e7a" stroke-width="1.3" stroke-linecap="round"/>
<path d="M164.3,60.5 l0.1,-1.9" stroke="#a0ece6" stroke-width="1.3" stroke-linecap="round"/>
<path d="M172.8,67.7 l0.2,-2.6" stroke="#a0ece6" stroke-width="1.3" stroke-linecap="round"/>
<path d="M166.9,65.7 l-1.4,-2.2" stroke="#228a86" stroke-width="1.3" stroke-linecap="round"/>
<path d="M161.0,76.9 l-1.6,-2.0" stroke="#1e7e7a" stroke-width="1.3" stroke-linecap="round"/>
<path d="M165.8,72.9 l-0.5,-1.3" stroke="#72e0d8" stroke-width="1.3" stroke-linecap="round"/>
<path d="M157.7,63.5 l-1.7,-2.0" stroke="#72e0d8" stroke-width="1.3" stroke-linecap="round"/>
<path d="M163.8,66.3 l0.3,-3.0" stroke="#34aaa6" stroke-width="1.3" stroke-linecap="round"/>
<path d="M156.5,74.7 l-1.6,-2.5" stroke="#228a86" stroke-width="1.3" stroke-linecap="round"/>
<path d="M157.2,65.5 l0.7,-3.0" stroke="#228a86" stroke-width="1.3" stroke-linecap="round"/>
<path d="M144.4,66.3 l1.6,-2.0" stroke="#34aaa6" stroke-width="1.3" stroke-linecap="round"/>
<path d="M179.0,67.4 l-1.3,-1.4" stroke="#62d8d0" stroke-width="1.3" stroke-linecap="round"/>
<path d="M158.0,61.5 l-1.1,-2.8" stroke="#72e0d8" stroke-width="1.3" stroke-linecap="round"/>
<path d="M138.8,62.3 l1.7,-2.5" stroke="#1e7e7a" stroke-width="1.3" stroke-linecap="round"/>
<path d="M159.6,60.9 l-1.1,-1.5" stroke="#a0ece6" stroke-width="1.3" stroke-linecap="round"/>
<path d="M134.9,60.6 l0.1,-2.8" stroke="#62d8d0" stroke-width="1.3" stroke-linecap="round"/>
<path d="M168.9,73.2 l1.7,-2.2" stroke="#228a86" stroke-width="1.3" stroke-linecap="round"/>
<path d="M167.2,72.7 l1.3,-2.0" stroke="#34aaa6" stroke-width="1.3" stroke-linecap="round"/>
<path d="M138.8,59.9 l-1.3,-3.1" stroke="#52d0ca" stroke-width="1.3" stroke-linecap="round"/>
<path d="M147.0,65.6 l1.6,-1.4" stroke="#34aaa6" stroke-width="1.3" stroke-linecap="round"/>
<path d="M177.5,67.8 l-1.7,-2.3" stroke="#228a86" stroke-width="1.3" stroke-linecap="round"/>
<path d="M149.9,62.2 l-0.6,-1.5" stroke="#a0ece6" stroke-width="1.3" stroke-linecap="round"/>
<path d="M146.2,60.4 l-0.7,-2.3" stroke="#52d0ca" stroke-width="1.3" stroke-linecap="round"/>
<path d="M162.3,58.5 l-1.1,-2.4" stroke="#34aaa6" stroke-width="1.3" stroke-linecap="round"/>
<path d="M143.9,60.6 l-1.7,-2.8" stroke="#a0ece6" stroke-width="1.3" stroke-linecap="round"/>
<path d="M166.2,73.3 l-1.5,-1.3" stroke="#1e7e7a" stroke-width="1.3" stroke-linecap="round"/>
<path d="M167.2,60.6 l0.8,-2.8" stroke="#1e7e7a" stroke-width="1.3" stroke-linecap="round"/>
<path d="M152.4,61.0 l0.6,-2.4" stroke="#228a86" stroke-width="1.3" stroke-linecap="round"/>
<path d="M158.9,71.9 l1.2,-2.2" stroke="#62d8d0" stroke-width="1.3" stroke-linecap="round"/>
<path d="M156.5,73.3 l1.5,-2.8" stroke="#52d0ca" stroke-width="1.3" stroke-linecap="round"/>
<path d="M166.5,76.6 l-1.6,-2.9" stroke="#52d0ca" stroke-width="1.3" stroke-linecap="round"/>
<path d="M139.0,61.2 l1.0,-2.4" stroke="#62d8d0" stroke-width="1.3" stroke-linecap="round"/>
<path d="M158.9,58.3 l0.0,-2.9" stroke="#a0ece6" stroke-width="1.3" stroke-linecap="round"/>
<path d="M155.5,59.6 l-1.1,-1.4" stroke="#52d0ca" stroke-width="1.3" stroke-linecap="round"/>
<path d="M166.7,69.0 l1.3,-2.1" stroke="#62d8d0" stroke-width="1.3" stroke-linecap="round"/>
<path d="M154.0,73.8 l-0.8,-2.2" stroke="#228a86" stroke-width="1.3" stroke-linecap="round"/>
<path d="M158.6,60.0 l-1.5,-2.6" stroke="#62d8d0" stroke-width="1.3" stroke-linecap="round"/>
<path d="M156.2,63.9 l-1.2,-2.9" stroke="#72e0d8" stroke-width="1.3" stroke-linecap="round"/>
<path d="M166.8,66.7 l0.2,-1.3" stroke="#228a86" stroke-width="1.3" stroke-linecap="round"/>
<path d="M139.4,64.6 l1.6,-1.7" stroke="#62d8d0" stroke-width="1.3" stroke-linecap="round"/>
<path d="M151.1,62.1 l0.2,-1.4" stroke="#1e7e7a" stroke-width="1.3" stroke-linecap="round"/>
<path d="M143.0,62.5 l0.2,-3.2" stroke="#1e7e7a" stroke-width="1.3" stroke-linecap="round"/>
<path d="M144.0,55.6 l0.8,-2.2" stroke="#62d8d0" stroke-width="1.3" stroke-linecap="round"/>
<path d="M158.6,75.4 l1.4,-2.3" stroke="#34aaa6" stroke-width="1.3" stroke-linecap="round"/>
<path d="M151.1,56.1 l1.5,-1.3" stroke="#228a86" stroke-width="1.3" stroke-linecap="round"/>
<path d="M145.4,66.9 l1.0,-1.3" stroke="#72e0d8" stroke-width="1.3" stroke-linecap="round"/>
<path d="M152.4,68.8 l0.1,-1.9" stroke="#1e7e7a" stroke-width="1.3" stroke-linecap="round"/>
<path d="M154.7,52.7 l0.8,-2.0" stroke="#228a86" stroke-width="1.3" stroke-linecap="round"/>
<path d="M169.1,61.6 l-0.8,-2.9" stroke="#52d0ca" stroke-width="1.3" stroke-linecap="round"/>
<path d="M139.4,58.5 l1.2,-2.7" stroke="#34aaa6" stroke-width="1.3" stroke-linecap="round"/>
<path d="M161.8,68.4 l-1.2,-2.9" stroke="#52d0ca" stroke-width="1.3" stroke-linecap="round"/>
<path d="M148.8,58.1 l1.1,-1.4" stroke="#1e7e7a" stroke-width="1.3" stroke-linecap="round"/>
<path d="M162.3,70.5 l-1.3,-2.4" stroke="#a0ece6" stroke-width="1.3" stroke-linecap="round"/>
<path d="M161.1,57.0 l-0.3,-1.7" stroke="#52d0ca" stroke-width="1.3" stroke-linecap="round"/>
<path d="M167.1,63.3 l-1.5,-1.3" stroke="#a0ece6" stroke-width="1.3" stroke-linecap="round"/>
<path d="M149.6,59.7 l1.0,-1.5" stroke="#a0ece6" stroke-width="1.3" stroke-linecap="round"/>
<path d="M172.1,73.0 l-1.6,-2.1" stroke="#1e7e7a" stroke-width="1.3" stroke-linecap="round"/>
<path d="M164.0,73.1 l1.3,-2.8" stroke="#72e0d8" stroke-width="1.3" stroke-linecap="round"/>
<path d="M152.9,57.3 l-1.0,-2.8" stroke="#52d0ca" stroke-width="1.3" stroke-linecap="round"/>
<path d="M171.9,70.7 l1.6,-2.5" stroke="#52d0ca" stroke-width="1.3" stroke-linecap="round"/>
<path d="M147.4,57.6 l-1.7,-1.7" stroke="#1e7e7a" stroke-width="1.3" stroke-linecap="round"/>
<path d="M138.3,59.8 l-0.9,-1.4" stroke="#228a86" stroke-width="1.3" stroke-linecap="round"/>
<path d="M151.2,62.5 l0.7,-3.0" stroke="#62d8d0" stroke-width="1.3" stroke-linecap="round"/>
<path d="M166.2,65.7 l-1.6,-2.1" stroke="#72e0d8" stroke-width="1.3" stroke-linecap="round"/>
<path d="M167.1,70.6 l0.7,-2.8" stroke="#52d0ca" stroke-width="1.3" stroke-linecap="round"/>
<path d="M165.6,66.8 l1.4,-3.1" stroke="#a0ece6" stroke-width="1.3" stroke-linecap="round"/>
<path d="M158.8,55.3 l-0.8,-2.3" stroke="#34aaa6" stroke-width="1.3" stroke-linecap="round"/>
<path d="M162.2,57.2 l-1.4,-1.4" stroke="#62d8d0" stroke-width="1.3" stroke-linecap="round"/>
<path d="M167.3,63.8 l-0.3,-2.5" stroke="#72e0d8" stroke-width="1.3" stroke-linecap="round"/>
<path d="M169.3,74.9 l-0.3,-1.3" stroke="#62d8d0" stroke-width="1.3" stroke-linecap="round"/>
<path d="M155.8,71.0 l0.8,-2.6" stroke="#62d8d0" stroke-width="1.3" stroke-linecap="round"/>
<path d="M150.8,61.1 l-0.4,-1.3" stroke="#228a86" stroke-width="1.3" stroke-linecap="round"/>
<path d="M178.1,66.9 l-1.2,-3.1" stroke="#34aaa6" stroke-width="1.3" stroke-linecap="round"/>
<path d="M138.5,58.1 l0.3,-3.2" stroke="#228a86" stroke-width="1.3" stroke-linecap="round"/>
<path d="M143.7,58.0 l-0.8,-1.3" stroke="#a0ece6" stroke-width="1.3" stroke-linecap="round"/>
<path d="M162.9,75.2 l0.1,-2.6" stroke="#a0ece6" stroke-width="1.3" stroke-linecap="round"/>
<path d="M160.2,58.6 l-1.1,-2.3" stroke="#72e0d8" stroke-width="1.3" stroke-linecap="round"/>
<path d="M158.4,62.1 l0.0,-1.3" stroke="#62d8d0" stroke-width="1.3" stroke-linecap="round"/>
<path d="M164.7,58.7 l-0.1,-2.0" stroke="#62d8d0" stroke-width="1.3" stroke-linecap="round"/>
<path d="M158.1,62.4 l-1.5,-1.7" stroke="#228a86" stroke-width="1.3" stroke-linecap="round"/>
<path d="M157.4,57.3 l-0.1,-2.0" stroke="#62d8d0" stroke-width="1.3" stroke-linecap="round"/>
<path d="M146.7,57.7 l-0.0,-2.4" stroke="#1e7e7a" stroke-width="1.3" stroke-linecap="round"/>
<path d="M145.1,57.5 l-1.8,-2.6" stroke="#a0ece6" stroke-width="1.3" stroke-linecap="round"/>
<path d="M147.4,54.4 l0.7,-1.7" stroke="#a0ece6" stroke-width="1.3" stroke-linecap="round"/>
<path d="M136.4,59.5 l-0.6,-1.7" stroke="#62d8d0" stroke-width="1.3" stroke-linecap="round"/>
<path d="M176.5,68.0 l-0.6,-2.8" stroke="#52d0ca" stroke-width="1.3" stroke-linecap="round"/>
<path d="M154.4,58.8 l-0.7,-2.2" stroke="#1e7e7a" stroke-width="1.3" stroke-linecap="round"/>
<path d="M157.7,56.6 l-0.8,-3.0" stroke="#1e7e7a" stroke-width="1.3" stroke-linecap="round"/>
<path d="M151.7,60.1 l0.4,-1.6" stroke="#228a86" stroke-width="1.3" stroke-linecap="round"/>
<path d="M146.9,68.1 l-0.7,-2.4" stroke="#34aaa6" stroke-width="1.3" stroke-linecap="round"/>
<path d="M171.3,73.1 l1.2,-1.4" stroke="#72e0d8" stroke-width="1.3" stroke-linecap="round"/>
<path d="M145.3,55.9 l0.6,-1.3" stroke="#62d8d0" stroke-width="1.3" stroke-linecap="round"/>
<path d="M160.1,77.5 l-1.6,-1.7" stroke="#62d8d0" stroke-width="1.3" stroke-linecap="round"/>
<path d="M138.6,61.1 l-1.4,-1.5" stroke="#228a86" stroke-width="1.3" stroke-linecap="round"/>
<path d="M154.8,71.0 l-1.0,-1.8" stroke="#52d0ca" stroke-width="1.3" stroke-linecap="round"/>
<path d="M171.7,63.1 l0.2,-2.8" stroke="#34aaa6" stroke-width="1.3" stroke-linecap="round"/>
<path d="M169.2,61.7 l-0.9,-1.8" stroke="#34aaa6" stroke-width="1.3" stroke-linecap="round"/>
<path d="M167.2,76.3 l0.9,-1.7" stroke="#1e7e7a" stroke-width="1.3" stroke-linecap="round"/>
<path d="M154.8,61.0 l-0.0,-2.0" stroke="#34aaa6" stroke-width="1.3" stroke-linecap="round"/>
<path d="M158.3,58.7 l1.5,-2.5" stroke="#a0ece6" stroke-width="1.3" stroke-linecap="round"/>
<path d="M161.2,73.4 l-0.5,-1.3" stroke="#72e0d8" stroke-width="1.3" stroke-linecap="round"/>
<path d="M137.3,62.0 l0.2,-1.3" stroke="#52d0ca" stroke-width="1.3" stroke-linecap="round"/>
<path d="M164.3,65.9 l1.4,-1.3" stroke="#a0ece6" stroke-width="1.3" stroke-linecap="round"/>
<path d="M151.4,58.5 l-0.6,-2.5" stroke="#a0ece6" stroke-width="1.3" stroke-linecap="round"/>
<path d="M144.4,61.7 l-1.2,-1.6" stroke="#a0ece6" stroke-width="1.3" stroke-linecap="round"/>
<path d="M142.5,64.3 l1.1,-3.2" stroke="#72e0d8" stroke-width="1.3" stroke-linecap="round"/>
<path d="M163.0,64.1 l1.5,-2.9" stroke="#1e7e7a" stroke-width="1.3" stroke-linecap="round"/>
<path d="M165.8,65.3 l0.6,-3.1" stroke="#a0ece6" stroke-width="1.3" stroke-linecap="round"/>
<path d="M139.1,61.6 l-1.3,-2.2" stroke="#a0ece6" stroke-width="1.3" stroke-linecap="round"/>
<path d="M148.7,65.0 l0.2,-1.9" stroke="#228a86" stroke-width="1.3" stroke-linecap="round"/>
<path d="M144.1,53.6 l-0.1,-2.1" stroke="#62d8d0" stroke-width="1.3" stroke-linecap="round"/>
<path d="M155.8,71.4 l1.6,-2.6" stroke="#52d0ca" stroke-width="1.3" stroke-linecap="round"/>
<path d="M146.2,65.6 l0.9,-1.5" stroke="#228a86" stroke-width="1.3" stroke-linecap="round"/>
<path d="M159.3,72.9 l-1.8,-2.2" stroke="#1e7e7a" stroke-width="1.3" stroke-linecap="round"/>
<path d="M156.60,92.30 L159.98,94.75 M159.98,94.75 L158.69,98.72 M158.69,98.72 L154.51,98.72 M154.51,98.72 L153.22,94.75 M153.22,94.75 L156.60,92.30 M150.59,104.39 L147.10,106.41 M147.10,106.41 L143.60,104.39 M143.60,104.39 L143.60,100.36 M143.60,100.36 L147.10,98.34 M147.10,98.34 L150.59,100.36 M150.59,100.36 L150.59,104.39 M169.60,104.39 L166.10,106.41 M166.10,106.41 L162.61,104.39 M162.61,104.39 L162.61,100.36 M162.61,100.36 L166.10,98.34 M166.10,98.34 L169.60,100.36 M169.60,100.36 L169.60,104.39 M154.51,98.72 L150.59,100.36 M158.69,98.72 L166.10,98.34 M156.60,99.40 L156.60,104.68 M150.59,104.39 L156.60,104.68 M162.61,100.36 L156.60,104.68 M147.10,98.34 L146.52,93.64 M146.52,93.64 L143.16,91.72 M146.52,93.64 L149.40,91.24 M169.60,100.36 L166.68,93.64 M166.68,93.64 L170.04,91.72 M166.68,93.64 L163.80,91.24 M143.60,100.36 L141.72,100.36 M169.60,104.39 L171.48,100.36 M156.60,92.30 L156.60,89.99" stroke="#b06ab0" stroke-width="2.40" stroke-linecap="round" fill="none"/>
<path d="M156.60,92.30 L159.98,94.75 M159.98,94.75 L158.69,98.72 M158.69,98.72 L154.51,98.72 M154.51,98.72 L153.22,94.75 M153.22,94.75 L156.60,92.30 M150.59,104.39 L147.10,106.41 M147.10,106.41 L143.60,104.39 M143.60,104.39 L143.60,100.36 M143.60,100.36 L147.10,98.34 M147.10,98.34 L150.59,100.36 M150.59,100.36 L150.59,104.39 M169.60,104.39 L166.10,106.41 M166.10,106.41 L162.61,104.39 M162.61,104.39 L162.61,100.36 M162.61,100.36 L166.10,98.34 M166.10,98.34 L169.60,100.36 M169.60,100.36 L169.60,104.39 M154.51,98.72 L150.59,100.36 M158.69,98.72 L166.10,98.34 M156.60,99.40 L156.60,104.68 M150.59,104.39 L156.60,104.68 M162.61,100.36 L156.60,104.68 M147.10,98.34 L146.52,93.64 M146.52,93.64 L143.16,91.72 M146.52,93.64 L149.40,91.24 M169.60,100.36 L166.68,93.64 M166.68,93.64 L170.04,91.72 M166.68,93.64 L163.80,91.24 M143.60,100.36 L141.72,100.36 M169.60,104.39 L171.48,100.36 M156.60,92.30 L156.60,89.99" stroke="#e0a0e0" stroke-width="1.25" stroke-linecap="round" fill="none"/>
<circle cx="156.6" cy="92.3" r="1.25" fill="#b06ab0"/><circle cx="156.31" cy="92.01" r="0.67" fill="#e0a0e0"/>
<circle cx="162.6" cy="104.4" r="1.25" fill="#b06ab0"/><circle cx="162.31" cy="104.11" r="0.67" fill="#e0a0e0"/>
<circle cx="169.6" cy="100.4" r="1.25" fill="#b06ab0"/><circle cx="169.31" cy="100.11" r="0.67" fill="#e0a0e0"/>
<circle cx="163.8" cy="91.2" r="1.25" fill="#b06ab0"/><circle cx="163.51" cy="90.91" r="0.67" fill="#e0a0e0"/>
<circle cx="154.5" cy="98.7" r="1.25" fill="#b06ab0"/><circle cx="154.21" cy="98.41" r="0.67" fill="#e0a0e0"/>
<circle cx="162.6" cy="100.4" r="1.25" fill="#b06ab0"/><circle cx="162.31" cy="100.11" r="0.67" fill="#e0a0e0"/>
<circle cx="141.7" cy="100.4" r="1.25" fill="#b06ab0"/><circle cx="141.41" cy="100.11" r="0.67" fill="#e0a0e0"/>
<circle cx="158.7" cy="98.7" r="1.25" fill="#b06ab0"/><circle cx="158.41" cy="98.41" r="0.67" fill="#e0a0e0"/>
<circle cx="149.4" cy="91.2" r="1.25" fill="#b06ab0"/><circle cx="149.11" cy="90.91" r="0.67" fill="#e0a0e0"/>
<circle cx="156.6" cy="99.4" r="1.25" fill="#b06ab0"/><circle cx="156.31" cy="99.11" r="0.67" fill="#e0a0e0"/>
<circle cx="160.0" cy="94.8" r="1.25" fill="#b06ab0"/><circle cx="159.71" cy="94.51" r="0.67" fill="#e0a0e0"/>
<circle cx="153.2" cy="94.8" r="1.25" fill="#b06ab0"/><circle cx="152.91" cy="94.51" r="0.67" fill="#e0a0e0"/>
<circle cx="150.6" cy="104.4" r="1.25" fill="#b06ab0"/><circle cx="150.31" cy="104.11" r="0.67" fill="#e0a0e0"/>
<circle cx="143.6" cy="104.4" r="1.25" fill="#b06ab0"/><circle cx="143.31" cy="104.11" r="0.67" fill="#e0a0e0"/>
<circle cx="147.1" cy="98.3" r="1.25" fill="#b06ab0"/><circle cx="146.81" cy="98.01" r="0.67" fill="#e0a0e0"/>
<circle cx="147.1" cy="106.4" r="1.25" fill="#b06ab0"/><circle cx="146.81" cy="106.11" r="0.67" fill="#e0a0e0"/>
<circle cx="156.6" cy="90.0" r="1.25" fill="#b06ab0"/><circle cx="156.31" cy="89.71" r="0.67" fill="#e0a0e0"/>
<circle cx="170.0" cy="91.7" r="1.25" fill="#b06ab0"/><circle cx="169.71" cy="91.41" r="0.67" fill="#e0a0e0"/>
<circle cx="166.7" cy="93.6" r="1.25" fill="#b06ab0"/><circle cx="166.41" cy="93.31" r="0.67" fill="#e0a0e0"/>
<circle cx="169.6" cy="104.4" r="1.25" fill="#b06ab0"/><circle cx="169.31" cy="104.11" r="0.67" fill="#e0a0e0"/>
<circle cx="150.6" cy="100.4" r="1.25" fill="#b06ab0"/><circle cx="150.31" cy="100.11" r="0.67" fill="#e0a0e0"/>
<circle cx="171.5" cy="100.4" r="1.25" fill="#b06ab0"/><circle cx="171.21" cy="100.11" r="0.67" fill="#e0a0e0"/>
<circle cx="143.6" cy="100.4" r="1.25" fill="#b06ab0"/><circle cx="143.31" cy="100.11" r="0.67" fill="#e0a0e0"/>
<circle cx="166.1" cy="98.3" r="1.25" fill="#b06ab0"/><circle cx="165.81" cy="98.01" r="0.67" fill="#e0a0e0"/>
<circle cx="156.6" cy="104.7" r="1.25" fill="#b06ab0"/><circle cx="156.31" cy="104.41" r="0.67" fill="#e0a0e0"/>
<circle cx="166.1" cy="106.4" r="1.25" fill="#b06ab0"/><circle cx="165.81" cy="106.11" r="0.67" fill="#e0a0e0"/>
<circle cx="143.2" cy="91.7" r="1.25" fill="#b06ab0"/><circle cx="142.91" cy="91.41" r="0.67" fill="#e0a0e0"/>
<circle cx="146.5" cy="93.6" r="1.25" fill="#b06ab0"/><circle cx="146.21" cy="93.31" r="0.67" fill="#e0a0e0"/>
<circle cx="192.5" cy="13.5" r="3.6" fill="#f4d81c"/>
<text x="201.20" y="16.90" font-size="8.8" fill="#000" stroke="#000" stroke-width="0.2">Pt</text>
<circle cx="192.5" cy="31.4" r="3.6" fill="#c45cc4"/>
<text x="200.80" y="34.80" font-size="8.8" fill="#000" stroke="#000" stroke-width="0.2">Cu</text>
<path d="M190,45 L195.5,47 L196,53 L190.5,51 Z" fill="#8fd8c8"/>
<text x="198.80" y="52.60" font-size="8.8" fill="#000" stroke="#000" stroke-width="0.2">WO<tspan font-size="5.6" dy="2">3</tspan></text>
<circle cx="191.3" cy="67.8" r="1.6" fill="#f06050"/><circle cx="195.3" cy="67.8" r="1.6" fill="#f06050"/>
<text x="201.00" y="71.20" font-size="8.8" fill="#000" stroke="#000" stroke-width="0.2">O<tspan font-size="5.6" dy="2">2</tspan></text>
<circle cx="191.3" cy="86.9" r="1.6" fill="#30c0c0"/><circle cx="195.3" cy="86.9" r="1.6" fill="#30c0c0"/>
<text x="201.00" y="90.30" font-size="8.8" fill="#000" stroke="#000" stroke-width="0.2">H<tspan font-size="5.6" dy="2">2</tspan></text>
<circle cx="193" cy="105" r="2.6" fill="#1a7ab8"/>
<text x="202.00" y="108.20" font-size="8.8" fill="#000" stroke="#000" stroke-width="0.2">e<tspan font-size="5" dy="-3">-</tspan></text>
<rect x="216.90" y="124.10" width="1.80" height="0.90" fill="#9a9a9a"/>
</svg></body></html>
